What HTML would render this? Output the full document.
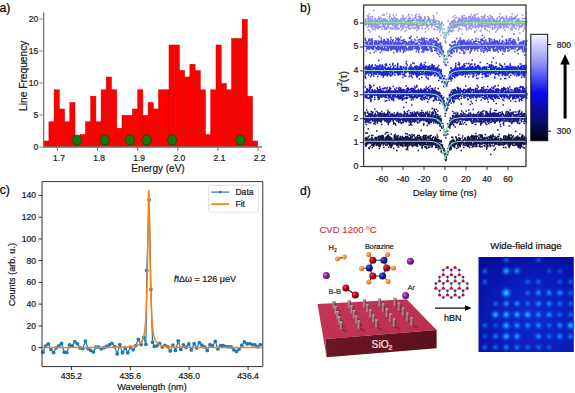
<!DOCTYPE html>
<html><head><meta charset="utf-8"><style>
html,body{margin:0;padding:0;background:#fff;width:575px;height:393px;overflow:hidden}
svg{display:block;font-family:"Liberation Sans", sans-serif}
text{stroke:currentColor;stroke-width:0.22px}
</style></head><body>
<svg width="575" height="393" viewBox="0 0 575 393">
<g fill="#ff0000" stroke="#c80000" stroke-width="0.5"><rect x="43.7" y="141" width="5.2" height="6"/><rect x="48.9" y="121.8" width="5.2" height="25.2"/><rect x="54.1" y="89.8" width="5.2" height="57.2"/><rect x="59.4" y="109" width="5.2" height="38"/><rect x="64.6" y="121.8" width="5.2" height="25.2"/><rect x="69.8" y="102.6" width="5.2" height="44.4"/><rect x="75" y="141" width="5.2" height="6"/><rect x="80.2" y="134.6" width="5.2" height="12.4"/><rect x="85.5" y="121.8" width="5.2" height="25.2"/><rect x="90.7" y="96.2" width="5.2" height="50.8"/><rect x="95.9" y="121.8" width="5.2" height="25.2"/><rect x="101.1" y="89.8" width="5.2" height="57.2"/><rect x="106.3" y="77" width="5.2" height="70"/><rect x="111.6" y="89.8" width="5.2" height="57.2"/><rect x="116.8" y="128.2" width="5.2" height="18.8"/><rect x="122" y="115.4" width="5.2" height="31.6"/><rect x="127.2" y="115.4" width="5.2" height="31.6"/><rect x="132.4" y="109" width="5.2" height="38"/><rect x="137.7" y="89.8" width="5.2" height="57.2"/><rect x="142.9" y="115.4" width="5.2" height="31.6"/><rect x="148.1" y="102.6" width="5.2" height="44.4"/><rect x="153.3" y="109" width="5.2" height="38"/><rect x="158.5" y="89.8" width="5.2" height="57.2"/><rect x="163.8" y="89.8" width="5.2" height="57.2"/><rect x="169" y="45" width="5.2" height="102"/><rect x="174.2" y="45" width="5.2" height="102"/><rect x="179.4" y="70.6" width="5.2" height="76.4"/><rect x="184.6" y="77" width="5.2" height="70"/><rect x="189.9" y="64.2" width="5.2" height="82.8"/><rect x="195.1" y="70.6" width="5.2" height="76.4"/><rect x="200.3" y="89.8" width="5.2" height="57.2"/><rect x="205.5" y="134.6" width="5.2" height="12.4"/><rect x="210.7" y="89.8" width="5.2" height="57.2"/><rect x="216" y="45" width="5.2" height="102"/><rect x="221.2" y="83.4" width="5.2" height="63.6"/><rect x="226.4" y="89.8" width="5.2" height="57.2"/><rect x="231.6" y="38.6" width="5.2" height="108.4"/><rect x="236.8" y="38.6" width="5.2" height="108.4"/><rect x="242.1" y="19.4" width="5.2" height="127.6"/><rect x="247.3" y="96.2" width="5.2" height="50.8"/><rect x="252.5" y="141" width="5.2" height="6"/></g>
<g fill="#0e7a0e" stroke="#064a06" stroke-width="0.8"><polygon points="71.8,139.9 74.3,135.2 79.3,135.2 81.8,139.9 79.3,144.6 74.3,144.6"/><polygon points="99.8,139.9 102.3,135.2 107.3,135.2 109.8,139.9 107.3,144.6 102.3,144.6"/><polygon points="124.8,139.9 127.3,135.2 132.3,135.2 134.8,139.9 132.3,144.6 127.3,144.6"/><polygon points="141.8,139.9 144.3,135.2 149.3,135.2 151.8,139.9 149.3,144.6 144.3,144.6"/><polygon points="167.2,139.9 169.7,135.2 174.7,135.2 177.2,139.9 174.7,144.6 169.7,144.6"/><polygon points="235.5,139.9 238,135.2 243,135.2 245.5,139.9 243,144.6 238,144.6"/></g>
<path d="M43.7 12.5V147H262" fill="none" stroke="#7a7a7a" stroke-width="1.3"/>
<text x="38.2" y="150" font-size="8.5" text-anchor="end" fill="#1a1a1a" style="color:#1a1a1a">0</text>
<text x="38.2" y="118" font-size="8.5" text-anchor="end" fill="#1a1a1a" style="color:#1a1a1a">5</text>
<text x="38.2" y="86" font-size="8.5" text-anchor="end" fill="#1a1a1a" style="color:#1a1a1a">10</text>
<text x="38.2" y="54" font-size="8.5" text-anchor="end" fill="#1a1a1a" style="color:#1a1a1a">15</text>
<text x="38.2" y="22" font-size="8.5" text-anchor="end" fill="#1a1a1a" style="color:#1a1a1a">20</text>
<text x="59" y="160.9" font-size="8.5" text-anchor="middle" fill="#1a1a1a" style="color:#1a1a1a">1.7</text>
<text x="99.1" y="160.9" font-size="8.5" text-anchor="middle" fill="#1a1a1a" style="color:#1a1a1a">1.8</text>
<text x="139.2" y="160.9" font-size="8.5" text-anchor="middle" fill="#1a1a1a" style="color:#1a1a1a">1.9</text>
<text x="179.4" y="160.9" font-size="8.5" text-anchor="middle" fill="#1a1a1a" style="color:#1a1a1a">2.0</text>
<text x="219.5" y="160.9" font-size="8.5" text-anchor="middle" fill="#1a1a1a" style="color:#1a1a1a">2.1</text>
<text x="259.6" y="160.9" font-size="8.5" text-anchor="middle" fill="#1a1a1a" style="color:#1a1a1a">2.2</text>
<path d="M39.3 147H43.7M39.3 115H43.7M39.3 83H43.7M39.3 51H43.7M39.3 19H43.7M57.4 147V151M97.5 147V151M137.6 147V151M177.8 147V151M217.9 147V151M258 147V151" stroke="#7a7a7a" stroke-width="1"/>
<text x="158" y="172.2" font-size="10" text-anchor="middle" fill="#1a1a1a" style="color:#1a1a1a">Energy (eV)</text>
<text transform="translate(26.5 75.8) rotate(-90)" font-size="10.2" text-anchor="middle" fill="#1a1a1a" style="color:#1a1a1a">Line Frequency</text>
<text x="-0.6" y="12.1" font-size="12.2" text-anchor="start" fill="#000" style="color:#000">a)</text>
<path transform="scale(0.5)" d="M729 277h3m-3 2h3m-3 0h3m-3 1h3m-3 0h3m-3 8h3m-2 -22h3m-3 11h3m-3 1h3m-3 5h3m-3 4h3m-3 2h3m-3 3h3m-2 -17h3m-3 3h3m-3 12h3m-3 2h3m-2 -15h3m-3 3h3m-3 1h3m-3 2h3m-3 0h3m-3 1h3m-3 1h3m-3 1h3m-3 1h3m-2 -21h3m-3 11h3m-3 4h3m-3 3h3m-3 1h3m-3 3h3m-2 -9h3m-3 2h3m-3 7h3m-2 -30h3m-3 16h3m-3 10h3m-3 1h3m-2 -5h3m-3 2h3m-3 0h3m-3 4h3m-3 0h3m-3 10h3m-2 -24h3m-3 6h3m-3 1h3m-3 18h3m-2 -19h3m-3 4h3m-3 0h3m-3 2h3m-2 -1h3m-3 2h3m-3 0h3m-3 1h3m-3 0h3m-3 7h3m-2 -15h3m-3 7h3m-3 0h3m-2 -6h3m-3 1h3m-3 0h3m-3 0h3m-3 0h3m-3 1h3m-3 0h3m-3 2h3m-3 3h3m-2 -15h3m-3 4h3m-3 0h3m-3 10h3m-3 5h3m-2 -13h3m-3 0h3m-3 3h3m-3 9h3m-3 6h3m-2 -24h3m-3 9h3m-3 1h3m-3 3h3m-3 0h3m-3 7h3m-2 -12h3m-3 0h3m-3 2h3m-3 1h3m-3 3h3m-3 1h3m-2 -3h3m-3 5h3m-3 0h3m-3 1h3m-3 2h3m-3 1h3m-2 -9h3m-3 0h3m-3 1h3m-3 5h3m-2 -12h3m-3 5h3m-3 1h3m-3 0h3m-3 3h3m-3 1h3m-3 0h3m-2 -12h3m-3 4h3m-3 2h3m-3 2h3m-3 3h3m-3 1h3m-2 -10h3m-3 1h3m-3 3h3m-3 2h3m-3 0h3m-3 1h3m-2 -8h3m-3 0h3m-3 4h3m-3 1h3m-3 1h3m-3 3h3m-3 1h3m-3 3h3m-3 2h3m-2 -29h3m-3 13h3m-3 7h3m-3 3h3m-3 2h3m-2 -9h3m-3 9h3m-3 3h3m-2 -8h3m-2 -9h3m-3 10h3m-3 0h3m-3 0h3m-3 2h3m-2 -10h3m-3 3h3m-3 2h3m-3 4h3m-3 2h3m-3 2h3m-3 4h3m-2 -15h3m-3 0h3m-3 0h3m-3 3h3m-3 2h3m-3 0h3m-3 2h3m-3 2h3m-3 3h3m-3 8h3m-2 -25h3m-3 5h3m-3 5h3m-3 0h3m-3 4h3m-3 7h3m-2 -20h3m-3 0h3m-3 5h3m-3 3h3m-3 2h3m-3 5h3m-3 3h3m-3 0h3m-2 -17h3m-3 11h3m-3 1h3m-3 0h3m-2 -10h3m-3 3h3m-3 1h3m-3 2h3m-3 3h3m-3 0h3m-3 0h3m-3 3h3m-2 -16h3m-3 9h3m-3 1h3m-3 2h3m-2 -13h3m-3 2h3m-3 8h3m-3 0h3m-3 1h3m-3 1h3m-3 2h3m-3 1h3m-2 -11h3m-3 2h3m-3 1h3m-3 0h3m-3 2h3m-3 1h3m-3 0h3m-3 4h3m-2 -13h3m-3 3h3m-3 2h3m-3 3h3m-3 2h3m-3 3h3m-3 0h3m-3 1h3m-3 2h3m-3 2h3m-2 -12h3m-3 10h3m-3 1h3m-3 6h3m-2 -15h3m-3 5h3m-2 -6h3m-3 1h3m-3 1h3m-3 0h3m-3 0h3m-3 1h3m-3 2h3m-3 2h3m-3 1h3m-2 -19h3m-3 7h3m-3 4h3m-3 1h3m-3 2h3m-2 -5h3m-3 8h3m-3 5h3m-2 -25h3m-3 17h3m-3 3h3m-3 0h3m-2 -12h3m-3 3h3m-3 4h3m-3 3h3m-3 3h3m-2 -8h3m-3 4h3m-3 2h3m-3 0h3m-3 0h3m-3 2h3m-3 3h3m-3 1h3m-2 -25h3m-3 7h3m-3 3h3m-3 1h3m-3 5h3m-3 0h3m-3 1h3m-3 0h3m-3 0h3m-3 3h3m-3 1h3m-3 1h3m-2 -17h3m-3 2h3m-3 6h3m-3 1h3m-3 0h3m-3 0h3m-3 3h3m-3 0h3m-3 0h3m-3 1h3m-3 2h3m-3 1h3m-2 -13h3m-3 4h3m-3 7h3m-3 4h3m-3 6h3m-2 -18h3m-3 3h3m-3 2h3m-3 7h3m-2 -15h3m-3 6h3m-3 1h3m-3 1h3m-3 4h3m-3 2h3m-3 4h3m-2 -15h3m-3 1h3m-3 1h3m-3 1h3m-3 3h3m-3 2h3m-3 1h3m-3 0h3m-3 0h3m-3 1h3m-2 -9h3m-3 2h3m-3 3h3m-3 5h3m-3 0h3m-3 1h3m-3 7h3m-2 -27h3m-3 10h3m-3 4h3m-3 2h3m-3 6h3m-3 0h3m-3 3h3m-3 1h3m-2 -18h3m-3 3h3m-3 9h3m-2 -8h3m-3 3h3m-3 6h3m-3 2h3m-2 -9h3m-3 0h3m-3 2h3m-3 1h3m-3 2h3m-2 -6h3m-3 2h3m-3 0h3m-3 3h3m-2 0h3m-3 2h3m-3 0h3m-3 9h3m-2 -26h3m-3 2h3m-3 0h3m-3 1h3m-3 1h3m-3 1h3m-3 0h3m-3 1h3m-3 2h3m-3 1h3m-3 0h3m-3 3h3m-2 -7h3m-3 6h3m-3 5h3m-3 1h3m-2 -19h3m-3 4h3m-3 3h3m-3 0h3m-3 2h3m-2 0h3m-3 1h3m-3 2h3m-2 -9h3m-3 4h3m-3 4h3m-3 2h3m-3 1h3m-3 2h3m-3 1h3m-3 2h3m-2 -9h3m-3 3h3m-3 1h3m-3 1h3m-3 1h3m-3 4h3m-3 2h3m-3 10h3m-2 -27h3m-3 1h3m-3 1h3m-3 6h3m-3 0h3m-3 5h3m-3 0h3m-3 2h3m-3 2h3m-2 -17h3m-3 15h3m-3 2h3m-3 0h3m-2 -20h3m-3 7h3m-3 3h3m-3 1h3m-3 1h3m-3 0h3m-3 2h3m-3 2h3m-3 7h3m-2 -17h3m-3 17h3m-2 -14h3m-3 2h3m-3 5h3m-3 1h3m-3 1h3m-2 -12h3m-3 3h3m-3 2h3m-3 3h3m-2 -12h3m-3 1h3m-3 4h3m-3 1h3m-3 2h3m-3 0h3m-3 4h3m-3 3h3m-3 2h3m-2 -14h3m-3 10h3m-3 2h3m-3 1h3m-3 1h3m-3 1h3m-2 -14h3m-3 9h3m-3 3h3m-3 1h3m-2 -14h3m-3 2h3m-3 0h3m-3 0h3m-3 1h3m-3 2h3m-3 6h3m-3 1h3m-2 -15h3m-3 2h3m-3 5h3m-3 3h3m-3 0h3m-3 0h3m-3 2h3m-3 6h3m-2 -10h3m-3 1h3m-3 5h3m-3 2h3m-3 0h3m-3 0h3m-3 4h3m-2 -15h3m-3 5h3m-3 0h3m-3 3h3m-2 -11h3m-3 2h3m-3 1h3m-3 3h3m-3 2h3m-3 2h3m-3 1h3m-2 -11h3m-3 3h3m-3 3h3m-3 1h3m-3 1h3m-3 2h3m-3 1h3m-3 0h3m-3 5h3m-2 -9h3m-3 1h3m-3 1h3m-3 0h3m-3 3h3m-3 4h3m-2 -15h3m-3 1h3m-3 0h3m-3 5h3m-3 2h3m-3 0h3m-3 1h3m-3 1h3m-3 3h3m-2 -22h3m-3 6h3m-3 4h3m-3 2h3m-3 4h3m-3 1h3m-3 3h3m-3 1h3m-3 2h3m-3 2h3m-2 -19h3m-3 1h3m-3 4h3m-3 3h3m-3 1h3m-3 0h3m-3 1h3m-3 1h3m-3 2h3m-3 3h3m-3 1h3m-3 9h3m-2 -25h3m-3 6h3m-3 1h3m-3 0h3m-3 2h3m-3 2h3m-3 6h3m-2 -23h3m-3 8h3m-3 1h3m-3 3h3m-3 2h3m-3 1h3m-3 3h3m-3 10h3m-2 -23h3m-3 1h3m-3 4h3m-3 1h3m-3 2h3m-3 3h3m-3 0h3m-3 3h3m-3 0h3m-3 2h3m-3 3h3m-3 2h3m-3 5h3m-2 -22h3m-3 1h3m-3 1h3m-3 1h3m-3 0h3m-3 6h3m-3 0h3m-3 1h3m-3 0h3m-3 2h3m-2 -13h3m-3 3h3m-3 1h3m-3 1h3m-3 0h3m-3 0h3m-3 1h3m-3 2h3m-3 0h3m-2 -14h3m-3 6h3m-3 2h3m-3 2h3m-3 0h3m-3 1h3m-3 4h3m-3 6h3m-2 -12h3m-3 1h3m-3 7h3m-3 3h3m-2 -11h3m-3 3h3m-3 1h3m-3 0h3m-3 1h3m-2 -13h3m-3 2h3m-3 2h3m-3 3h3m-3 1h3m-3 7h3m-3 0h3m-2 -6h3m-3 9h3m-2 -9h3m-3 1h3m-3 1h3m-3 1h3m-3 1h3m-3 1h3m-3 1h3m-3 0h3m-3 2h3m-3 2h3m-2 -21h3m-3 5h3m-3 4h3m-3 1h3m-3 5h3m-3 0h3m-3 2h3m-3 6h3m-2 -13h3m-3 3h3m-3 11h3m-2 -22h3m-3 7h3m-3 0h3m-3 1h3m-3 1h3m-3 4h3m-3 1h3m-3 5h3m-2 -9h3m-3 3h3m-3 3h3m-3 2h3m-2 -19h3m-3 2h3m-3 6h3m-3 5h3m-3 1h3m-3 2h3m-3 0h3m-2 -8h3m-3 3h3m-3 0h3m-3 1h3m-3 2h3m-3 7h3m-2 -16h3m-3 2h3m-3 0h3m-3 1h3m-3 7h3m-3 0h3m-3 5h3m-3 0h3m-2 -11h3m-3 5h3m-3 2h3m-3 3h3m-2 -11h3m-3 1h3m-3 3h3m-3 7h3m-2 -15h3m-3 4h3m-3 2h3m-3 5h3m-3 7h3m-2 -15h3m-3 1h3m-3 1h3m-3 0h3m-3 3h3m-3 5h3m-3 0h3m-3 2h3m-3 1h3m-2 -19h3m-3 8h3m-3 1h3m-3 12h3m-2 -17h3m-3 5h3m-3 5h3m-3 2h3m-3 14h3m-2 -25h3m-3 6h3m-3 0h3m-3 2h3m-3 2h3m-2 -15h3m-3 4h3m-2 2h3m-3 0h3m-3 6h3m-3 5h3m-3 1h3m-2 -16h3m-3 1h3m-3 5h3m-3 1h3m-3 1h3m-3 4h3m-3 5h3m-2 -6h3m-2 -7h3m-3 3h3m-3 1h3m-3 3h3m-3 0h3m-3 0h3m-3 1h3m-3 3h3m-2 -7h3m-3 1h3m-3 0h3m-3 2h3m-3 2h3m-3 0h3m-3 2h3m-3 1h3m-3 1h3m-3 5h3m-2 -21h3m-3 6h3m-3 9h3m-3 3h3m-3 4h3m-2 -17h3m-3 0h3m-3 1h3m-3 1h3m-3 3h3m-3 0h3m-3 3h3m-2 -12h3m-3 3h3m-3 3h3m-3 0h3m-3 0h3m-3 4h3m-3 1h3m-3 1h3m-3 1h3m-3 1h3m-2 -18h3m-3 2h3m-3 5h3m-3 3h3m-3 0h3m-3 1h3m-3 7h3m-3 1h3m-2 -12h3m-3 1h3m-3 1h3m-3 1h3m-3 1h3m-3 1h3m-3 0h3m-3 3h3m-2 -11h3m-3 3h3m-3 0h3m-3 2h3m-3 3h3m-3 11h3m-2 -23h3m-3 13h3m-3 2h3m-3 1h3m-3 2h3m-3 5h3m-2 -22h3m-3 1h3m-2 -2h3m-3 5h3m-3 3h3m-3 1h3m-3 4h3m-3 5h3m-3 0h3m-3 4h3m-3 3h3m-2 -14h3m-3 1h3m-3 14h3m-2 -14h3m-3 2h3m-3 3h3m-2 -14h3m-3 2h3m-3 6h3m-3 5h3m-3 0h3m-3 3h3m-2 -17h3m-3 7h3m-3 0h3m-3 3h3m-3 2h3m-3 10h3m-2 -19h3m-3 5h3m-3 0h3m-3 1h3m-3 1h3m-3 5h3m-3 0h3m-3 6h3m-2 -22h3m-3 9h3m-3 2h3m-3 7h3m-2 -18h3m-3 12h3m-3 3h3m-3 1h3m-3 2h3m-3 4h3m-2 -19h3m-3 2h3m-3 1h3m-3 5h3m-3 0h3m-3 1h3m-3 3h3m-2 -9h3m-3 1h3m-3 4h3m-3 1h3m-3 2h3m-3 1h3m-2 -16h3m-3 10h3m-3 1h3m-3 4h3m-3 1h3m-3 3h3m-2 -6h3m-3 1h3m-3 1h3m-3 2h3m-3 6h3m-2 -17h3m-3 1h3m-3 3h3m-3 3h3m-3 6h3m-3 0h3m-3 3h3m-2 -18h3m-3 6h3m-3 2h3m-3 2h3m-3 3h3m-2 -13h3m-3 6h3m-3 0h3m-3 3h3m-3 1h3m-3 1h3m-3 0h3m-3 0h3m-2 -12h3m-3 1h3m-3 7h3m-3 3h3m-3 4h3m-2 -9h3m-3 5h3m-2 -7h3m-3 1h3m-3 4h3m-3 0h3m-3 1h3m-3 1h3m-3 0h3m-3 1h3m-2 -9h3m-3 6h3m-3 2h3m-3 0h3m-3 5h3m-2 -16h3m-3 6h3m-3 0h3m-3 2h3m-3 1h3m-3 2h3m-3 0h3m-3 3h3m-3 3h3m-3 4h3m-2 -11h3m-3 1h3m-3 1h3m-3 7h3m-2 -16h3m-3 3h3m-3 1h3m-3 0h3m-3 5h3m-3 4h3m-3 5h3m-2 -25h3m-3 10h3m-3 2h3m-3 1h3m-3 11h3m-2 -20h3m-3 5h3m-3 2h3m-3 1h3m-3 2h3m-3 2h3m-2 -7h3m-3 5h3m-3 0h3m-3 2h3m-3 1h3m-3 2h3m-3 1h3m-3 9h3m-2 -17h3m-3 1h3m-3 5h3m-3 2h3m-3 0h3m-3 1h3m-3 2h3m-3 1h3m-2 -14h3m-3 8h3m-3 7h3m-3 1h3m-2 -14h3m-3 0h3m-3 1h3m-3 4h3m-3 4h3m-3 1h3m-3 1h3m-2 -1h3m-3 5h3m-2 -7h3m-3 0h3m-3 7h3m-2 -16h3m-3 3h3m-3 11h3m-3 2h3m-3 5h3m-3 2h3m-2 -15h3m-3 3h3m-2 -1h3m-3 2h3m-3 3h3m-3 2h3m-1 -2h3m-3 10h3m-2 -5h3m-2 -3h3m-3 9h3m-2 -5h3m-3 6h3m-3 3h3m-2 -4h3m-3 7h3m-3 1h3m-3 0h3m-3 3h3m-2 -8h3m-3 11h3m-2 -13h3m-3 6h3m-3 1h3m-3 4h3m0 -22h3m-3 6h3m-3 6h3m-2 -5h3m-1 -14h3m-3 1h3m-3 1h3m-3 1h3m-2 -6h3m-3 10h3m-3 3h3m-2 -16h3m-3 5h3m-3 2h3m-3 2h3m-3 1h3m-3 1h3m-2 -12h3m-3 1h3m-3 3h3m-3 1h3m-3 2h3m-3 2h3m-3 0h3m-3 2h3m-2 -5h3m-3 6h3m-3 3h3m-2 -24h3m-3 8h3m-3 1h3m-2 -2h3m-2 -6h3m-3 0h3m-3 6h3m-3 8h3m-3 2h3m-3 1h3m-2 -13h3m-3 4h3m-3 2h3m-3 6h3m-2 -7h3m-3 2h3m-3 5h3m-3 2h3m-2 -12h3m-3 3h3m-3 6h3m-3 3h3m-2 -10h3m-3 4h3m-3 1h3m-3 2h3m-3 1h3m-3 4h3m-2 -12h3m-3 6h3m-2 -15h3m-3 10h3m-3 0h3m-3 1h3m-3 1h3m-3 0h3m-3 3h3m-2 -14h3m-3 1h3m-3 8h3m-3 0h3m-3 3h3m-2 -9h3m-3 3h3m-3 16h3m-2 -17h3m-3 2h3m-3 2h3m-3 2h3m-2 -6h3m-3 3h3m-3 0h3m-3 1h3m-3 3h3m-3 2h3m-3 1h3m-3 2h3m-2 -12h3m-3 1h3m-3 0h3m-3 5h3m-3 1h3m-3 8h3m-2 -25h3m-3 6h3m-2 0h3m-3 2h3m-3 2h3m-3 5h3m-3 1h3m-3 0h3m-3 0h3m-3 4h3m-2 -13h3m-3 2h3m-3 0h3m-3 1h3m-3 2h3m-3 1h3m-3 2h3m-3 3h3m-3 4h3m-2 -14h3m-3 4h3m-3 1h3m-3 6h3m-3 1h3m-3 3h3m-2 -7h3m-2 -4h3m-3 1h3m-3 1h3m-3 4h3m-3 13h3m-2 -15h3m-2 -10h3m-3 5h3m-3 1h3m-3 3h3m-2 -13h3m-3 11h3m-3 1h3m-3 0h3m-2 -4h3m-3 1h3m-3 0h3m-3 1h3m-3 0h3m-3 3h3m-3 4h3m-3 1h3m-2 -9h3m-3 1h3m-3 2h3m-3 1h3m-3 2h3m-3 3h3m-3 0h3m-3 5h3m-1 -19h3m-3 2h3m-3 1h3m-3 0h3m-2 -2h3m-3 10h3m-3 4h3m-2 -10h3m-3 1h3m-3 2h3m-2 -4h3m-3 2h3m-3 3h3m-3 1h3m-3 1h3m-3 1h3m-2 -6h3m-3 1h3m-3 1h3m-3 2h3m-3 1h3m-3 3h3m-2 -15h3m-3 5h3m-3 1h3m-3 2h3m-3 1h3m-3 5h3m-3 2h3m-2 -16h3m-3 3h3m-3 4h3m-3 3h3m-3 4h3m-3 1h3m-3 3h3m-2 -20h3m-3 1h3m-3 2h3m-3 2h3m-3 2h3m-3 2h3m-3 3h3m-3 2h3m-3 3h3m-2 -12h3m-3 11h3m-3 0h3m-3 2h3m-3 2h3m-2 -18h3m-3 6h3m-3 3h3m-2 -6h3m-3 9h3m-3 0h3m-3 0h3m-3 1h3m-3 7h3m-2 -17h3m-3 3h3m-3 1h3m-3 4h3m-2 -12h3m-3 11h3m-3 5h3m-2 -14h3m-3 8h3m-3 3h3m-2 -16h3m-3 9h3m-3 1h3m-2 -8h3m-3 1h3m-3 4h3m-3 2h3m-3 8h3m-3 2h3m-3 0h3m-3 4h3m-2 -20h3m-3 3h3m-3 5h3m-3 1h3m-2 -11h3m-3 2h3m-3 6h3m-3 0h3m-3 7h3m-3 3h3m-3 3h3m-2 -12h3m-3 10h3m-2 -18h3m-3 3h3m-3 1h3m-3 2h3m-3 4h3m-3 2h3m-3 4h3m-2 -9h3m-3 1h3m-3 4h3m-3 1h3m-3 1h3m-2 -15h3m-3 4h3m-3 6h3m-3 7h3m-3 4h3m-2 -26h3m-3 15h3m-3 3h3m-3 1h3m-2 -12h3m-3 3h3m-3 2h3m-3 2h3m-3 4h3m-3 7h3m-2 -20h3m-3 6h3m-3 2h3m-3 4h3m-3 5h3m-3 1h3m-3 1h3m-3 2h3m-2 -11h3m-3 3h3m-3 2h3m-2 -14h3m-3 7h3m-3 1h3m-3 2h3m-3 1h3m-3 0h3m-3 3h3m-2 -2h3m-2 -9h3m-3 3h3m-3 4h3m-3 2h3m-3 2h3m-2 -17h3m-3 10h3m-3 0h3m-3 3h3m-3 1h3m-3 1h3m-3 2h3m-3 6h3m-2 -15h3m-3 2h3m-3 0h3m-3 1h3m-3 1h3m-3 2h3m-3 6h3m-3 1h3m-2 -21h3m-3 4h3m-3 0h3m-3 5h3m-3 3h3m-3 6h3m-2 -17h3m-3 3h3m-3 12h3m-3 8h3m-2 -13h3m-3 0h3m-2 -11h3m-3 0h3m-3 5h3m-3 0h3m-3 4h3m-3 4h3m-3 0h3m-3 4h3m-3 1h3m-3 0h3m-2 -17h3m-3 3h3m-3 5h3m-3 8h3m-3 1h3m-3 5h3m-2 -15h3m-3 4h3m-3 0h3m-3 2h3m-2 -7h3m-3 8h3m-3 0h3m-3 1h3m-2 -10h3m-3 6h3m-3 2h3m-2 -9h3m-3 0h3m-3 1h3m-3 3h3m-3 1h3m-3 5h3m-3 1h3m-3 5h3m-2 -14h3m-3 3h3m-3 1h3m-3 3h3m-3 2h3m-3 1h3m-3 5h3m-3 1h3m-2 -24h3m-3 14h3m-3 4h3m-2 -10h3m-3 5h3m-3 3h3m-2 -10h3m-3 2h3m-3 4h3m-3 5h3m-3 0h3m-3 0h3m-3 1h3m-3 2h3m-2 -8h3m-3 2h3m-3 2h3m-3 1h3m-3 4h3m-3 5h3m-3 3h3m-2 -22h3m-3 6h3m-3 0h3m-3 1h3m-3 0h3m-3 0h3m-3 0h3m-3 4h3m-3 1h3m-3 5h3m-2 -15h3m-3 2h3m-3 1h3m-3 5h3m-3 6h3m-3 1h3m-2 -19h3m-3 8h3m-3 1h3m-2 -2h3m-3 5h3m-2 -7h3m-3 1h3m-3 10h3m-2 -17h3m-3 2h3m-3 1h3m-3 8h3m-3 0h3m-3 0h3m-3 4h3m-2 -14h3m-3 6h3m-3 3h3m-3 3h3m-3 0h3m-3 4h3m-3 3h3m-2 -22h3m-3 3h3m-3 9h3m-3 1h3m-3 25h3m-2 -37h3m-3 1h3m-3 2h3m-3 3h3m-3 0h3m-3 1h3m-3 2h3m-3 0h3m-3 0h3m-3 3h3m-3 2h3m-3 0h3m-2 -12h3m-3 2h3m-3 0h3m-3 1h3m-3 3h3m-3 0h3m-3 2h3m-3 2h3m-2 -11h3m-3 0h3m-3 3h3m-3 1h3m-3 5h3m-3 1h3m-3 1h3m-3 3h3m-3 4h3m-2 -22h3m-3 5h3m-3 3h3m-3 1h3m-3 2h3m-3 0h3m-3 3h3m-3 1h3m-3 1h3m-3 0h3m-2 -13h3m-3 12h3m-3 0h3m-2 -2h3m-3 0h3m-3 2h3m-3 8h3m-2 -13h3m-3 8h3m-3 13h3m-2 -27h3m-3 4h3m-3 0h3m-3 3h3m-3 4h3m-3 1h3m-3 1h3m-3 3h3m-2 -10h3m-3 3h3m-3 0h3m-3 2h3m-3 4h3m-3 0h3m-3 9h3m-2 -21h3m-3 6h3m-3 1h3m-3 0h3m-3 3h3m-3 2h3m-2 -13h3m-3 0h3m-3 4h3m-3 2h3m-3 2h3m-3 0h3m-3 2h3m-2 -8h3m-3 2h3m-3 2h3m-3 3h3m-2 -5h3m-3 1h3m-3 1h3m-3 1h3m-3 6h3m-2 -15h3m-3 5h3m-3 4h3m-3 1h3m-3 0h3m-3 5h3m-2 -8h3m-3 0h3m-3 1h3m-3 1h3m-3 2h3m-3 1h3m-3 0h3m-3 0h3m-3 4h3m-2 -16h3m-3 4h3m-3 2h3m-3 2h3m-3 6h3m-3 0h3m-3 1h3m-3 2h3m-3 0h3m-2 -21h3m-3 13h3m-3 1h3m-3 1h3m-3 0h3m-3 1h3m-3 2h3m-2 -4h3m-3 2h3m-2 -4h3m-3 0h3m-3 1h3m-3 1h3m-3 2h3m-3 0h3m-3 1h3m-3 4h3m-2 -13h3m-3 2h3m-3 4h3m-3 0h3m-3 0h3m-3 1h3m-3 0h3m-3 1h3m-3 1h3m-3 0h3m-3 2h3m-3 0h3m-3 0h3m-2 0h3m-3 1h3m-2 -10h3m-3 1h3m-3 2h3m-3 1h3m-2 -2h3m-3 3h3m-2 4h3m-2 -9h3m-3 0h3m-3 8h3m-3 3h3m-2 -17h3m-3 2h3m-3 1h3m-3 2h3m-3 6h3m-3 11h3m-2 -23h3m-3 6h3m-3 1h3m-3 1h3m-3 2h3m-3 1h3m-3 1h3m-3 1h3m-3 4h3m-2 -12h3m-3 5h3m-3 5h3m-2 -10h3m-3 3h3m-3 3h3m-3 2h3m-3 1h3m-2 -14h3m-3 1h3m-3 3h3m-3 0h3m-3 1h3m-3 3h3m-3 2h3m-3 1h3m-3 0h3m-3 3h3m-3 2h3m-3 7h3m-2 -14h3m-3 3h3m-2 -7h3m-3 0h3m-3 1h3m-3 5h3m-3 3h3m-2 -12h3m-3 10h3m-2 -6h3m-3 1h3m-3 0h3m-3 2h3m-3 3h3m-3 4h3m-2 -16h3m-3 3h3m-3 7h3m-3 10h3m-2 -23h3m-3 0h3m-3 11h3m-3 1h3m-3 4h3m-3 0h3m-3 3h3m-3 4h3m-2 -21h3m-3 1h3m-3 6h3m-3 2h3m-3 0h3m-3 1h3m-3 8h3m-3 3h3m-3 3h3m-2 -24h3m-3 4h3m-3 1h3m-3 4h3m-3 2h3m-3 0h3m-3 4h3m-2 -7h3m-3 2h3m-3 4h3m-3 3h3m-3 3h3m-2 -12h3m-3 2h3m-3 5h3m-2 -16h3m-3 6h3m-3 3h3m-3 2h3m-3 2h3m-3 0h3m-3 1h3m-3 2h3m-2 -6h3m-3 4h3m-3 2h3m-3 2h3m-2 -15h3m-3 2h3m-3 1h3m-3 5h3m-3 0h3m-3 4h3m-3 3h3m-2 -12h3m-3 5h3m-3 0h3m-3 1h3m-3 3h3m-3 2h3m-3 3h3m-2 -18h3m-3 8h3m-3 2h3m-3 3h3m-2 -7h3m-3 2h3m-3 0h3m-3 1h3m-2 1h3m-3 4h3m-3 0h3m-3 5h3m-2 -13h3m-3 7h3m-3 1h3m-3 0h3m-2 -11h3m-3 3h3m-3 2h3m-3 1h3m-3 1h3m-3 0h3m-3 4h3m-3 0h3m-3 4h3m-2 -27h3m-3 12h3m-3 2h3m-3 4h3m-3 8h3m-2 -13h3m-3 3h3m-3 3h3m-3 1h3m-3 1h3m-3 0h3m-3 0h3m-3 2h3m-3 3h3m-3 0h3m-2 -15h3m-3 7h3m-3 1h3m-3 1h3m-2 -6h3m-3 3h3m-3 1h3m-3 2h3m-3 1h3m-3 1h3m-3 3h3m-3 3h3m-2 -19h3m-3 5h3m-3 1h3m-3 4h3m-3 3h3m-3 1h3m-3 1h3m-2 -12h3m-3 0h3m-3 2h3m-3 2h3m-3 0h3m-3 1h3m-3 6h3m-3 8h3m-2 -8h3m-3 0h3m-3 1h3m-3 3h3m-3 2h3m-2 -15h3m-3 1h3m-3 6h3m-3 1h3m-3 10h3m-2 -27h3m-3 7h3m-3 6h3m-3 2h3m-3 1h3m-3 1h3m-2 -6h3m-3 4h3m-3 2h3m-3 1h3m-3 2h3m-3 1h3m-3 1h3m-3 1h3m-3 2h3m-3 3h3m-2 -15h3m-3 0h3m-3 2h3m-3 1h3m-3 0h3m-3 0h3m-3 1h3m-3 3h3m-2 -12h3m-3 2h3m-3 0h3m-3 1h3m-3 0h3m-3 0h3m-3 3h3m-3 3h3m-3 2h3m-3 0h3m-3 1h3m-3 2h3m-2 -17h3m-3 8h3m-3 0h3m-3 1h3m-3 11h3m-2 -23h3m-3 3h3m-3 2h3m-3 1h3m-3 4h3m-3 0h3m-3 1h3m-3 1h3m-3 1h3m-3 3h3m-3 1h3m-2 -9h3m-3 4h3m-3 1h3m-3 3h3m-3 1h3m-2 -15h3m-3 13h3m-3 0h3m-3 0h3m-3 4h3m-3 6h3m-2 -19h3m-3 4h3m-3 0h3m-3 6h3m-3 3h3m-2 -12h3m-3 2h3m-3 0h3m-3 4h3m-3 0h3m-3 4h3m-3 9h3m-2 -22h3m-3 2h3m-3 4h3m-3 3h3m-2 -6h3m-3 2h3m-3 1h3m-3 2h3m-3 1h3m-3 4h3m-3 1h3m-2 -10h3m-3 0h3m-3 4h3m-3 0h3m-3 1h3m-3 3h3m-3 2h3m-2 -11h3m-3 4h3m-3 6h3m-3 0h3" stroke="#15154e" stroke-width="2.6" fill="none"/>
<polyline points="364.1,141.2 364.7,141.2 365.2,141.2 365.7,141.2 366.2,141.2 366.8,141.2 367.3,141.2 367.8,141.2 368.4,141.2 368.9,141.2 369.4,141.2 369.9,141.2 370.4,141.2 371,141.2 371.5,141.2 372,141.2 372.6,141.2 373.1,141.2 373.6,141.2 374.1,141.2 374.6,141.2 375.2,141.2 375.7,141.2 376.2,141.2 376.8,141.2 377.3,141.2 377.8,141.2 378.3,141.2 378.9,141.2 379.4,141.2 379.9,141.2 380.4,141.2 380.9,141.2 381.5,141.2 382,141.2 382.5,141.2 383.1,141.2 383.6,141.2 384.1,141.2 384.6,141.2 385.1,141.2 385.7,141.2 386.2,141.2 386.7,141.2 387.2,141.2 387.8,141.2 388.3,141.2 388.8,141.2 389.4,141.2 389.9,141.2 390.4,141.2 390.9,141.2 391.4,141.2 392,141.2 392.5,141.2 393,141.2 393.6,141.2 394.1,141.2 394.6,141.2 395.1,141.2 395.6,141.2 396.2,141.2 396.7,141.2 397.2,141.2 397.8,141.2 398.3,141.2 398.8,141.2 399.3,141.2 399.9,141.2 400.4,141.2 400.9,141.2 401.4,141.2 401.9,141.2 402.5,141.2 403,141.2 403.5,141.2 404.1,141.2 404.6,141.2 405.1,141.2 405.6,141.2 406.1,141.2 406.7,141.2 407.2,141.2 407.7,141.2 408.2,141.2 408.8,141.2 409.3,141.2 409.8,141.2 410.4,141.2 410.9,141.2 411.4,141.2 411.9,141.2 412.4,141.2 413,141.2 413.5,141.2 414,141.2 414.6,141.2 415.1,141.2 415.6,141.2 416.1,141.2 416.6,141.2 417.2,141.2 417.7,141.2 418.2,141.2 418.8,141.2 419.3,141.2 419.8,141.2 420.3,141.2 420.9,141.2 421.4,141.2 421.9,141.2 422.4,141.2 422.9,141.2 423.5,141.2 424,141.2 424.5,141.2 425.1,141.2 425.6,141.2 426.1,141.2 426.6,141.3 427.1,141.3 427.7,141.3 428.2,141.3 428.7,141.3 429.2,141.4 429.8,141.4 430.3,141.4 430.8,141.5 431.4,141.5 431.9,141.6 432.4,141.6 432.9,141.7 433.4,141.8 434,141.9 434.5,142 435,142.2 435.6,142.4 436.1,142.5 436.6,142.8 437.1,143 437.6,143.3 438.2,143.7 438.7,144.1 439.2,144.6 439.8,145.2 440.3,145.8 440.8,146.6 441.3,147.5 441.9,148.5 442.4,149.7 442.9,151.1 443.4,152.7 443.9,154.6 444.5,156.8 445,159.3 445.5,156.8 446.1,154.6 446.6,152.7 447.1,151.1 447.6,149.7 448.1,148.5 448.7,147.5 449.2,146.6 449.7,145.8 450.2,145.2 450.8,144.6 451.3,144.1 451.8,143.7 452.4,143.3 452.9,143 453.4,142.8 453.9,142.5 454.4,142.4 455,142.2 455.5,142 456,141.9 456.6,141.8 457.1,141.7 457.6,141.6 458.1,141.6 458.6,141.5 459.2,141.5 459.7,141.4 460.2,141.4 460.8,141.4 461.3,141.3 461.8,141.3 462.3,141.3 462.9,141.3 463.4,141.3 463.9,141.2 464.4,141.2 464.9,141.2 465.5,141.2 466,141.2 466.5,141.2 467.1,141.2 467.6,141.2 468.1,141.2 468.6,141.2 469.1,141.2 469.7,141.2 470.2,141.2 470.7,141.2 471.2,141.2 471.8,141.2 472.3,141.2 472.8,141.2 473.4,141.2 473.9,141.2 474.4,141.2 474.9,141.2 475.4,141.2 476,141.2 476.5,141.2 477,141.2 477.6,141.2 478.1,141.2 478.6,141.2 479.1,141.2 479.6,141.2 480.2,141.2 480.7,141.2 481.2,141.2 481.8,141.2 482.3,141.2 482.8,141.2 483.3,141.2 483.9,141.2 484.4,141.2 484.9,141.2 485.4,141.2 485.9,141.2 486.5,141.2 487,141.2 487.5,141.2 488.1,141.2 488.6,141.2 489.1,141.2 489.6,141.2 490.1,141.2 490.7,141.2 491.2,141.2 491.7,141.2 492.2,141.2 492.8,141.2 493.3,141.2 493.8,141.2 494.4,141.2 494.9,141.2 495.4,141.2 495.9,141.2 496.4,141.2 497,141.2 497.5,141.2 498,141.2 498.6,141.2 499.1,141.2 499.6,141.2 500.1,141.2 500.6,141.2 501.2,141.2 501.7,141.2 502.2,141.2 502.8,141.2 503.3,141.2 503.8,141.2 504.3,141.2 504.9,141.2 505.4,141.2 505.9,141.2 506.4,141.2 506.9,141.2 507.5,141.2 508,141.2 508.5,141.2 509.1,141.2 509.6,141.2 510.1,141.2 510.6,141.2 511.1,141.2 511.7,141.2 512.2,141.2 512.7,141.2 513.2,141.2 513.8,141.2 514.3,141.2 514.8,141.2 515.4,141.2 515.9,141.2 516.4,141.2 516.9,141.2 517.5,141.2 518,141.2 518.5,141.2 519,141.2 519.5,141.2 520.1,141.2 520.6,141.2 521.1,141.2 521.6,141.2 522.2,141.2 522.7,141.2 523.2,141.2 523.8,141.2 524.3,141.2 524.8,141.2 525.3,141.2 525.9,141.2" fill="none" stroke="#84e898" stroke-width="1.05"/>
<path transform="scale(0.5)" d="M728 225h3m-3 11h3m-3 3h3m-3 0h3m-2 -12h3m-3 2h3m-3 1h3m-3 6h3m-3 1h3m-3 1h3m-3 6h3m-3 1h3m-2 -20h3m-3 9h3m-3 3h3m-3 4h3m-3 3h3m-2 -11h3m-3 4h3m-3 0h3m-3 12h3m-2 -29h3m-3 14h3m-3 1h3m-3 2h3m-3 1h3m-3 4h3m-2 -10h3m-3 5h3m-3 2h3m-3 2h3m-3 3h3m-2 -20h3m-3 2h3m-3 11h3m-3 3h3m-3 0h3m-3 1h3m-3 0h3m-2 -10h3m-3 2h3m-3 5h3m-3 2h3m-2 -12h3m-3 2h3m-3 3h3m-3 2h3m-3 1h3m-3 0h3m-3 3h3m-3 4h3m-3 2h3m-2 -17h3m-3 3h3m-3 9h3m-2 -13h3m-3 2h3m-3 3h3m-3 8h3m-3 1h3m-3 0h3m-3 0h3m-2 -13h3m-3 2h3m-3 2h3m-3 7h3m-3 7h3m-2 -18h3m-3 4h3m-3 2h3m-3 2h3m-3 1h3m-3 0h3m-3 8h3m-2 -22h3m-3 8h3m-3 6h3m-3 2h3m-3 1h3m-2 -12h3m-3 6h3m-3 3h3m-2 -12h3m-3 2h3m-3 2h3m-3 3h3m-3 8h3m-2 -16h3m-3 3h3m-3 4h3m-3 5h3m-3 1h3m-3 5h3m-2 -11h3m-3 5h3m-3 1h3m-2 -6h3m-3 1h3m-3 1h3m-3 1h3m-3 7h3m-3 6h3m-3 0h3m-2 -12h3m-3 1h3m-3 1h3m-3 1h3m-3 2h3m-2 -22h3m-3 12h3m-3 5h3m-3 0h3m-3 1h3m-3 1h3m-3 4h3m-3 2h3m-3 1h3m-2 -17h3m-3 3h3m-3 1h3m-3 1h3m-3 1h3m-3 0h3m-3 6h3m-3 2h3m-3 3h3m-3 4h3m-2 -17h3m-3 2h3m-3 3h3m-3 1h3m-3 1h3m-3 1h3m-3 1h3m-2 -17h3m-3 14h3m-3 4h3m-2 -18h3m-3 12h3m-3 5h3m-2 -10h3m-3 1h3m-3 5h3m-3 2h3m-3 3h3m-3 3h3m-3 2h3m-2 -20h3m-3 11h3m-3 3h3m-3 0h3m-3 2h3m-2 -10h3m-3 6h3m-2 -10h3m-3 3h3m-3 4h3m-3 7h3m-2 -16h3m-3 1h3m-3 7h3m-3 1h3m-3 1h3m-3 5h3m-3 0h3m-2 -11h3m-3 0h3m-3 3h3m-3 4h3m-3 3h3m-2 -14h3m-3 3h3m-3 4h3m-3 7h3m-3 3h3m-2 -11h3m-3 4h3m-3 0h3m-3 0h3m-2 -6h3m-3 3h3m-3 4h3m-3 2h3m-3 1h3m-3 4h3m-2 -21h3m-3 5h3m-3 4h3m-3 3h3m-3 2h3m-3 1h3m-3 3h3m-3 8h3m-2 -22h3m-3 5h3m-3 1h3m-3 6h3m-2 -7h3m-3 3h3m-3 1h3m-3 3h3m-2 -10h3m-3 2h3m-3 3h3m-3 4h3m-2 -10h3m-3 7h3m-3 2h3m-3 1h3m-3 0h3m-2 -12h3m-3 6h3m-3 2h3m-3 4h3m-3 1h3m-2 -10h3m-3 1h3m-3 3h3m-3 0h3m-3 4h3m-3 1h3m-3 4h3m-2 -11h3m-3 2h3m-3 0h3m-3 2h3m-3 5h3m-3 2h3m-2 -13h3m-3 5h3m-3 0h3m-3 3h3m-2 -9h3m-3 2h3m-3 1h3m-3 0h3m-3 3h3m-3 0h3m-3 1h3m-3 1h3m-3 2h3m-3 1h3m-3 1h3m-3 0h3m-3 1h3m-2 -6h3m-3 2h3m-3 3h3m-3 0h3m-3 4h3m-2 -10h3m-3 4h3m-3 0h3m-3 1h3m-3 0h3m-3 3h3m-2 -21h3m-3 4h3m-3 0h3m-3 1h3m-3 1h3m-3 3h3m-3 3h3m-2 -1h3m-3 1h3m-3 4h3m-3 1h3m-3 8h3m-3 3h3m-2 -25h3m-3 5h3m-3 7h3m-3 0h3m-3 1h3m-3 2h3m-3 2h3m-3 1h3m-3 3h3m-2 -12h3m-3 2h3m-3 9h3m-2 -19h3m-3 2h3m-3 6h3m-3 1h3m-3 1h3m-3 0h3m-3 4h3m-2 -7h3m-3 3h3m-3 0h3m-3 3h3m-3 0h3m-3 3h3m-3 2h3m-2 -13h3m-3 3h3m-3 8h3m-3 0h3m-3 0h3m-2 -7h3m-3 3h3m-2 -9h3m-3 1h3m-3 1h3m-3 6h3m-3 2h3m-3 1h3m-2 -11h3m-3 5h3m-3 0h3m-3 6h3m-2 -10h3m-3 2h3m-3 4h3m-3 1h3m-3 0h3m-3 2h3m-3 2h3m-2 -7h3m-3 3h3m-3 0h3m-3 2h3m-3 3h3m-3 2h3m-2 -13h3m-3 3h3m-3 3h3m-3 9h3m-3 3h3m-2 -22h3m-3 4h3m-3 2h3m-3 1h3m-3 2h3m-3 1h3m-3 0h3m-2 -4h3m-3 1h3m-3 0h3m-3 0h3m-3 1h3m-3 1h3m-3 3h3m-3 0h3m-2 1h3m-3 0h3m-3 8h3m-2 -17h3m-3 3h3m-3 7h3m-3 0h3m-3 10h3m-2 -17h3m-3 1h3m-3 2h3m-3 2h3m-3 0h3m-2 -11h3m-3 10h3m-3 1h3m-3 0h3m-3 4h3m-2 -12h3m-3 0h3m-3 4h3m-3 3h3m-2 -12h3m-3 2h3m-3 7h3m-3 1h3m-2 -5h3m-3 2h3m-3 1h3m-3 1h3m-3 1h3m-3 2h3m-3 2h3m-3 1h3m-3 2h3m-2 -12h3m-3 1h3m-3 3h3m-3 4h3m-3 0h3m-3 3h3m-3 4h3m-2 -17h3m-3 6h3m-3 4h3m-2 -10h3m-3 9h3m-3 2h3m-3 1h3m-2 -12h3m-3 4h3m-3 2h3m-3 6h3m-3 0h3m-3 2h3m-3 1h3m-3 1h3m-2 -17h3m-3 0h3m-3 1h3m-3 6h3m-3 5h3m-2 -10h3m-3 0h3m-3 3h3m-3 3h3m-3 12h3m-2 -17h3m-3 5h3m-3 4h3m-3 6h3m-2 -10h3m-3 3h3m-3 0h3m-2 -8h3m-3 0h3m-3 1h3m-3 5h3m-3 1h3m-3 0h3m-3 1h3m-3 0h3m-3 3h3m-2 -7h3m-3 0h3m-3 3h3m-3 2h3m-3 4h3m-3 2h3m-2 -30h3m-3 16h3m-3 1h3m-3 1h3m-3 1h3m-3 1h3m-3 1h3m-3 5h3m-2 -18h3m-3 4h3m-3 1h3m-3 2h3m-3 3h3m-3 1h3m-3 1h3m-3 3h3m-3 1h3m-3 1h3m-3 1h3m-3 1h3m-2 -17h3m-3 10h3m-3 2h3m-2 -10h3m-3 1h3m-3 10h3m-3 2h3m-3 2h3m-2 -9h3m-3 0h3m-2 -5h3m-3 2h3m-3 3h3m-3 1h3m-3 0h3m-3 2h3m-3 1h3m-3 5h3m-3 0h3m-3 2h3m-3 0h3m-2 -11h3m-3 5h3m-3 1h3m-3 0h3m-3 2h3m-2 -18h3m-3 4h3m-3 5h3m-3 3h3m-3 0h3m-3 5h3m-2 -13h3m-3 3h3m-3 4h3m-3 0h3m-3 2h3m-3 0h3m-3 5h3m-2 -8h3m-3 1h3m-3 2h3m-3 0h3m-3 3h3m-3 0h3m-3 3h3m-2 -21h3m-3 11h3m-3 2h3m-3 0h3m-3 4h3m-3 2h3m-3 2h3m-2 -11h3m-3 2h3m-3 0h3m-3 2h3m-3 0h3m-3 5h3m-3 0h3m-3 5h3m-3 5h3m-2 -17h3m-3 0h3m-3 0h3m-3 0h3m-3 2h3m-3 4h3m-3 1h3m-2 -15h3m-3 5h3m-3 2h3m-3 0h3m-3 2h3m-3 0h3m-3 2h3m-3 3h3m-3 0h3m-3 2h3m-2 -9h3m-3 0h3m-3 1h3m-3 2h3m-3 2h3m-3 2h3m-3 0h3m-3 4h3m-3 3h3m-3 3h3m-2 -22h3m-3 1h3m-3 1h3m-3 1h3m-3 2h3m-3 2h3m-3 1h3m-3 3h3m-3 6h3m-2 -10h3m-3 2h3m-3 14h3m-2 -25h3m-3 15h3m-3 3h3m-2 -15h3m-3 3h3m-3 2h3m-3 3h3m-3 3h3m-2 -3h3m-3 3h3m-3 3h3m-3 1h3m-3 0h3m-2 -15h3m-3 1h3m-3 3h3m-3 2h3m-3 2h3m-3 1h3m-3 2h3m-2 -15h3m-3 4h3m-3 2h3m-3 3h3m-3 0h3m-3 0h3m-3 1h3m-3 0h3m-3 8h3m-2 -9h3m-3 1h3m-3 0h3m-3 1h3m-3 5h3m-3 4h3m-2 -18h3m-3 5h3m-3 3h3m-3 0h3m-3 0h3m-3 1h3m-3 4h3m-2 -11h3m-3 5h3m-3 0h3m-3 5h3m-3 4h3m-2 -12h3m-3 1h3m-3 2h3m-3 2h3m-2 -9h3m-3 0h3m-3 9h3m-3 0h3m-3 0h3m-3 1h3m-2 -12h3m-3 3h3m-3 7h3m-3 3h3m-3 3h3m-3 4h3m-2 -19h3m-3 13h3m-3 0h3m-3 8h3m-2 -18h3m-3 9h3m-3 1h3m-2 -7h3m-3 6h3m-3 0h3m-3 1h3m-2 2h3m-3 4h3m-2 -16h3m-3 4h3m-3 4h3m-3 0h3m-3 7h3m-2 -18h3m-3 2h3m-3 4h3m-3 0h3m-3 4h3m-3 0h3m-2 -5h3m-3 5h3m-3 2h3m-3 3h3m-2 -12h3m-3 5h3m-3 0h3m-3 3h3m-3 2h3m-3 3h3m-3 20h3m-2 -40h3m-3 4h3m-3 4h3m-3 5h3m-3 1h3m-3 0h3m-3 3h3m-3 3h3m-2 -10h3m-3 2h3m-3 0h3m-3 0h3m-3 4h3m-3 2h3m-2 -10h3m-3 0h3m-3 9h3m-3 0h3m-3 0h3m-2 -13h3m-3 7h3m-3 4h3m-3 0h3m-2 -9h3m-3 2h3m-3 1h3m-3 2h3m-3 2h3m-3 1h3m-3 2h3m-3 4h3m-3 6h3m-3 3h3m-2 -18h3m-3 0h3m-3 2h3m-3 4h3m-2 -9h3m-3 1h3m-3 2h3m-3 4h3m-3 0h3m-3 1h3m-3 0h3m-3 2h3m-2 -6h3m-3 3h3m-3 0h3m-3 2h3m-3 0h3m-3 2h3m-3 0h3m-2 -15h3m-3 2h3m-3 3h3m-3 8h3m-3 2h3m-3 1h3m-3 1h3m-2 -14h3m-3 10h3m-3 2h3m-2 -5h3m-3 0h3m-3 4h3m-3 3h3m-3 1h3m-3 0h3m-2 -19h3m-3 10h3m-3 2h3m-3 0h3m-3 1h3m-3 6h3m-3 8h3m-2 -23h3m-3 3h3m-3 2h3m-3 3h3m-3 6h3m-2 -15h3m-3 9h3m-3 3h3m-3 8h3m-2 -18h3m-3 5h3m-3 1h3m-3 1h3m-3 0h3m-3 3h3m-3 0h3m-3 2h3m-3 1h3m-3 2h3m-2 -16h3m-3 2h3m-3 2h3m-3 1h3m-3 15h3m-2 -24h3m-3 10h3m-3 2h3m-3 0h3m-3 0h3m-3 1h3m-3 3h3m-3 0h3m-3 1h3m-3 1h3m-3 3h3m-2 -14h3m-3 0h3m-3 4h3m-3 8h3m-2 -4h3m-3 5h3m-2 -15h3m-3 3h3m-3 1h3m-3 7h3m-3 3h3m-3 1h3m-3 1h3m-2 -19h3m-3 2h3m-3 4h3m-3 0h3m-3 4h3m-3 0h3m-3 3h3m-2 -22h3m-3 14h3m-3 5h3m-3 0h3m-3 1h3m-3 3h3m-3 0h3m-3 2h3m-2 -18h3m-3 3h3m-3 1h3m-3 4h3m-3 7h3m-3 3h3m-2 -14h3m-3 4h3m-3 2h3m-3 2h3m-3 1h3m-3 3h3m-2 -15h3m-3 13h3m-3 3h3m-3 5h3m-2 -28h3m-3 3h3m-3 13h3m-3 1h3m-3 4h3m-3 4h3m-2 -12h3m-3 6h3m-3 1h3m-3 1h3m-3 3h3m-2 -19h3m-3 12h3m-3 2h3m-3 0h3m-3 1h3m-3 1h3m-3 1h3m-3 3h3m-2 -18h3m-3 3h3m-3 3h3m-3 1h3m-3 1h3m-3 2h3m-3 4h3m-3 3h3m-3 0h3m-3 3h3m-2 -26h3m-3 16h3m-3 5h3m-2 -6h3m-3 0h3m-3 4h3m-3 5h3m-2 -14h3m-3 7h3m-3 2h3m-3 5h3m-3 1h3m-3 3h3m-2 -25h3m-3 7h3m-3 1h3m-3 4h3m-3 3h3m-3 1h3m-3 5h3m-2 -10h3m-3 0h3m-2 14h3m-3 0h3m-2 -13h3m-3 2h3m-3 2h3m-3 1h3m-3 0h3m-3 1h3m-3 5h3m-3 2h3m-2 -11h3m-3 1h3m-3 0h3m-3 2h3m-3 4h3m-3 0h3m-3 4h3m-3 1h3m-3 4h3m-2 -20h3m-3 6h3m-3 4h3m-3 4h3m-3 3h3m-3 12h3m-2 -24h3m-3 3h3m-3 4h3m-3 1h3m-3 1h3m-3 2h3m-2 -9h3m-3 2h3m-3 6h3m-3 6h3m-2 3h3m-1 -9h3m-3 10h3m-2 -5h3m-3 1h3m-3 2h3m-2 4h3m-3 11h3m-2 -6h3m-1 5h3m-3 2h3m-2 -7h3m-3 1h3m-3 11h3m-2 -6h3m-1 -8h3m-2 -14h3m-3 14h3m-3 6h3m-2 -14h3m-3 0h3m-1 -4h3m-2 -9h3m-3 7h3m-3 1h3m-3 0h3m-3 0h3m-3 4h3m-3 3h3m-2 -20h3m-3 6h3m-3 0h3m-3 1h3m-3 2h3m-3 0h3m-3 1h3m-3 2h3m-3 3h3m-2 -9h3m-3 0h3m-3 1h3m-3 4h3m-2 -8h3m-3 8h3m-3 0h3m-3 2h3m-2 -11h3m-3 2h3m-3 5h3m-2 -8h3m-3 2h3m-3 4h3m-3 0h3m-3 1h3m-3 0h3m-3 2h3m-3 1h3m-2 -24h3m-3 8h3m-3 1h3m-3 1h3m-3 1h3m-3 0h3m-3 6h3m-3 2h3m-3 2h3m-3 4h3m-2 -16h3m-2 -5h3m-3 10h3m-3 1h3m-3 2h3m-3 1h3m-3 1h3m-3 8h3m-3 1h3m-2 -19h3m-3 1h3m-3 5h3m-3 7h3m-2 -7h3m-3 0h3m-3 0h3m-3 1h3m-3 0h3m-3 1h3m-3 1h3m-3 2h3m-3 0h3m-2 -17h3m-3 9h3m-3 19h3m-2 -24h3m-3 3h3m-3 4h3m-3 1h3m-3 4h3m-3 3h3m-2 -13h3m-3 1h3m-3 2h3m-3 4h3m-3 1h3m-3 5h3m-2 -14h3m-3 3h3m-3 0h3m-3 4h3m-2 -13h3m-3 3h3m-3 3h3m-3 5h3m-3 1h3m-3 3h3m-3 6h3m-2 -19h3m-3 1h3m-3 3h3m-3 3h3m-3 1h3m-3 0h3m-3 0h3m-3 1h3m-3 8h3m-2 -11h3m-3 1h3m-3 6h3m-3 0h3m-2 -9h3m-3 0h3m-3 1h3m-3 3h3m-3 1h3m-3 1h3m-3 5h3m-3 0h3m-2 -11h3m-3 3h3m-3 4h3m-2 -7h3m-3 5h3m-3 1h3m-3 2h3m-3 9h3m-3 1h3m-2 -16h3m-3 5h3m-3 1h3m-3 5h3m-3 1h3m-2 -17h3m-3 4h3m-3 2h3m-2 -7h3m-3 8h3m-3 0h3m-3 1h3m-3 3h3m-3 0h3m-3 9h3m-2 -26h3m-3 8h3m-3 3h3m-3 3h3m-3 0h3m-3 1h3m-3 3h3m-2 -9h3m-3 4h3m-3 3h3m-3 6h3m-2 -14h3m-3 1h3m-3 5h3m-3 4h3m-2 -15h3m-3 9h3m-3 1h3m-3 3h3m-3 1h3m-3 1h3m-3 0h3m-3 8h3m-2 -21h3m-3 3h3m-3 5h3m-1 -3h3m-3 1h3m-3 3h3m-3 3h3m-3 6h3m-2 -17h3m-3 6h3m-3 0h3m-3 1h3m-3 5h3m-2 -8h3m-3 4h3m-3 1h3m-3 4h3m-3 0h3m-2 -19h3m-3 13h3m-3 3h3m-3 11h3m-2 -19h3m-3 3h3m-3 1h3m-3 1h3m-3 1h3m-3 1h3m-3 4h3m-2 -11h3m-3 1h3m-3 1h3m-3 3h3m-3 2h3m-3 1h3m-3 3h3m-2 -8h3m-3 1h3m-3 1h3m-2 -5h3m-3 1h3m-3 0h3m-3 0h3m-3 1h3m-3 7h3m-3 1h3m-2 -20h3m-3 7h3m-3 0h3m-3 3h3m-3 5h3m-3 2h3m-3 1h3m-2 -7h3m-3 3h3m-3 3h3m-2 -5h3m-3 1h3m-3 1h3m-3 0h3m-3 1h3m-3 0h3m-3 2h3m-3 3h3m-2 -14h3m-3 5h3m-3 2h3m-3 0h3m-3 3h3m-3 2h3m-2 -11h3m-3 2h3m-3 7h3m-3 3h3m-3 1h3m-3 1h3m-3 0h3m-2 -7h3m-3 1h3m-3 0h3m-3 3h3m-3 2h3m-3 2h3m-3 2h3m-2 -14h3m-3 0h3m-3 6h3m-3 6h3m-2 0h3m-3 5h3m-2 -16h3m-3 1h3m-3 2h3m-3 0h3m-3 0h3m-3 8h3m-3 4h3m-2 -27h3m-3 10h3m-3 5h3m-3 3h3m-3 1h3m-3 4h3m-3 3h3m-2 -17h3m-3 0h3m-3 4h3m-3 0h3m-3 3h3m-3 5h3m-3 0h3m-3 1h3m-3 2h3m-2 -7h3m-2 -6h3m-3 0h3m-3 1h3m-3 4h3m-3 3h3m-3 1h3m-3 1h3m-2 -10h3m-3 3h3m-3 1h3m-3 1h3m-3 2h3m-3 2h3m-3 5h3m-3 5h3m-2 -15h3m-3 4h3m-3 2h3m-3 1h3m-3 0h3m-3 3h3m-3 5h3m-2 -20h3m-3 2h3m-3 3h3m-3 2h3m-2 -6h3m-3 6h3m-3 1h3m-3 0h3m-3 0h3m-3 2h3m-3 0h3m-3 3h3m-3 0h3m-2 -8h3m-3 3h3m-3 5h3m-3 1h3m-2 -17h3m-3 7h3m-3 9h3m-2 -13h3m-3 8h3m-3 6h3m-2 -19h3m-3 5h3m-3 2h3m-3 3h3m-3 4h3m-3 4h3m-2 -9h3m-3 1h3m-3 3h3m-3 0h3m-3 1h3m-3 0h3m-3 6h3m-2 -16h3m-3 6h3m-3 3h3m-3 1h3m-3 1h3m-3 0h3m-3 2h3m-3 2h3m-2 -12h3m-3 1h3m-3 1h3m-3 1h3m-3 0h3m-3 3h3m-2 -12h3m-3 3h3m-3 3h3m-3 2h3m-3 0h3m-3 2h3m-3 2h3m-3 2h3m-3 4h3m-3 4h3m-3 3h3m-2 -25h3m-3 4h3m-3 5h3m-3 1h3m-3 0h3m-3 5h3m-3 0h3m-3 0h3m-3 0h3m-3 3h3m-3 3h3m-2 -20h3m-3 1h3m-3 1h3m-3 1h3m-3 3h3m-3 2h3m-3 0h3m-3 5h3m-3 0h3m-3 5h3m-3 3h3m-2 -24h3m-3 6h3m-3 1h3m-3 5h3m-3 1h3m-3 8h3m-2 -11h3m-3 2h3m-2 -13h3m-3 6h3m-3 6h3m-3 1h3m-3 4h3m-3 2h3m-3 2h3m-3 0h3m-3 1h3m-2 -22h3m-3 14h3m-3 0h3m-3 2h3m-3 0h3m-3 2h3m-3 1h3m-2 -9h3m-3 2h3m-3 2h3m-3 0h3m-3 2h3m-3 2h3m-3 4h3m-2 -10h3m-3 0h3m-3 2h3m-3 2h3m-3 0h3m-3 3h3m-3 2h3m-2 -12h3m-3 2h3m-3 2h3m-2 -11h3m-3 5h3m-3 6h3m-3 1h3m-3 2h3m-3 8h3m-3 1h3m-2 -24h3m-3 1h3m-3 3h3m-3 2h3m-3 5h3m-3 7h3m-3 0h3m-2 -18h3m-3 4h3m-3 1h3m-3 4h3m-3 1h3m-3 3h3m-3 1h3m-3 3h3m-3 9h3m-2 -23h3m-3 2h3m-3 2h3m-3 10h3m-3 2h3m-2 -12h3m-3 0h3m-3 3h3m-3 1h3m-3 5h3m-3 1h3m-3 4h3m-2 -17h3m-3 1h3m-3 2h3m-3 2h3m-3 4h3m-3 5h3m-2 -6h3m-3 3h3m-3 2h3m-3 7h3m-2 -19h3m-3 3h3m-3 0h3m-3 1h3m-3 1h3m-3 10h3m-2 -10h3m-3 1h3m-3 1h3m-3 2h3m-3 3h3m-3 0h3m-2 -18h3m-3 3h3m-3 4h3m-3 1h3m-3 1h3m-3 6h3m-3 3h3m-3 5h3m-2 -27h3m-3 9h3m-3 2h3m-3 1h3m-3 1h3m-3 2h3m-3 0h3m-3 2h3m-3 1h3m-3 4h3m-3 1h3m-3 0h3m-2 -14h3m-3 3h3m-3 1h3m-3 1h3m-3 2h3m-3 1h3m-3 1h3m-3 1h3m-3 2h3m-2 -3h3m-3 1h3m-3 2h3m-3 4h3m-3 1h3m-2 -14h3m-3 4h3m-3 1h3m-3 3h3m-3 1h3m-2 -12h3m-3 3h3m-3 2h3m-3 2h3m-3 4h3m-3 4h3m-2 -16h3m-3 0h3m-3 7h3m-3 0h3m-3 4h3m-3 0h3m-3 0h3m-3 0h3m-2 -11h3m-3 6h3m-3 1h3m-3 3h3m-3 2h3m-3 0h3m-3 2h3m-3 2h3m-2 -13h3m-3 6h3m-3 3h3m-3 1h3m-3 5h3m-2 -23h3m-3 5h3m-3 0h3m-3 4h3m-3 2h3m-3 0h3m-3 0h3m-3 4h3m-3 0h3m-3 10h3m-2 -25h3m-3 6h3m-3 1h3m-3 0h3m-3 1h3m-3 0h3m-3 7h3m-3 1h3m-3 4h3m-3 1h3m-3 0h3m-3 3h3m-2 -11h3m-3 3h3m-3 5h3m-2 -21h3m-3 10h3m-3 0h3m-3 0h3m-3 7h3m-3 1h3m-3 0h3m-2 -12h3m-3 2h3m-3 7h3m-2 -6h3m-3 3h3m-3 0h3m-3 0h3m-3 5h3m-3 1h3m-3 2h3m-3 1h3m-2 -7h3m-3 0h3m-3 6h3m-3 19h3m-2 -33h3m-3 2h3m-3 2h3m-3 1h3m-3 6h3m-3 0h3m-3 0h3m-2 -12h3m-3 6h3m-3 5h3m-3 0h3m-3 4h3m-2 -10h3m-3 8h3m-3 0h3m-3 1h3m-2 -10h3m-3 1h3m-3 1h3m-3 0h3m-3 2h3m-3 2h3m-3 8h3m-3 0h3m-2 -19h3m-3 5h3m-3 2h3m-3 3h3m-3 0h3m-3 2h3m-3 3h3m-3 1h3m-3 8h3m-2 -20h3m-3 1h3m-3 2h3m-3 3h3m-3 6h3m-3 1h3m-3 11h3m-2 -24h3m-3 0h3m-3 5h3m-3 7h3m-2 -13h3m-3 2h3m-3 0h3m-3 5h3m-3 0h3m-3 3h3m-2 -14h3m-3 2h3m-3 3h3m-3 5h3m-3 0h3m-3 2h3m-3 2h3m-2 -3h3m-3 1h3m-3 2h3m-3 1h3m-3 1h3m-3 1h3m-2 -13h3m-3 8h3m-3 1h3m-3 10h3m-2 -16h3m-3 7h3m-3 7h3m-3 5h3m-2 -16h3m-3 8h3m-2 -11h3m-3 2h3m-3 4h3m-2 -6h3m-3 1h3m-3 2h3m-3 0h3m-3 3h3m-3 4h3m-3 1h3m-2 -14h3m-3 11h3m-3 3h3m-2 -18h3m-3 1h3m-3 8h3m-3 2h3m-3 1h3m-3 0h3m-3 1h3m-3 2h3m-3 1h3m-3 1h3m-2 -9h3m-3 2h3m-3 6h3m-3 2h3m-2 -19h3m-3 6h3m-3 1h3m-3 3h3m-3 1h3m-3 4h3m-2 -11h3m-3 4h3m-3 1h3m-3 1h3m-3 4h3m-3 1h3m-2 -13h3m-3 3h3m-3 1h3m-3 1h3m-3 1h3m-3 1h3m-3 2h3m-3 2h3m-3 1h3m-3 5h3m-2 -18h3m-3 5h3m-3 0h3m-3 1h3m-3 1h3m-3 5h3m-3 0h3m-3 3h3m-3 1h3m-3 0h3m-2 -13h3m-3 1h3m-3 2h3m-3 4h3m-3 2h3m-3 2h3m-3 1h3m-3 0h3m-3 0h3m-3 13h3m-2 -23h3m-3 4h3m-3 2h3m-3 1h3m-3 4h3m-3 3h3m-2 -23h3m-3 8h3m-3 2h3m-3 2h3m-3 4h3m-3 3h3m-3 5h3m-2 -18h3m-3 7h3m-3 2h3m-3 2h3m-3 1h3m-3 1h3m-3 1h3m-2 -11h3m-3 2h3m-3 4h3m-3 3h3m-3 2h3m-3 4h3m-2 -19h3m-3 2h3m-3 0h3m-3 4h3m-3 6h3m-3 2h3m-3 6h3m-3 2h3m-2 -5h3m-2 -17h3m-3 10h3m-3 3h3m-3 0h3m-3 0h3m-3 6h3m-3 0h3m-2 -16h3m-3 1h3m-3 7h3m-2 -12h3m-3 7h3m-3 0h3m-3 4h3m-3 2h3m-3 4h3m-3 1h3m-3 0h3m-3 1h3m-2 -13h3m-3 4h3m-3 2h3m-3 4h3m-3 0h3m-3 2h3m-2 -12h3m-3 2h3m-3 1h3m-3 0h3m-3 0h3m-3 1h3m-3 4h3m-2 -7h3m-3 4h3m-3 1h3m-3 3h3m-2 -15h3m-3 18h3m-2 -13h3m-3 0h3m-3 7h3m-3 1h3m-3 2h3m-3 1h3m-2 -10h3m-3 3h3m-3 1h3m-3 1h3m-3 0h3m-3 1h3m-3 7h3m-2 -8h3m-3 2h3m-3 7h3m-2 -15h3m-3 5h3m-3 2h3m-3 4h3m-3 1h3m-3 5h3m-2 -23h3m-3 5h3m-3 1h3m-3 1h3m-3 7h3m-3 3h3m-3 1h3m-2 -16h3m-3 12h3m-3 0h3m-3 1h3m-3 2h3m-3 2h3m-2 -19h3m-3 7h3m-3 0h3m-3 4h3m-3 2h3m-3 0h3m-3 1h3m-3 10h3m-3 0h3m-2 -26h3m-3 13h3m-3 3h3m-3 0h3m-3 9h3m-2 -19h3m-3 6h3m-3 2h3m-2 -7h3m-3 0h3m-2 3h3m-3 0h3m-3 1h3m-3 8h3m-3 2h3m-2 -18h3m-3 3h3m-3 7h3m-3 1h3m-3 3h3m-3 1h3m-3 4h3m-2 -15h3m-3 2h3m-3 2h3m-3 0h3m-3 1h3m-3 2h3m-3 2h3m-3 0h3m-2 -9h3m-2 2h3m-3 2h3m-3 1h3m-3 1h3m-3 4h3m-2 -7h3m-3 1h3m-3 0h3m-3 2h3m-3 9h3m-2 -16h3m-3 0h3m-3 1h3m-3 2h3m-3 0h3m-3 7h3m-3 1h3m-3 9h3m-2 -15h3m-3 2h3m-3 7h3m-3 0h3m-3 1h3m-2 -14h3m-3 0h3m-3 7h3m-3 1h3m-3 3h3m-2 -9h3m-3 6h3m-3 5h3m-3 3h3m-2 -10h3m-3 0h3m-3 1h3m-3 0h3m-3 1h3m-3 1h3m-3 2h3m-3 5h3" stroke="#1c1c86" stroke-width="2.6" fill="none"/>
<polyline points="364.1,117.5 364.7,117.5 365.2,117.5 365.7,117.5 366.2,117.5 366.8,117.5 367.3,117.5 367.8,117.5 368.4,117.5 368.9,117.5 369.4,117.5 369.9,117.5 370.4,117.5 371,117.5 371.5,117.5 372,117.5 372.6,117.5 373.1,117.5 373.6,117.5 374.1,117.5 374.6,117.5 375.2,117.5 375.7,117.5 376.2,117.5 376.8,117.5 377.3,117.5 377.8,117.5 378.3,117.5 378.9,117.5 379.4,117.5 379.9,117.5 380.4,117.5 380.9,117.5 381.5,117.5 382,117.5 382.5,117.5 383.1,117.5 383.6,117.5 384.1,117.5 384.6,117.5 385.1,117.5 385.7,117.5 386.2,117.5 386.7,117.5 387.2,117.5 387.8,117.5 388.3,117.5 388.8,117.5 389.4,117.5 389.9,117.5 390.4,117.5 390.9,117.5 391.4,117.5 392,117.5 392.5,117.5 393,117.5 393.6,117.5 394.1,117.5 394.6,117.5 395.1,117.5 395.6,117.5 396.2,117.5 396.7,117.5 397.2,117.5 397.8,117.5 398.3,117.5 398.8,117.5 399.3,117.5 399.9,117.5 400.4,117.5 400.9,117.5 401.4,117.5 401.9,117.5 402.5,117.5 403,117.5 403.5,117.5 404.1,117.5 404.6,117.5 405.1,117.5 405.6,117.5 406.1,117.5 406.7,117.5 407.2,117.5 407.7,117.5 408.2,117.5 408.8,117.5 409.3,117.5 409.8,117.5 410.4,117.5 410.9,117.5 411.4,117.5 411.9,117.5 412.4,117.5 413,117.5 413.5,117.5 414,117.5 414.6,117.5 415.1,117.5 415.6,117.5 416.1,117.5 416.6,117.5 417.2,117.5 417.7,117.5 418.2,117.5 418.8,117.5 419.3,117.5 419.8,117.5 420.3,117.5 420.9,117.5 421.4,117.5 421.9,117.5 422.4,117.5 422.9,117.5 423.5,117.5 424,117.5 424.5,117.6 425.1,117.6 425.6,117.6 426.1,117.6 426.6,117.6 427.1,117.6 427.7,117.6 428.2,117.6 428.7,117.7 429.2,117.7 429.8,117.7 430.3,117.8 430.8,117.8 431.4,117.9 431.9,117.9 432.4,118 432.9,118.1 433.4,118.2 434,118.3 434.5,118.4 435,118.5 435.6,118.7 436.1,118.9 436.6,119.1 437.1,119.4 437.6,119.7 438.2,120 438.7,120.5 439.2,120.9 439.8,121.5 440.3,122.2 440.8,122.9 441.3,123.8 441.9,124.8 442.4,126 442.9,127.4 443.4,129 443.9,130.9 444.5,133.1 445,135.7 445.5,133.1 446.1,130.9 446.6,129 447.1,127.4 447.6,126 448.1,124.8 448.7,123.8 449.2,122.9 449.7,122.2 450.2,121.5 450.8,120.9 451.3,120.5 451.8,120 452.4,119.7 452.9,119.4 453.4,119.1 453.9,118.9 454.4,118.7 455,118.5 455.5,118.4 456,118.3 456.6,118.2 457.1,118.1 457.6,118 458.1,117.9 458.6,117.9 459.2,117.8 459.7,117.8 460.2,117.7 460.8,117.7 461.3,117.7 461.8,117.6 462.3,117.6 462.9,117.6 463.4,117.6 463.9,117.6 464.4,117.6 464.9,117.6 465.5,117.6 466,117.5 466.5,117.5 467.1,117.5 467.6,117.5 468.1,117.5 468.6,117.5 469.1,117.5 469.7,117.5 470.2,117.5 470.7,117.5 471.2,117.5 471.8,117.5 472.3,117.5 472.8,117.5 473.4,117.5 473.9,117.5 474.4,117.5 474.9,117.5 475.4,117.5 476,117.5 476.5,117.5 477,117.5 477.6,117.5 478.1,117.5 478.6,117.5 479.1,117.5 479.6,117.5 480.2,117.5 480.7,117.5 481.2,117.5 481.8,117.5 482.3,117.5 482.8,117.5 483.3,117.5 483.9,117.5 484.4,117.5 484.9,117.5 485.4,117.5 485.9,117.5 486.5,117.5 487,117.5 487.5,117.5 488.1,117.5 488.6,117.5 489.1,117.5 489.6,117.5 490.1,117.5 490.7,117.5 491.2,117.5 491.7,117.5 492.2,117.5 492.8,117.5 493.3,117.5 493.8,117.5 494.4,117.5 494.9,117.5 495.4,117.5 495.9,117.5 496.4,117.5 497,117.5 497.5,117.5 498,117.5 498.6,117.5 499.1,117.5 499.6,117.5 500.1,117.5 500.6,117.5 501.2,117.5 501.7,117.5 502.2,117.5 502.8,117.5 503.3,117.5 503.8,117.5 504.3,117.5 504.9,117.5 505.4,117.5 505.9,117.5 506.4,117.5 506.9,117.5 507.5,117.5 508,117.5 508.5,117.5 509.1,117.5 509.6,117.5 510.1,117.5 510.6,117.5 511.1,117.5 511.7,117.5 512.2,117.5 512.7,117.5 513.2,117.5 513.8,117.5 514.3,117.5 514.8,117.5 515.4,117.5 515.9,117.5 516.4,117.5 516.9,117.5 517.5,117.5 518,117.5 518.5,117.5 519,117.5 519.5,117.5 520.1,117.5 520.6,117.5 521.1,117.5 521.6,117.5 522.2,117.5 522.7,117.5 523.2,117.5 523.8,117.5 524.3,117.5 524.8,117.5 525.3,117.5 525.9,117.5" fill="none" stroke="#84e898" stroke-width="1.05"/>
<path transform="scale(0.5)" d="M729 174h3m-3 10h3m-3 2h3m-3 3h3m-3 3h3m-3 0h3m-3 3h3m-2 -11h3m-3 1h3m-2 0h3m-3 2h3m-3 4h3m-3 3h3m-2 -16h3m-3 0h3m-3 1h3m-3 4h3m-3 2h3m-3 1h3m-3 0h3m-3 1h3m-3 4h3m-3 1h3m-2 -12h3m-3 9h3m-3 6h3m-3 1h3m-2 -18h3m-3 1h3m-3 4h3m-3 1h3m-3 5h3m-2 -8h3m-3 7h3m-3 1h3m-3 8h3m-2 -15h3m-3 14h3m-2 -14h3m-3 6h3m-3 1h3m-3 1h3m-3 0h3m-2 -20h3m-3 5h3m-3 4h3m-3 2h3m-3 3h3m-3 3h3m-3 0h3m-3 0h3m-3 3h3m-3 4h3m-2 -22h3m-3 5h3m-3 9h3m-3 2h3m-3 0h3m-3 1h3m-3 3h3m-3 4h3m-3 1h3m-2 -24h3m-3 12h3m-3 2h3m-3 3h3m-3 9h3m-3 4h3m-2 -29h3m-3 11h3m-3 0h3m-3 5h3m-3 1h3m-3 1h3m-3 8h3m-2 -18h3m-3 2h3m-3 5h3m-3 1h3m-3 1h3m-3 2h3m-3 2h3m-2 -16h3m-3 3h3m-3 5h3m-3 1h3m-3 2h3m-3 4h3m-2 -10h3m-3 6h3m-3 1h3m-3 0h3m-2 -3h3m-3 2h3m-3 0h3m-3 0h3m-2 -19h3m-3 11h3m-3 2h3m-3 5h3m-3 0h3m-2 -7h3m-3 1h3m-3 2h3m-3 1h3m-2 -6h3m-3 9h3m-3 0h3m-3 2h3m-3 0h3m-3 4h3m-3 4h3m-2 -14h3m-3 0h3m-3 3h3m-3 2h3m-2 -7h3m-3 4h3m-3 1h3m-3 2h3m-2 -8h3m-3 1h3m-3 4h3m-3 2h3m-2 -6h3m-3 5h3m-2 -12h3m-3 9h3m-3 1h3m-3 0h3m-3 1h3m-3 0h3m-3 2h3m-3 2h3m-2 -13h3m-3 4h3m-3 5h3m-3 8h3m-2 -16h3m-3 2h3m-3 2h3m-3 5h3m-3 1h3m-3 3h3m-3 0h3m-3 7h3m-2 -18h3m-3 4h3m-3 1h3m-3 0h3m-3 3h3m-3 1h3m-3 3h3m-2 -14h3m-3 7h3m-3 2h3m-3 1h3m-3 7h3m-3 2h3m-2 -24h3m-3 9h3m-3 1h3m-3 10h3m-2 -13h3m-3 0h3m-3 2h3m-3 2h3m-3 5h3m-3 4h3m-2 -16h3m-3 1h3m-3 8h3m-3 5h3m-2 -9h3m-3 2h3m-3 5h3m-3 1h3m-2 -9h3m-3 5h3m-3 2h3m-3 0h3m-3 1h3m-3 4h3m-2 -11h3m-3 3h3m-3 0h3m-3 0h3m-3 8h3m-2 -17h3m-3 8h3m-3 4h3m-3 0h3m-2 -7h3m-3 1h3m-3 2h3m-3 3h3m-3 3h3m-2 -13h3m-3 5h3m-3 10h3m-2 -8h3m-3 6h3m-3 2h3m-2 -17h3m-3 8h3m-3 5h3m-2 -13h3m-3 10h3m-3 8h3m-3 8h3m-2 -20h3m-3 3h3m-3 2h3m-3 0h3m-3 2h3m-3 1h3m-3 3h3m-3 2h3m-2 -9h3m-3 5h3m-3 4h3m-2 -17h3m-3 6h3m-3 0h3m-3 4h3m-3 13h3m-2 -26h3m-3 7h3m-3 1h3m-3 3h3m-3 1h3m-2 0h3m-3 1h3m-3 0h3m-3 2h3m-3 1h3m-3 0h3m-2 -9h3m-3 5h3m-3 9h3m-2 -16h3m-3 5h3m-3 2h3m-3 4h3m-3 0h3m-3 2h3m-2 -10h3m-3 2h3m-3 1h3m-3 2h3m-3 1h3m-3 5h3m-3 6h3m-2 -25h3m-3 1h3m-3 3h3m-3 3h3m-3 1h3m-3 3h3m-3 2h3m-2 -6h3m-3 2h3m-3 1h3m-3 2h3m-3 4h3m-3 5h3m-2 -19h3m-3 5h3m-3 1h3m-3 0h3m-3 8h3m-3 2h3m-2 -6h3m-3 1h3m-2 -4h3m-3 2h3m-3 2h3m-3 8h3m-3 3h3m-2 -16h3m-3 3h3m-3 0h3m-3 0h3m-3 1h3m-3 1h3m-2 -4h3m-3 2h3m-3 2h3m-3 2h3m-3 3h3m-3 3h3m-2 -23h3m-3 9h3m-3 2h3m-3 2h3m-3 2h3m-3 12h3m-2 -15h3m-3 1h3m-3 2h3m-3 1h3m-3 0h3m-3 8h3m-3 4h3m-2 -18h3m-3 4h3m-3 3h3m-3 3h3m-2 -15h3m-3 7h3m-3 3h3m-3 0h3m-3 1h3m-3 2h3m-3 1h3m-3 1h3m-2 -13h3m-3 1h3m-3 6h3m-3 0h3m-3 1h3m-3 2h3m-3 1h3m-3 1h3m-3 2h3m-2 -10h3m-3 0h3m-3 2h3m-3 2h3m-3 0h3m-2 5h3m-3 1h3m-2 -18h3m-3 5h3m-3 1h3m-3 2h3m-3 1h3m-3 0h3m-3 0h3m-3 1h3m-2 -4h3m-3 3h3m-3 0h3m-3 1h3m-3 3h3m-3 4h3m-3 2h3m-2 -7h3m-3 2h3m-3 2h3m-2 -10h3m-3 1h3m-3 1h3m-3 3h3m-3 2h3m-3 3h3m-3 0h3m-2 -14h3m-3 9h3m-3 1h3m-3 6h3m-3 0h3m-3 3h3m-2 -22h3m-3 4h3m-3 1h3m-3 2h3m-3 2h3m-3 4h3m-3 4h3m-3 0h3m-2 0h3m-3 6h3m-2 -16h3m-3 0h3m-3 2h3m-3 0h3m-3 6h3m-3 2h3m-3 1h3m-3 2h3m-3 2h3m-2 -21h3m-3 0h3m-3 3h3m-3 2h3m-3 1h3m-3 0h3m-3 1h3m-3 2h3m-3 0h3m-3 5h3m-3 4h3m-3 3h3m-2 -13h3m-3 1h3m-3 1h3m-3 1h3m-3 1h3m-3 1h3m-3 2h3m-3 5h3m-3 1h3m-2 -16h3m-3 4h3m-3 4h3m-3 1h3m-3 1h3m-3 1h3m-3 0h3m-3 0h3m-3 1h3m-3 1h3m-2 -14h3m-3 7h3m-3 5h3m-3 0h3m-3 2h3m-3 3h3m-3 3h3m-2 -18h3m-3 3h3m-3 0h3m-3 1h3m-3 1h3m-3 1h3m-3 3h3m-3 3h3m-2 -15h3m-3 7h3m-3 2h3m-3 1h3m-3 4h3m-3 1h3m-3 4h3m-2 -15h3m-3 3h3m-3 1h3m-3 2h3m-3 2h3m-3 1h3m-3 1h3m-3 1h3m-3 4h3m-2 -15h3m-3 2h3m-3 0h3m-3 2h3m-3 3h3m-2 -10h3m-3 3h3m-3 4h3m-3 1h3m-3 9h3m-2 -14h3m-3 0h3m-3 2h3m-3 4h3m-2 -6h3m-3 2h3m-3 3h3m-3 2h3m-3 6h3m-2 -24h3m-3 33h3m-2 -27h3m-3 4h3m-3 5h3m-3 1h3m-3 1h3m-3 0h3m-3 1h3m-3 1h3m-3 4h3m-3 2h3m-2 -19h3m-3 1h3m-3 5h3m-3 5h3m-3 2h3m-3 4h3m-3 1h3m-2 -20h3m-3 3h3m-3 2h3m-3 2h3m-3 5h3m-3 1h3m-3 6h3m-2 -18h3m-3 2h3m-3 6h3m-3 4h3m-3 1h3m-3 1h3m-3 0h3m-2 -6h3m-2 -5h3m-3 9h3m-2 -5h3m-3 0h3m-3 6h3m-3 2h3m-3 1h3m-2 -15h3m-3 6h3m-3 2h3m-3 3h3m-3 6h3m-2 -16h3m-3 9h3m-3 0h3m-2 -8h3m-3 2h3m-3 6h3m-3 1h3m-3 2h3m-3 1h3m-3 1h3m-3 2h3m-3 5h3m-2 -23h3m-3 4h3m-3 3h3m-3 6h3m-3 5h3m-3 0h3m-3 15h3m-2 -21h3m-3 5h3m-3 1h3m-3 2h3m-2 -15h3m-3 2h3m-3 1h3m-3 1h3m-3 0h3m-3 8h3m-3 1h3m-2 -18h3m-3 2h3m-3 1h3m-3 1h3m-3 2h3m-3 2h3m-3 0h3m-3 1h3m-3 2h3m-3 0h3m-3 0h3m-3 5h3m-3 6h3m-2 -19h3m-3 1h3m-3 1h3m-3 3h3m-3 1h3m-3 0h3m-3 3h3m-3 0h3m-2 -10h3m-3 5h3m-3 1h3m-3 0h3m-3 3h3m-3 1h3m-3 0h3m-3 6h3m-2 -22h3m-3 8h3m-3 1h3m-3 0h3m-3 2h3m-3 5h3m-3 0h3m-3 1h3m-3 2h3m-3 0h3m-3 1h3m-2 -17h3m-3 6h3m-3 4h3m-3 0h3m-3 5h3m-2 -10h3m-3 8h3m-3 3h3m-3 0h3m-2 -8h3m-3 0h3m-3 1h3m-3 5h3m-3 4h3m-3 2h3m-2 -25h3m-3 3h3m-3 8h3m-3 0h3m-3 3h3m-3 1h3m-3 4h3m-3 4h3m-2 -12h3m-3 2h3m-3 0h3m-3 0h3m-3 4h3m-3 7h3m-2 -11h3m-3 2h3m-3 6h3m-2 -13h3m-3 3h3m-3 2h3m-3 0h3m-3 0h3m-3 1h3m-3 2h3m-2 -5h3m-3 3h3m-3 4h3m-3 4h3m-2 -12h3m-3 3h3m-3 8h3m-2 -4h3m-3 4h3m-3 0h3m-2 -11h3m-3 0h3m-3 5h3m-3 1h3m-3 1h3m-3 0h3m-3 2h3m-3 1h3m-3 1h3m-2 -14h3m-3 4h3m-3 1h3m-3 4h3m-3 1h3m-3 3h3m-3 0h3m-3 1h3m-3 1h3m-3 4h3m-3 1h3m-2 -15h3m-3 0h3m-3 0h3m-3 1h3m-3 1h3m-3 4h3m-3 1h3m-3 8h3m-2 -18h3m-3 4h3m-3 2h3m-3 1h3m-3 4h3m-3 3h3m-3 3h3m-2 -7h3m-3 1h3m-3 9h3m-2 -17h3m-3 3h3m-3 0h3m-3 6h3m-3 0h3m-3 2h3m-2 -13h3m-3 2h3m-3 1h3m-3 1h3m-3 1h3m-3 1h3m-3 1h3m-3 1h3m-2 -8h3m-3 3h3m-3 2h3m-3 9h3m-3 2h3m-2 -19h3m-3 1h3m-3 3h3m-3 4h3m-3 2h3m-3 1h3m-3 1h3m-3 5h3m-3 4h3m-2 -15h3m-3 5h3m-2 -7h3m-3 5h3m-3 7h3m-2 -15h3m-3 3h3m-3 3h3m-3 12h3m-2 -23h3m-3 4h3m-3 4h3m-3 2h3m-3 0h3m-3 1h3m-3 0h3m-3 3h3m-3 4h3m-2 -9h3m-3 3h3m-3 1h3m-3 2h3m-3 2h3m-2 -14h3m-3 1h3m-3 11h3m-3 3h3m-3 4h3m-3 1h3m-2 -12h3m-3 1h3m-3 6h3m-3 12h3m-2 -20h3m-2 -9h3m-3 4h3m-3 1h3m-3 3h3m-3 1h3m-3 3h3m-3 2h3m-3 10h3m-2 -20h3m-3 0h3m-3 4h3m-3 1h3m-3 1h3m-3 0h3m-3 1h3m-3 1h3m-3 2h3m-3 0h3m-3 1h3m-3 1h3m-2 -5h3m-3 4h3m-3 0h3m-3 2h3m-3 4h3m-2 -24h3m-3 10h3m-3 0h3m-3 10h3m-3 1h3m-3 1h3m-2 -6h3m-3 0h3m-3 2h3m-3 5h3m-2 -18h3m-3 4h3m-3 3h3m-3 1h3m-3 0h3m-3 1h3m-3 4h3m-3 4h3m-3 0h3m-2 -3h3m-2 -14h3m-3 0h3m-3 8h3m-3 1h3m-3 1h3m-3 1h3m-3 1h3m-3 2h3m-3 1h3m-3 1h3m-2 -14h3m-3 2h3m-3 2h3m-3 0h3m-3 0h3m-3 3h3m-3 1h3m-3 3h3m-2 -9h3m-3 11h3m-3 9h3m-2 -22h3m-3 5h3m-3 1h3m-3 6h3m-3 11h3m-3 0h3m-2 -21h3m-3 4h3m-3 2h3m-3 0h3m-3 2h3m-3 0h3m-3 2h3m-3 2h3m-3 7h3m-2 -18h3m-3 2h3m-3 1h3m-3 6h3m-3 3h3m-3 2h3m-2 -20h3m-3 5h3m-3 1h3m-3 3h3m-3 2h3m-3 3h3m-3 1h3m-3 1h3m-3 4h3m-2 -10h3m-3 7h3m-3 5h3m-2 -15h3m-3 8h3m-3 1h3m-3 2h3m-3 4h3m-3 2h3m-2 -10h3m-3 1h3m-3 1h3m-2 -6h3m-3 4h3m-2 -6h3m-3 3h3m-3 3h3m-2 -13h3m-3 13h3m-3 2h3m-3 1h3m-3 1h3m-3 6h3m-2 -39h3m-3 28h3m-3 3h3m-3 2h3m-3 2h3m-2 -11h3m-3 1h3m-3 5h3m-3 1h3m-3 3h3m-2 -3h3m-3 0h3m-3 1h3m-3 0h3m-3 7h3m-3 7h3m-2 -20h3m-3 4h3m-3 3h3m-3 2h3m-3 4h3m-2 -9h3m-3 4h3m-3 1h3m-3 6h3m-2 -11h3m-3 3h3m-3 5h3m-3 3h3m-2 -10h3m-3 4h3m-3 2h3m-3 4h3m-2 2h3m-2 -8h3m-2 3h3m-3 4h3m-3 2h3m-3 4h3m-2 -14h3m-3 8h3m-3 2h3m-3 1h3m-3 0h3m-3 3h3m-3 1h3m-2 -8h3m-3 7h3m-3 7h3m-2 -8h3m-3 3h3m-2 2h3m-3 14h3m-3 5h3m-2 -11h3m-3 6h3m-1 -21h3m-3 2h3m-3 10h3m-3 2h3m-3 0h3m-3 1h3m-2 -24h3m-3 12h3m-2 -10h3m-3 12h3m-3 5h3m-2 -15h3m-3 5h3m-2 -7h3m-3 6h3m-3 5h3m-2 -20h3m-3 5h3m-3 6h3m-3 2h3m-2 -12h3m-3 5h3m-3 3h3m-3 0h3m-2 -11h3m-3 1h3m-3 2h3m-3 1h3m-3 1h3m-3 2h3m-3 3h3m-3 1h3m-3 0h3m-3 1h3m-3 1h3m-3 0h3m-3 1h3m-2 -13h3m-3 1h3m-3 2h3m-3 3h3m-3 1h3m-3 2h3m-2 -15h3m-3 2h3m-3 6h3m-3 3h3m-3 0h3m-3 1h3m-3 11h3m-2 -21h3m-3 5h3m-3 2h3m-3 0h3m-3 1h3m-3 1h3m-3 0h3m-3 1h3m-2 -15h3m-3 5h3m-3 5h3m-3 0h3m-3 2h3m-2 -6h3m-3 2h3m-3 5h3m-3 1h3m-3 3h3m-3 1h3m-3 1h3m-3 3h3m-2 -18h3m-3 1h3m-3 10h3m-3 8h3m-2 -23h3m-3 3h3m-3 2h3m-3 3h3m-3 7h3m-3 2h3m-3 8h3m-2 -24h3m-3 3h3m-3 5h3m-3 0h3m-3 3h3m-3 0h3m-3 0h3m-3 10h3m-2 -23h3m-3 3h3m-3 2h3m-3 0h3m-3 2h3m-3 3h3m-3 3h3m-3 4h3m-2 -17h3m-3 6h3m-3 0h3m-3 5h3m-3 2h3m-3 0h3m-3 2h3m-3 4h3m-2 -16h3m-3 1h3m-3 2h3m-2 1h3m-3 2h3m-3 0h3m-3 2h3m-3 3h3m-2 -1h3m-3 1h3m-3 4h3m-2 -22h3m-3 7h3m-3 1h3m-3 4h3m-3 1h3m-2 -10h3m-3 1h3m-3 2h3m-3 4h3m-3 2h3m-3 2h3m-3 0h3m-3 4h3m-2 -17h3m-3 6h3m-3 4h3m-3 3h3m-3 2h3m-3 3h3m-3 2h3m-2 -17h3m-3 2h3m-3 4h3m-3 1h3m-3 6h3m-3 1h3m-3 0h3m-2 -10h3m-3 4h3m-3 1h3m-3 0h3m-3 0h3m-3 0h3m-3 2h3m-3 1h3m-3 2h3m-3 6h3m-2 -17h3m-3 0h3m-3 1h3m-3 3h3m-3 4h3m-3 2h3m-3 0h3m-2 -15h3m-3 5h3m-3 0h3m-3 2h3m-3 0h3m-3 1h3m-3 1h3m-3 0h3m-3 1h3m-3 4h3m-2 -12h3m-3 4h3m-3 4h3m-3 4h3m-2 -9h3m-3 1h3m-3 6h3m-3 8h3m-3 11h3m-2 -25h3m-3 10h3m-2 -10h3m-3 5h3m-2 -6h3m-3 2h3m-3 1h3m-3 0h3m-3 4h3m-2 -7h3m-3 4h3m-3 1h3m-2 -8h3m-3 9h3m-3 2h3m-3 4h3m-2 -9h3m-3 4h3m-3 2h3m-3 5h3m-2 -17h3m-3 0h3m-3 10h3m-3 0h3m-3 1h3m-2 -9h3m-3 1h3m-3 0h3m-3 3h3m-3 1h3m-3 9h3m-2 -23h3m-3 9h3m-3 6h3m-3 0h3m-3 2h3m-2 -7h3m-3 6h3m-3 1h3m-3 3h3m-2 -9h3m-3 0h3m-3 1h3m-3 4h3m-3 3h3m-3 0h3m-2 -11h3m-3 2h3m-3 0h3m-3 2h3m-3 9h3m-2 -14h3m-3 3h3m-3 5h3m-3 1h3m-3 2h3m-3 1h3m-3 7h3m-3 1h3m-2 -21h3m-3 5h3m-3 2h3m-3 1h3m-3 0h3m-3 3h3m-3 2h3m-3 1h3m-3 7h3m-2 -21h3m-2 3h3m-3 1h3m-3 2h3m-3 6h3m-3 1h3m-3 1h3m-2 -13h3m-3 6h3m-3 6h3m-3 2h3m-3 0h3m-3 1h3m-3 1h3m-2 -19h3m-3 8h3m-3 2h3m-3 4h3m-3 1h3m-3 0h3m-3 2h3m-3 16h3m-2 -24h3m-3 1h3m-3 0h3m-3 6h3m-3 0h3m-3 5h3m-2 -18h3m-3 3h3m-3 6h3m-3 15h3m-2 -16h3m-3 2h3m-3 1h3m-3 4h3m-3 0h3m-2 -7h3m-3 20h3m-2 -27h3m-3 7h3m-3 1h3m-3 2h3m-3 2h3m-2 -13h3m-3 4h3m-3 2h3m-3 1h3m-3 1h3m-3 1h3m-3 2h3m-3 5h3m-2 -14h3m-3 6h3m-3 0h3m-3 0h3m-3 2h3m-3 1h3m-3 0h3m-2 -4h3m-3 5h3m-2 -6h3m-3 3h3m-3 2h3m-3 0h3m-2 -11h3m-3 4h3m-3 0h3m-3 9h3m-3 1h3m-3 0h3m-3 1h3m-2 -17h3m-3 4h3m-3 2h3m-3 2h3m-3 0h3m-3 0h3m-3 2h3m-3 6h3m-3 1h3m-2 -12h3m-3 3h3m-3 3h3m-3 13h3m-2 -24h3m-3 5h3m-3 1h3m-3 0h3m-3 1h3m-3 0h3m-3 3h3m-3 2h3m-3 0h3m-3 1h3m-3 1h3m-3 2h3m-3 1h3m-3 2h3m-2 -25h3m-3 7h3m-3 0h3m-3 7h3m-3 1h3m-3 7h3m-2 -5h3m-3 1h3m-2 -15h3m-3 7h3m-3 0h3m-3 1h3m-3 3h3m-3 2h3m-3 4h3m-2 -7h3m-3 1h3m-3 7h3m-3 1h3m-3 0h3m-2 -9h3m-3 0h3m-3 2h3m-3 3h3m-3 2h3m-3 1h3m-2 -10h3m-3 1h3m-3 2h3m-3 9h3m-2 -14h3m-3 2h3m-3 3h3m-3 3h3m-2 -3h3m-3 5h3m-3 2h3m-2 -9h3m-3 0h3m-3 0h3m-3 4h3m-3 4h3m-3 9h3m-2 -25h3m-3 4h3m-3 1h3m-3 2h3m-3 8h3m-2 -35h3m-3 21h3m-3 7h3m-3 5h3m-3 0h3m-3 7h3m-2 -12h3m-3 2h3m-3 0h3m-3 2h3m-3 3h3m-3 1h3m-3 4h3m-2 -14h3m-3 2h3m-3 1h3m-3 5h3m-3 7h3m-2 -22h3m-3 4h3m-3 11h3m-3 0h3m-2 -9h3m-3 1h3m-3 4h3m-3 1h3m-3 0h3m-3 3h3m-3 1h3m-2 -3h3m-3 1h3m-3 0h3m-3 5h3m-3 2h3m-3 3h3m-2 -18h3m-3 0h3m-3 1h3m-3 3h3m-3 0h3m-3 1h3m-3 2h3m-3 0h3m-3 3h3m-3 2h3m-3 6h3m-2 -18h3m-3 3h3m-3 1h3m-3 0h3m-3 6h3m-2 -11h3m-3 5h3m-3 2h3m-3 1h3m-3 1h3m-3 0h3m-3 4h3m-3 0h3m-3 1h3m-2 -10h3m-3 1h3m-3 1h3m-3 5h3m-3 4h3m-3 2h3m-2 -17h3m-3 7h3m-3 3h3m-2 -16h3m-3 11h3m-3 1h3m-3 2h3m-3 1h3m-3 7h3m-3 4h3m-2 -14h3m-3 1h3m-3 1h3m-3 0h3m-3 17h3m-2 -24h3m-3 1h3m-3 0h3m-3 10h3m-3 1h3m-2 -10h3m-3 0h3m-3 1h3m-3 0h3m-3 3h3m-3 2h3m-3 1h3m-3 2h3m-3 3h3m-2 -7h3m-3 2h3m-2 -11h3m-3 1h3m-3 6h3m-3 6h3m-3 0h3m-3 1h3m-3 5h3m-2 -18h3m-3 4h3m-3 2h3m-3 3h3m-3 1h3m-3 0h3m-3 2h3m-3 3h3m-2 -14h3m-3 6h3m-2 -11h3m-3 12h3m-3 3h3m-3 3h3m-3 5h3m-2 -17h3m-3 2h3m-3 1h3m-3 9h3m-3 2h3m-2 -14h3m-3 4h3m-3 7h3m-2 -15h3m-3 4h3m-3 3h3m-3 0h3m-3 0h3m-3 1h3m-3 0h3m-3 2h3m-3 0h3m-3 3h3m-3 0h3m-3 1h3m-3 8h3m-2 -23h3m-3 9h3m-3 1h3m-3 0h3m-3 1h3m-3 0h3m-3 2h3m-3 1h3m-3 2h3m-3 0h3m-3 1h3m-3 9h3m-2 -29h3m-3 14h3m-3 5h3m-2 -8h3m-3 1h3m-3 0h3m-3 2h3m-3 0h3m-3 3h3m-3 1h3m-3 5h3m-2 -24h3m-3 7h3m-3 3h3m-3 1h3m-3 1h3m-3 4h3m-3 1h3m-3 1h3m-3 0h3m-3 2h3m-3 2h3m-3 1h3m-2 -15h3m-3 1h3m-3 2h3m-3 6h3m-3 8h3m-2 -16h3m-3 0h3m-3 5h3m-3 0h3m-3 1h3m-3 3h3m-3 0h3m-3 1h3m-3 0h3m-3 3h3m-3 0h3m-3 13h3m-2 -29h3m-3 1h3m-3 6h3m-3 3h3m-2 -8h3m-3 4h3m-3 0h3m-3 3h3m-3 1h3m-3 4h3m-3 1h3m-3 1h3m-3 0h3m-2 -13h3m-3 5h3m-3 1h3m-3 1h3m-3 4h3m-3 3h3m-3 1h3m-2 -25h3m-3 7h3m-3 4h3m-3 3h3m-2 0h3m-3 0h3m-3 2h3m-3 1h3m-3 5h3m-2 -13h3m-3 17h3m-2 -12h3m-3 1h3m-3 0h3m-3 1h3m-3 3h3m-2 -9h3m-3 4h3m-3 3h3m-2 -7h3m-3 5h3m-3 2h3m-3 5h3m-3 0h3m-2 -11h3m-3 1h3m-3 2h3m-3 6h3m-3 1h3m-3 1h3m-2 -15h3m-3 5h3m-3 0h3m-3 1h3m-3 3h3m-3 0h3m-3 0h3m-3 1h3m-3 0h3m-3 2h3m-3 0h3m-3 5h3m-2 -18h3m-3 3h3m-3 3h3m-3 0h3m-3 2h3m-3 4h3m-3 0h3m-2 -11h3m-3 3h3m-3 6h3m-3 2h3m-3 2h3m-3 1h3m-3 7h3m-2 -21h3m-3 4h3m-3 9h3m-3 19h3m-2 -35h3m-3 11h3m-3 3h3m-3 0h3m-3 4h3m-3 8h3m-2 -25h3m-3 3h3m-3 6h3m-3 4h3m-3 0h3m-3 0h3m-3 7h3m-2 -18h3m-3 7h3m-3 2h3m-3 3h3m-3 3h3m-3 2h3m-2 -17h3m-3 3h3m-3 1h3m-3 4h3m-3 2h3m-3 0h3m-3 4h3m-2 -14h3m-3 7h3m-3 0h3m-3 2h3m-3 0h3m-3 0h3m-3 1h3m-3 1h3m-3 1h3m-2 -12h3m-3 5h3m-3 9h3m-2 -7h3m-3 3h3m-3 2h3m-3 2h3m-3 1h3m-2 -9h3m-3 1h3m-3 0h3m-3 2h3m-3 1h3m-3 8h3m-2 -20h3m-3 6h3m-3 1h3m-3 1h3m-3 1h3m-3 3h3m-3 4h3m-3 0h3m-2 -12h3m-3 7h3m-3 7h3m-3 1h3m-2 -17h3m-3 1h3m-3 3h3m-3 2h3m-3 2h3m-3 9h3m-2 -9h3m-3 1h3m-3 8h3m-3 3h3m-2 -24h3m-3 10h3m-3 5h3m-3 2h3m-3 4h3m-2 -11h3m-3 2h3m-3 0h3m-3 0h3m-3 1h3m-3 1h3m-3 1h3m-3 3h3m-3 2h3m-3 0h3m-2 -15h3m-3 6h3m-3 4h3m-3 13h3m-2 -22h3m-3 4h3m-3 1h3m-3 3h3m-3 2h3m-3 0h3m-2 -10h3m-3 6h3m-3 2h3m-3 2h3m-3 0h3m-3 2h3m-2 -12h3m-3 4h3m-3 6h3m-2 -6h3m-3 3h3m-3 1h3m-3 1h3m-3 2h3m-3 4h3m-3 3h3m-2 -13h3m-3 3h3m-3 1h3m-3 1h3m-3 2h3m-2 -4h3m-3 2h3m-3 3h3m-3 0h3m-3 3h3m-3 1h3m-3 0h3m-2 -17h3m-3 1h3m-3 3h3m-3 8h3m-3 4h3m-2 -19h3m-3 6h3m-3 3h3m-3 2h3m-3 1h3m-2 -11h3m-3 5h3m-3 1h3m-3 2h3m-3 0h3m-3 2h3m-3 1h3m-3 2h3m-3 2h3m-3 10h3m-2 -24h3m-3 0h3m-3 2h3m-3 2h3m-3 0h3m-3 4h3m-3 3h3m-3 7h3m-3 6h3m-2 -27h3m-3 8h3m-3 1h3m-2 -5h3m-3 5h3m-3 0h3m-3 2h3m-3 3h3m-3 0h3m-3 2h3m-3 3h3m-2 -14h3m-3 3h3m-3 5h3m-3 0h3m-3 0h3m-3 1h3m-3 1h3m-2 -15h3m-3 2h3m-3 2h3m-3 0h3m-3 5h3m-3 5h3m-3 1h3m-3 4h3m-2 -12h3m-3 4h3m-3 4h3m-3 1h3m-3 2h3m-2 -15h3m-3 4h3m-3 1h3m-3 12h3m-2 -15h3m-3 1h3m-3 3h3m-3 2h3m-3 1h3m-3 1h3m-3 3h3m-3 10h3m-2 -27h3m-3 4h3m-3 8h3m-3 1h3m-3 2h3m-3 9h3m-2 -13h3m-2 -13h3m-3 2h3m-3 6h3m-3 1h3m-3 6h3m-3 5h3m-2 -9h3m-3 1h3m-3 4h3m-3 2h3m-3 3h3m-3 5h3m-2 -15h3m-3 0h3m-3 0h3m-3 2h3m-3 2h3m-3 0h3m-3 5h3m-3 3h3m-3 5h3m-2 -27h3m-3 9h3m-3 7h3m-2 -13h3m-3 3h3m-3 6h3m-3 2h3m-3 5h3m-3 4h3m-2 -23h3m-3 10h3m-3 1h3m-3 1h3m-3 2h3m-3 1h3m-3 4h3m-2 -12h3m-3 2h3m-3 1h3m-3 4h3m-3 6h3m-2 -17h3m-3 4h3m-3 4h3m-3 2h3m-3 0h3m-3 2h3m-3 1h3m-2 -11h3m-3 1h3m-3 3h3m-3 0h3m-3 3h3m-3 6h3m-2 -8h3m-3 11h3m-2 -14h3m-3 3h3m-3 2h3m-3 3h3m-2 -13h3m-3 9h3m-3 1h3m-3 2h3m-3 4h3m-3 4h3m-2 -9h3m-3 2h3m-3 1h3m-3 6h3" stroke="#1c1cb4" stroke-width="2.6" fill="none"/>
<polyline points="364.1,93.6 364.7,93.6 365.2,93.6 365.7,93.6 366.2,93.6 366.8,93.6 367.3,93.6 367.8,93.6 368.4,93.6 368.9,93.6 369.4,93.6 369.9,93.6 370.4,93.6 371,93.6 371.5,93.6 372,93.6 372.6,93.6 373.1,93.6 373.6,93.6 374.1,93.6 374.6,93.6 375.2,93.6 375.7,93.6 376.2,93.6 376.8,93.6 377.3,93.6 377.8,93.6 378.3,93.6 378.9,93.6 379.4,93.6 379.9,93.6 380.4,93.6 380.9,93.6 381.5,93.6 382,93.6 382.5,93.6 383.1,93.6 383.6,93.6 384.1,93.6 384.6,93.6 385.1,93.6 385.7,93.6 386.2,93.6 386.7,93.6 387.2,93.6 387.8,93.6 388.3,93.6 388.8,93.6 389.4,93.6 389.9,93.6 390.4,93.6 390.9,93.6 391.4,93.6 392,93.6 392.5,93.6 393,93.6 393.6,93.6 394.1,93.6 394.6,93.6 395.1,93.6 395.6,93.6 396.2,93.6 396.7,93.6 397.2,93.6 397.8,93.6 398.3,93.6 398.8,93.6 399.3,93.6 399.9,93.6 400.4,93.6 400.9,93.6 401.4,93.6 401.9,93.6 402.5,93.6 403,93.6 403.5,93.6 404.1,93.6 404.6,93.6 405.1,93.6 405.6,93.6 406.1,93.6 406.7,93.6 407.2,93.6 407.7,93.6 408.2,93.6 408.8,93.6 409.3,93.6 409.8,93.6 410.4,93.6 410.9,93.6 411.4,93.6 411.9,93.6 412.4,93.6 413,93.6 413.5,93.6 414,93.6 414.6,93.6 415.1,93.6 415.6,93.6 416.1,93.6 416.6,93.6 417.2,93.6 417.7,93.6 418.2,93.6 418.8,93.6 419.3,93.6 419.8,93.6 420.3,93.6 420.9,93.6 421.4,93.6 421.9,93.6 422.4,93.6 422.9,93.6 423.5,93.6 424,93.6 424.5,93.7 425.1,93.7 425.6,93.7 426.1,93.7 426.6,93.7 427.1,93.7 427.7,93.7 428.2,93.7 428.7,93.8 429.2,93.8 429.8,93.8 430.3,93.9 430.8,93.9 431.4,93.9 431.9,94 432.4,94.1 432.9,94.1 433.4,94.2 434,94.3 434.5,94.5 435,94.6 435.6,94.8 436.1,95 436.6,95.2 437.1,95.4 437.6,95.7 438.2,96.1 438.7,96.5 439.2,96.9 439.8,97.5 440.3,98.1 440.8,98.9 441.3,99.7 441.9,100.7 442.4,101.9 442.9,103.3 443.4,104.8 443.9,106.7 444.5,108.8 445,111.3 445.5,108.8 446.1,106.7 446.6,104.8 447.1,103.3 447.6,101.9 448.1,100.7 448.7,99.7 449.2,98.9 449.7,98.1 450.2,97.5 450.8,96.9 451.3,96.5 451.8,96.1 452.4,95.7 452.9,95.4 453.4,95.2 453.9,95 454.4,94.8 455,94.6 455.5,94.5 456,94.3 456.6,94.2 457.1,94.1 457.6,94.1 458.1,94 458.6,93.9 459.2,93.9 459.7,93.9 460.2,93.8 460.8,93.8 461.3,93.8 461.8,93.7 462.3,93.7 462.9,93.7 463.4,93.7 463.9,93.7 464.4,93.7 464.9,93.7 465.5,93.7 466,93.6 466.5,93.6 467.1,93.6 467.6,93.6 468.1,93.6 468.6,93.6 469.1,93.6 469.7,93.6 470.2,93.6 470.7,93.6 471.2,93.6 471.8,93.6 472.3,93.6 472.8,93.6 473.4,93.6 473.9,93.6 474.4,93.6 474.9,93.6 475.4,93.6 476,93.6 476.5,93.6 477,93.6 477.6,93.6 478.1,93.6 478.6,93.6 479.1,93.6 479.6,93.6 480.2,93.6 480.7,93.6 481.2,93.6 481.8,93.6 482.3,93.6 482.8,93.6 483.3,93.6 483.9,93.6 484.4,93.6 484.9,93.6 485.4,93.6 485.9,93.6 486.5,93.6 487,93.6 487.5,93.6 488.1,93.6 488.6,93.6 489.1,93.6 489.6,93.6 490.1,93.6 490.7,93.6 491.2,93.6 491.7,93.6 492.2,93.6 492.8,93.6 493.3,93.6 493.8,93.6 494.4,93.6 494.9,93.6 495.4,93.6 495.9,93.6 496.4,93.6 497,93.6 497.5,93.6 498,93.6 498.6,93.6 499.1,93.6 499.6,93.6 500.1,93.6 500.6,93.6 501.2,93.6 501.7,93.6 502.2,93.6 502.8,93.6 503.3,93.6 503.8,93.6 504.3,93.6 504.9,93.6 505.4,93.6 505.9,93.6 506.4,93.6 506.9,93.6 507.5,93.6 508,93.6 508.5,93.6 509.1,93.6 509.6,93.6 510.1,93.6 510.6,93.6 511.1,93.6 511.7,93.6 512.2,93.6 512.7,93.6 513.2,93.6 513.8,93.6 514.3,93.6 514.8,93.6 515.4,93.6 515.9,93.6 516.4,93.6 516.9,93.6 517.5,93.6 518,93.6 518.5,93.6 519,93.6 519.5,93.6 520.1,93.6 520.6,93.6 521.1,93.6 521.6,93.6 522.2,93.6 522.7,93.6 523.2,93.6 523.8,93.6 524.3,93.6 524.8,93.6 525.3,93.6 525.9,93.6" fill="none" stroke="#84e898" stroke-width="1.05"/>
<path transform="scale(0.5)" d="M728 135h3m-2 0h3m-3 2h3m-3 5h3m-3 5h3m-3 1h3m-3 4h3m-3 3h3m-2 -20h3m-3 0h3m-3 2h3m-3 0h3m-3 4h3m-3 0h3m-3 1h3m-3 0h3m-3 2h3m-3 12h3m-2 -24h3m-3 6h3m-3 1h3m-3 2h3m-3 6h3m-3 1h3m-2 -4h3m-2 -9h3m-3 1h3m-3 2h3m-3 2h3m-3 1h3m-3 2h3m-2 -5h3m-3 3h3m-3 1h3m-3 4h3m-3 0h3m-2 -13h3m-3 1h3m-3 4h3m-3 0h3m-3 1h3m-3 7h3m-2 -9h3m-3 2h3m-3 1h3m-3 0h3m-3 2h3m-3 0h3m-3 1h3m-3 2h3m-3 5h3m-2 -20h3m-3 4h3m-3 4h3m-3 1h3m-3 0h3m-3 1h3m-3 0h3m-3 3h3m-3 0h3m-3 3h3m-2 -15h3m-3 1h3m-3 5h3m-3 4h3m-3 3h3m-3 0h3m-2 -9h3m-3 2h3m-3 5h3m-2 -3h3m-3 3h3m-3 2h3m-3 1h3m-3 1h3m-3 7h3m-2 -13h3m-3 4h3m-3 1h3m-3 2h3m-2 -16h3m-3 3h3m-3 0h3m-3 1h3m-3 5h3m-3 1h3m-3 3h3m-3 6h3m-2 -20h3m-3 2h3m-3 7h3m-3 1h3m-2 0h3m-3 0h3m-3 3h3m-3 0h3m-2 -7h3m-3 3h3m-3 1h3m-3 2h3m-3 3h3m-3 1h3m-3 2h3m-2 -12h3m-3 6h3m-3 0h3m-3 2h3m-3 0h3m-3 1h3m-3 1h3m-3 6h3m-2 -17h3m-3 6h3m-3 0h3m-3 2h3m-3 2h3m-3 3h3m-2 -13h3m-3 2h3m-3 0h3m-3 6h3m-3 4h3m-2 -17h3m-3 6h3m-3 6h3m-3 1h3m-2 -4h3m-3 0h3m-3 0h3m-3 3h3m-3 4h3m-3 2h3m-2 -16h3m-3 5h3m-3 1h3m-3 1h3m-3 5h3m-2 -8h3m-3 2h3m-3 1h3m-3 4h3m-3 1h3m-3 0h3m-3 1h3m-3 1h3m-3 2h3m-2 -16h3m-3 3h3m-3 1h3m-3 1h3m-3 0h3m-3 0h3m-3 3h3m-3 2h3m-3 3h3m-2 -6h3m-3 3h3m-3 11h3m-2 -19h3m-3 5h3m-2 -18h3m-3 15h3m-3 3h3m-3 1h3m-3 4h3m-3 0h3m-3 2h3m-3 0h3m-3 2h3m-2 -16h3m-3 8h3m-3 1h3m-3 2h3m-3 1h3m-3 0h3m-2 -10h3m-3 4h3m-3 2h3m-3 8h3m-3 0h3m-2 -18h3m-3 3h3m-3 5h3m-3 5h3m-3 0h3m-3 2h3m-3 3h3m-2 -11h3m-3 5h3m-3 2h3m-2 -11h3m-3 4h3m-3 1h3m-3 7h3m-3 5h3m-2 -10h3m-3 0h3m-3 7h3m-3 3h3m-2 -20h3m-3 5h3m-3 3h3m-3 9h3m-3 0h3m-3 1h3m-2 -15h3m-3 6h3m-3 1h3m-3 0h3m-3 0h3m-3 0h3m-3 1h3m-3 4h3m-2 -12h3m-3 5h3m-3 6h3m-3 1h3m-3 0h3m-3 5h3m-3 1h3m-3 3h3m-2 -17h3m-3 1h3m-3 5h3m-3 0h3m-3 1h3m-3 2h3m-3 1h3m-2 -12h3m-3 1h3m-3 8h3m-3 2h3m-3 0h3m-3 3h3m-2 -13h3m-3 8h3m-3 3h3m-3 3h3m-2 -20h3m-3 4h3m-3 2h3m-3 6h3m-3 2h3m-3 6h3m-2 -22h3m-3 9h3m-3 3h3m-3 1h3m-3 0h3m-3 3h3m-3 3h3m-2 -18h3m-3 9h3m-3 2h3m-3 3h3m-3 4h3m-3 2h3m-2 -18h3m-3 11h3m-3 0h3m-3 2h3m-3 3h3m-2 -10h3m-3 6h3m-3 2h3m-3 4h3m-3 0h3m-3 3h3m-2 -13h3m-3 5h3m-3 2h3m-2 -11h3m-3 2h3m-3 2h3m-3 1h3m-3 0h3m-3 5h3m-2 -7h3m-3 1h3m-3 4h3m-3 5h3m-2 -9h3m-3 3h3m-3 8h3m-2 -21h3m-3 7h3m-3 7h3m-3 5h3m-2 -12h3m-3 2h3m-3 0h3m-3 1h3m-3 2h3m-3 4h3m-3 5h3m-2 -17h3m-3 19h3m-2 -14h3m-3 0h3m-3 1h3m-3 2h3m-3 0h3m-3 3h3m-3 0h3m-3 1h3m-2 5h3m-2 -12h3m-3 1h3m-3 4h3m-3 3h3m-2 -19h3m-3 1h3m-3 2h3m-3 7h3m-3 3h3m-3 7h3m-3 0h3m-3 1h3m-3 1h3m-2 -13h3m-3 1h3m-2 -4h3m-3 3h3m-3 10h3m-2 -9h3m-3 3h3m-3 2h3m-2 -3h3m-3 2h3m-3 4h3m-3 5h3m-2 -19h3m-3 11h3m-3 1h3m-3 0h3m-3 0h3m-3 1h3m-2 -7h3m-3 1h3m-3 4h3m-3 2h3m-3 1h3m-1 -6h3m-2 -5h3m-3 4h3m-3 1h3m-3 2h3m-3 1h3m-3 4h3m-3 1h3m-2 -20h3m-3 3h3m-3 3h3m-3 0h3m-3 4h3m-3 4h3m-3 2h3m-3 0h3m-2 -5h3m-3 5h3m-3 3h3m-3 4h3m-2 -13h3m-3 2h3m-3 2h3m-3 3h3m-3 3h3m-3 1h3m-2 -9h3m-3 2h3m-3 0h3m-3 3h3m-2 -7h3m-3 5h3m-3 3h3m-3 1h3m-3 3h3m-2 -16h3m-3 5h3m-3 1h3m-3 3h3m-3 6h3m-2 -14h3m-3 3h3m-3 1h3m-3 5h3m-2 -10h3m-3 2h3m-3 9h3m-2 -10h3m-3 1h3m-3 5h3m-3 1h3m-3 3h3m-2 -6h3m-3 3h3m-3 1h3m-3 0h3m-3 3h3m-3 4h3m-2 -11h3m-3 1h3m-3 0h3m-3 1h3m-3 5h3m-3 10h3m-1 -21h3m-3 1h3m-3 6h3m-3 8h3m-2 0h3m-3 0h3m-3 3h3m-2 -15h3m-3 5h3m-3 0h3m-3 3h3m-3 2h3m-2 -4h3m-3 2h3m-2 -10h3m-3 1h3m-3 0h3m-3 2h3m-3 3h3m-3 1h3m-3 0h3m-3 1h3m-3 1h3m-3 8h3m-2 -29h3m-3 4h3m-3 7h3m-3 1h3m-3 4h3m-3 6h3m-1 -15h3m-3 0h3m-3 11h3m-2 1h3m-3 1h3m-2 -7h3m-3 5h3m-2 0h3m-2 -2h3m-3 0h3m-3 1h3m-3 2h3m-3 2h3m-3 1h3m-3 8h3m-2 -20h3m-3 4h3m-3 4h3m-3 1h3m-3 2h3m-3 1h3m-3 0h3m-3 2h3m-3 1h3m-2 -13h3m-3 1h3m-3 3h3m-3 2h3m-3 1h3m-3 1h3m-3 0h3m-3 2h3m-3 1h3m-3 6h3m-2 -22h3m-3 10h3m-3 3h3m-3 2h3m-3 0h3m-3 7h3m-2 -22h3m-3 6h3m-3 4h3m-3 12h3m-2 -18h3m-3 3h3m-3 4h3m-3 2h3m-3 2h3m-3 3h3m-2 -10h3m-3 5h3m-3 1h3m-3 11h3m-2 -29h3m-3 10h3m-3 0h3m-3 1h3m-3 3h3m-3 2h3m-3 0h3m-3 3h3m-3 1h3m-2 -10h3m-3 3h3m-3 1h3m-3 5h3m-3 4h3m-2 -8h3m-3 2h3m-3 2h3m-3 2h3m-2 -20h3m-3 13h3m-3 3h3m-3 0h3m-2 -10h3m-3 2h3m-3 1h3m-3 5h3m-3 1h3m-3 2h3m-3 1h3m-2 -9h3m-3 6h3m-3 2h3m-3 2h3m-3 0h3m-3 2h3m-2 -9h3m-3 2h3m-3 1h3m-3 3h3m-3 0h3m-3 3h3m-3 0h3m-2 -16h3m-3 2h3m-3 8h3m-3 0h3m-3 1h3m-3 2h3m-3 6h3m-2 -15h3m-3 3h3m-3 1h3m-3 6h3m-3 3h3m-3 0h3m-3 5h3m-2 -21h3m-3 8h3m-3 2h3m-3 11h3m-2 -15h3m-3 2h3m-3 1h3m-3 3h3m-3 4h3m-3 3h3m-2 -15h3m-3 2h3m-3 8h3m-2 -13h3m-3 4h3m-3 3h3m-3 1h3m-3 1h3m-3 4h3m-2 -10h3m-3 0h3m-3 2h3m-3 6h3m-3 1h3m-3 4h3m-3 8h3m-2 -23h3m-3 5h3m-3 0h3m-3 1h3m-3 6h3m-3 1h3m-2 -17h3m-3 3h3m-3 5h3m-3 0h3m-3 1h3m-3 8h3m-2 -19h3m-3 3h3m-3 5h3m-3 2h3m-3 0h3m-3 4h3m-3 6h3m-2 -22h3m-3 12h3m-3 9h3m-2 -18h3m-3 5h3m-3 0h3m-3 3h3m-3 0h3m-3 0h3m-3 5h3m-3 2h3m-3 1h3m-3 9h3m-2 -20h3m-3 1h3m-3 1h3m-3 1h3m-3 7h3m-2 -13h3m-3 6h3m-3 0h3m-3 11h3m-2 -13h3m-3 7h3m-2 -10h3m-3 1h3m-3 2h3m-3 2h3m-3 2h3m-3 7h3m-2 -18h3m-3 5h3m-3 3h3m-3 9h3m-3 1h3m-2 -11h3m-3 0h3m-3 1h3m-2 -12h3m-3 7h3m-3 5h3m-3 1h3m-3 5h3m-3 1h3m-3 0h3m-3 1h3m-3 0h3m-3 2h3m-3 0h3m-3 3h3m-3 0h3m-2 -16h3m-3 3h3m-3 2h3m-3 4h3m-3 0h3m-3 1h3m-3 1h3m-3 3h3m-2 -15h3m-3 8h3m-3 1h3m-3 3h3m-3 1h3m-3 1h3m-3 1h3m-3 2h3m-3 4h3m-2 -21h3m-3 6h3m-3 4h3m-3 4h3m-2 -8h3m-3 3h3m-3 2h3m-3 0h3m-3 1h3m-3 1h3m-3 1h3m-3 9h3m-2 -20h3m-3 5h3m-3 5h3m-3 1h3m-3 1h3m-2 -14h3m-3 8h3m-3 3h3m-3 1h3m-3 5h3m-3 6h3m-3 1h3m-2 -25h3m-3 6h3m-3 0h3m-3 0h3m-3 4h3m-3 3h3m-3 0h3m-3 2h3m-2 -15h3m-3 2h3m-3 1h3m-3 2h3m-3 2h3m-2 -8h3m-3 6h3m-3 2h3m-3 8h3m-3 1h3m-2 -12h3m-3 7h3m-3 1h3m-3 0h3m-3 0h3m-3 2h3m-3 4h3m-2 -15h3m-3 1h3m-3 2h3m-3 2h3m-3 0h3m-2 -6h3m-3 6h3m-3 0h3m-3 1h3m-3 1h3m-3 3h3m-3 0h3m-3 2h3m-2 -17h3m-3 2h3m-3 5h3m-3 1h3m-3 0h3m-3 2h3m-3 4h3m-3 5h3m-2 -21h3m-3 9h3m-3 0h3m-3 0h3m-3 2h3m-3 1h3m-2 -10h3m-3 2h3m-3 3h3m-3 2h3m-3 2h3m-3 1h3m-3 1h3m-3 1h3m-3 1h3m-3 0h3m-3 3h3m-2 -12h3m-3 1h3m-3 0h3m-3 0h3m-3 4h3m-3 5h3m-2 -10h3m-3 2h3m-3 6h3m-3 1h3m-3 1h3m-3 1h3m-3 2h3m-2 -16h3m-3 4h3m-3 1h3m-3 2h3m-3 2h3m-3 4h3m-2 -7h3m-3 1h3m-3 13h3m-2 -16h3m-3 0h3m-3 3h3m-3 11h3m-2 -14h3m-3 2h3m-3 4h3m-3 0h3m-3 2h3m-3 1h3m-3 0h3m-3 1h3m-2 -8h3m-3 2h3m-3 4h3m-2 -5h3m-3 5h3m-3 3h3m-3 1h3m-2 -12h3m-3 2h3m-3 0h3m-3 1h3m-3 1h3m-3 2h3m-3 0h3m-3 8h3m-2 -16h3m-3 8h3m-3 3h3m-3 2h3m-3 0h3m-3 1h3m-3 4h3m-2 -12h3m-3 1h3m-3 8h3m-2 -18h3m-3 7h3m-3 3h3m-3 1h3m-3 2h3m-3 2h3m-3 2h3m-3 1h3m-3 2h3m-3 0h3m-2 -12h3m-2 15h3m-3 2h3m-2 -15h3m-3 6h3m-3 2h3m-3 8h3m-2 -17h3m-3 4h3m-3 0h3m-3 3h3m-3 1h3m-3 1h3m-3 7h3m-2 -16h3m-3 3h3m-3 5h3m-3 0h3m-3 3h3m-3 0h3m-3 2h3m-3 3h3m-3 1h3m-3 0h3m-2 -8h3m-3 4h3m-3 11h3m-2 -12h3m-3 1h3m-2 -1h3m-3 11h3m-2 -7h3m-3 2h3m-2 15h3m-2 -16h3m-3 9h3m-2 -14h3m-3 12h3m-3 1h3m-1 4h3m-3 3h3m-2 -13h3m-3 7h3m-3 1h3m-3 3h3m-3 1h3m-2 -6h3m-3 1h3m-3 2h3m-3 4h3m-2 -5h3m-3 0h3m-1 -9h3m-3 5h3m-1 -13h3m-3 4h3m-2 -10h3m-3 4h3m-3 1h3m-3 0h3m-3 3h3m-3 5h3m-3 0h3m-3 1h3m-2 -14h3m-3 1h3m-3 3h3m-3 4h3m-3 3h3m-2 -19h3m-3 11h3m-3 4h3m-3 0h3m-3 3h3m-3 4h3m-3 0h3m-2 -22h3m-3 5h3m-3 3h3m-3 0h3m-3 0h3m-3 13h3m-3 5h3m-2 -19h3m-3 0h3m-3 3h3m-3 1h3m-3 0h3m-3 9h3m-3 2h3m-2 -19h3m-3 1h3m-3 5h3m-3 3h3m-3 9h3m-2 -13h3m-3 1h3m-3 3h3m-3 2h3m-3 2h3m-2 -13h3m-3 4h3m-3 2h3m-3 2h3m-2 -6h3m-3 1h3m-2 -1h3m-3 11h3m-2 -15h3m-3 1h3m-3 5h3m-3 1h3m-3 2h3m-3 2h3m-3 2h3m-3 3h3m-3 2h3m-2 -19h3m-3 1h3m-3 7h3m-3 1h3m-3 2h3m-2 -20h3m-3 4h3m-3 3h3m-3 1h3m-3 7h3m-3 4h3m-3 1h3m-3 4h3m-3 0h3m-2 -14h3m-3 3h3m-3 1h3m-3 5h3m-3 0h3m-3 2h3m-2 -11h3m-3 4h3m-3 0h3m-2 -2h3m-3 4h3m-3 2h3m-3 3h3m-3 2h3m-3 2h3m-2 -16h3m-3 2h3m-3 1h3m-3 1h3m-3 3h3m-3 3h3m-3 0h3m-2 -17h3m-3 15h3m-3 5h3m-3 1h3m-3 0h3m-2 -25h3m-3 13h3m-3 2h3m-3 1h3m-3 1h3m-3 2h3m-2 -14h3m-3 7h3m-3 2h3m-3 1h3m-3 4h3m-3 0h3m-3 5h3m-2 -21h3m-3 6h3m-3 1h3m-3 0h3m-3 3h3m-3 0h3m-3 2h3m-3 0h3m-3 3h3m-3 2h3m-3 3h3m-2 -10h3m-3 0h3m-3 2h3m-3 5h3m-2 -10h3m-3 1h3m-3 2h3m-3 1h3m-3 4h3m-3 0h3m-3 1h3m-3 1h3m-3 1h3m-2 -4h3m-3 2h3m-3 6h3m-2 -9h3m-3 1h3m-2 -9h3m-3 2h3m-3 1h3m-3 1h3m-3 1h3m-3 3h3m-3 0h3m-3 2h3m-3 1h3m-3 2h3m-3 1h3m-3 2h3m-3 1h3m-2 -14h3m-3 0h3m-3 3h3m-2 -5h3m-3 3h3m-3 4h3m-3 2h3m-3 4h3m-3 2h3m-2 -19h3m-3 5h3m-3 1h3m-3 2h3m-3 0h3m-3 4h3m-3 2h3m-3 1h3m-3 1h3m-2 -18h3m-3 4h3m-3 6h3m-3 0h3m-3 0h3m-3 3h3m-3 1h3m-3 1h3m-3 2h3m-3 1h3m-2 -8h3m-3 1h3m-3 6h3m-2 -13h3m-3 5h3m-3 1h3m-3 1h3m-3 3h3m-3 1h3m-3 4h3m-3 2h3m-3 4h3m-2 -16h3m-3 3h3m-2 -13h3m-3 9h3m-3 0h3m-3 1h3m-3 2h3m-3 2h3m-3 3h3m-2 -17h3m-3 9h3m-3 1h3m-3 1h3m-3 2h3m-3 1h3m-3 2h3m-3 0h3m-3 4h3m-2 -11h3m-3 3h3m-3 5h3m-3 1h3m-3 0h3m-3 4h3m-2 -14h3m-3 2h3m-3 0h3m-3 1h3m-3 0h3m-3 1h3m-3 8h3m-2 -8h3m-3 7h3m-2 -19h3m-3 9h3m-3 1h3m-3 5h3m-3 1h3m-3 3h3m-3 8h3m-2 -19h3m-3 1h3m-3 0h3m-3 2h3m-3 4h3m-3 2h3m-2 -11h3m-3 1h3m-3 0h3m-3 1h3m-3 1h3m-3 2h3m-3 0h3m-3 3h3m-3 3h3m-3 0h3m-3 4h3m-2 -19h3m-3 1h3m-3 5h3m-3 1h3m-3 5h3m-3 3h3m-3 0h3m-3 4h3m-2 -19h3m-3 5h3m-3 1h3m-3 1h3m-3 3h3m-3 1h3m-3 0h3m-3 2h3m-2 1h3m-3 2h3m-2 -17h3m-3 7h3m-3 0h3m-3 5h3m-3 1h3m-3 0h3m-3 2h3m-2 -23h3m-3 14h3m-3 4h3m-3 2h3m-3 2h3m-3 0h3m-3 2h3m-3 4h3m-2 -15h3m-3 4h3m-3 0h3m-3 4h3m-3 1h3m-3 0h3m-3 3h3m-3 2h3m-3 7h3m-2 -18h3m-3 1h3m-3 2h3m-3 0h3m-3 9h3m-3 4h3m-2 -12h3m-3 4h3m-3 4h3m-3 3h3m-3 1h3m-2 -12h3m-3 1h3m-3 3h3m-2 -16h3m-3 2h3m-3 5h3m-3 1h3m-3 1h3m-3 2h3m-3 2h3m-3 1h3m-3 1h3m-3 0h3m-2 -5h3m-3 1h3m-3 3h3m-3 2h3m-3 2h3m-2 -12h3m-3 1h3m-3 0h3m-3 1h3m-3 1h3m-3 7h3m-3 1h3m-2 -11h3m-3 0h3m-3 5h3m-3 12h3m-2 -14h3m-3 5h3m-3 15h3m-2 -25h3m-3 4h3m-3 5h3m-3 2h3m-3 2h3m-3 1h3m-3 2h3m-3 0h3m-2 -15h3m-3 3h3m-3 1h3m-3 11h3m-3 9h3m-2 -26h3m-3 1h3m-3 11h3m-3 1h3m-2 -10h3m-3 3h3m-3 5h3m-3 0h3m-3 1h3m-3 2h3m-3 0h3m-3 4h3m-2 -11h3m-3 1h3m-3 0h3m-3 1h3m-3 7h3m-2 -14h3m-3 3h3m-3 1h3m-3 3h3m-3 3h3m-2 -18h3m-3 12h3m-3 8h3m-2 -9h3m-3 4h3m-3 1h3m-2 -2h3m-3 0h3m-2 -1h3m-3 2h3m-3 3h3m-3 1h3m-3 0h3m-2 -5h3m-3 1h3m-3 2h3m-3 1h3m-3 2h3m-3 4h3m-2 -14h3m-3 2h3m-3 0h3m-3 4h3m-3 1h3m-3 1h3m-3 1h3m-3 4h3m-2 -14h3m-3 7h3m-3 0h3m-3 1h3m-3 5h3m-2 -12h3m-3 7h3m-3 1h3m-2 -9h3m-3 0h3m-3 2h3m-3 2h3m-3 1h3m-3 9h3m-2 -14h3m-3 3h3m-3 5h3m-3 4h3m-2 -4h3m-3 8h3m-3 1h3m-3 2h3m-2 -19h3m-3 4h3m-3 1h3m-3 1h3m-3 0h3m-3 1h3m-3 0h3m-3 0h3m-3 6h3m-2 -12h3m-3 1h3m-3 8h3m-3 6h3m-3 3h3m-2 -19h3m-3 5h3m-3 3h3m-3 3h3m-3 1h3m-2 -19h3m-3 14h3m-3 3h3m-3 2h3m-3 6h3m-2 -10h3m-3 1h3m-3 3h3m-3 7h3m-2 -18h3m-3 5h3m-3 1h3m-3 1h3m-3 1h3m-3 2h3m-3 3h3m-3 4h3m-2 -12h3m-3 2h3m-3 0h3m-2 -12h3m-3 4h3m-3 1h3m-3 10h3m-2 -14h3m-3 10h3m-2 -8h3m-3 2h3m-3 6h3m-3 1h3m-3 1h3m-3 2h3m-3 4h3m-2 -11h3m-3 0h3m-3 4h3m-3 4h3m-3 0h3m-2 -17h3m-3 1h3m-3 3h3m-3 4h3m-3 0h3m-3 1h3m-3 3h3m-3 1h3m-3 0h3m-3 1h3m-3 1h3m-2 -20h3m-3 12h3m-3 6h3m-3 1h3m-3 1h3m-3 2h3m-2 -15h3m-3 5h3m-3 3h3m-3 0h3m-3 0h3m-3 4h3m-3 1h3m-3 1h3m-2 -9h3m-3 3h3m-3 1h3m-3 1h3m-3 2h3m-3 1h3m-3 1h3m-3 1h3m-2 -30h3m-3 16h3m-3 3h3m-3 6h3m-3 1h3m-3 0h3m-3 1h3m-3 1h3m-2 -7h3m-3 1h3m-3 4h3m-2 -8h3m-3 3h3m-3 2h3m-3 1h3m-3 4h3m-3 0h3m-3 1h3m-2 -9h3m-3 1h3m-3 4h3m-3 2h3m-3 4h3m-3 7h3m-3 2h3m-2 -20h3m-3 5h3m-3 1h3m-3 7h3m-2 -16h3m-3 4h3m-3 4h3m-3 1h3m-3 0h3m-3 1h3m-3 4h3m-2 -21h3m-3 7h3m-3 9h3m-3 2h3m-3 2h3m-3 0h3m-2 -8h3m-3 1h3m-3 2h3m-2 -5h3m-3 2h3m-3 2h3m-3 1h3m-3 2h3m-3 5h3m-2 -7h3m-3 1h3m-2 -6h3m-3 3h3m-3 2h3m-3 0h3m-3 1h3m-3 5h3m-3 2h3m-2 -11h3m-3 1h3m-3 3h3m-3 1h3m-3 3h3m-3 5h3m-2 -15h3m-3 1h3m-3 2h3m-3 0h3m-3 3h3m-3 1h3m-3 4h3m-2 -19h3m-3 16h3m-2 -13h3m-3 8h3m-3 1h3m-3 4h3m-3 3h3m-2 -10h3m-3 2h3m-3 1h3m-3 4h3m-3 14h3m-2 -27h3m-3 0h3m-3 6h3m-3 0h3m-3 1h3m-3 1h3m-3 0h3m-3 1h3m-2 -7h3m-3 4h3m-3 2h3m-3 1h3m-3 1h3m-3 2h3m-3 0h3m-3 1h3m-3 2h3m-2 -12h3m-3 3h3m-3 7h3m-3 2h3m-3 4h3m-3 0h3m-3 1h3m-2 -18h3m-3 6h3m-3 2h3m-3 6h3m-3 1h3m-2 -10h3m-3 3h3m-3 1h3m-3 3h3m-2 -8h3m-3 1h3m-3 0h3m-3 2h3m-3 4h3m-3 1h3m-2 -5h3m-3 2h3m-3 5h3m-3 2h3m-3 0h3m-2 -21h3m-3 17h3m-3 1h3m-3 11h3m-2 -24h3m-3 4h3m-3 9h3m-3 5h3m-2 -13h3m-3 1h3m-3 2h3m-3 8h3m-3 8h3m-2 -21h3m-3 1h3m-3 3h3m-3 2h3m-3 1h3m-3 0h3m-2 -10h3m-3 4h3m-3 1h3m-3 1h3m-3 0h3m-3 1h3m-3 2h3m-3 2h3m-3 4h3m-3 2h3m-2 -17h3m-3 6h3m-3 3h3m-3 0h3m-3 1h3m-2 -9h3m-3 3h3m-3 3h3m-3 1h3m-3 1h3m-3 4h3m-3 2h3m-3 2h3m-2 -17h3m-3 5h3m-2 -3h3m-3 1h3m-3 0h3m-3 3h3m-3 6h3m-2 -10h3m-3 0h3m-3 4h3m-3 2h3m-3 2h3m-3 0h3m-3 3h3m-3 8h3m-3 0h3m-2 -23h3m-3 4h3m-3 4h3m-3 0h3m-3 4h3m-3 0h3m-3 2h3m-3 0h3m-2 -17h3m-3 8h3m-3 1h3m-3 1h3m-3 2h3m-2 -7h3m-3 1h3m-3 5h3m-3 1h3m-3 1h3m-3 1h3m-3 3h3m-3 6h3m-2 -17h3m-3 2h3m-3 2h3m-3 4h3m-3 0h3m-3 1h3m-2 -8h3m-3 2h3m-3 4h3m-3 2h3m-3 2h3m-2 -11h3m-3 5h3m-3 6h3m-3 2h3m-2 -11h3m-3 0h3m-3 3h3m-3 3h3m-3 2h3m-3 1h3m-2 -7h3m-3 2h3m-3 2h3m-3 0h3m-3 0h3m-3 0h3m-3 2h3m-3 4h3m-3 0h3m-2 -14h3m-3 4h3m-3 1h3m-3 5h3m-3 0h3m-2 -7h3m-3 2h3m-3 1h3m-3 2h3m-3 4h3m-2 -11h3m-3 5h3m-3 2h3m-3 1h3m-3 7h3m-2 -16h3m-3 6h3m-3 0h3m-3 1h3m-3 0h3m-3 1h3m-3 0h3m-3 3h3m-2 -10h3m-3 1h3m-3 1h3m-3 3h3m-2 -3h3m-3 4h3m-3 3h3m-3 0h3m-3 4h3m-2 -13h3m-3 2h3m-3 3h3m-3 3h3m-3 9h3m-2 -15h3m-3 1h3m-3 5h3m-3 3h3m-2 -11h3m-3 2h3m-3 4h3m-3 2h3m-3 2h3m-3 1h3m-3 3h3m-2 -17h3m-3 10h3m-3 2h3m-3 1h3m-3 2h3m-3 0h3m-2 -3h3m-3 3h3m-3 4h3m-2 -16h3m-3 0h3m-3 4h3m-3 1h3m-3 2h3m-3 2h3m-3 6h3m-2 -13h3m-3 2h3m-3 1h3m-3 0h3m-3 0h3m-3 1h3m-3 0h3m-3 5h3m-2 -18h3m-3 7h3m-3 0h3m-3 5h3m-3 0h3m-3 2h3m-3 4h3m-2 -18h3m-3 5h3m-3 3h3m-3 3h3m-3 2h3m-3 1h3m-3 0h3m-3 4h3m-2 -11h3m-3 1h3m-3 3h3m-3 8h3m-3 2h3m-2 -17h3m-3 5h3m-3 1h3m-3 1h3m-3 1h3m-3 2h3m-3 0h3m-3 3h3m-3 10h3m-2 -18h3m-3 4h3m-3 1h3m-3 4h3m-2 -15h3m-3 12h3m-3 2h3m-3 0h3m-3 1h3m-3 5h3m-2 -17h3m-3 3h3m-3 1h3m-3 1h3m-3 4h3m-3 0h3m-3 2h3m-3 2h3m-3 0h3m-3 2h3m-2 -17h3m-3 2h3m-3 3h3m-3 4h3m-3 0h3m-3 4h3m-3 2h3m-3 3h3m-2 -17h3m-3 6h3m-3 0h3m-3 2h3m-3 1h3m-3 0h3m-3 1h3m-3 0h3m-3 1h3m-3 3h3m-3 1h3m-3 0h3m-3 3h3m-3 3h3m-2 -44h3m-3 21h3m-3 5h3m-3 0h3m-3 2h3m-3 2h3m-3 4h3m-3 1h3m-3 0h3m-3 0h3m-3 5h3m-2 -14h3m-3 2h3m-3 5h3m-3 7h3m-2 -19h3m-3 5h3m-3 5h3m-3 1h3m-3 2h3m-3 0h3m-3 1h3m-2 -12h3m-3 4h3m-3 6h3m-3 1h3m-3 2h3m-3 0h3" stroke="#2424dc" stroke-width="2.6" fill="none"/>
<polyline points="364.1,70.4 364.7,70.4 365.2,70.4 365.7,70.4 366.2,70.4 366.8,70.4 367.3,70.4 367.8,70.4 368.4,70.4 368.9,70.4 369.4,70.4 369.9,70.4 370.4,70.4 371,70.4 371.5,70.4 372,70.4 372.6,70.4 373.1,70.4 373.6,70.4 374.1,70.4 374.6,70.4 375.2,70.4 375.7,70.4 376.2,70.4 376.8,70.4 377.3,70.4 377.8,70.4 378.3,70.4 378.9,70.4 379.4,70.4 379.9,70.4 380.4,70.4 380.9,70.4 381.5,70.4 382,70.4 382.5,70.4 383.1,70.4 383.6,70.4 384.1,70.4 384.6,70.4 385.1,70.4 385.7,70.4 386.2,70.4 386.7,70.4 387.2,70.4 387.8,70.4 388.3,70.4 388.8,70.4 389.4,70.4 389.9,70.4 390.4,70.4 390.9,70.4 391.4,70.4 392,70.4 392.5,70.4 393,70.4 393.6,70.4 394.1,70.4 394.6,70.4 395.1,70.4 395.6,70.4 396.2,70.4 396.7,70.4 397.2,70.4 397.8,70.4 398.3,70.4 398.8,70.4 399.3,70.4 399.9,70.4 400.4,70.4 400.9,70.4 401.4,70.4 401.9,70.4 402.5,70.4 403,70.4 403.5,70.4 404.1,70.4 404.6,70.4 405.1,70.4 405.6,70.4 406.1,70.4 406.7,70.4 407.2,70.4 407.7,70.4 408.2,70.4 408.8,70.4 409.3,70.4 409.8,70.4 410.4,70.4 410.9,70.4 411.4,70.4 411.9,70.4 412.4,70.4 413,70.4 413.5,70.4 414,70.4 414.6,70.4 415.1,70.4 415.6,70.4 416.1,70.4 416.6,70.4 417.2,70.4 417.7,70.4 418.2,70.4 418.8,70.4 419.3,70.4 419.8,70.4 420.3,70.4 420.9,70.4 421.4,70.4 421.9,70.4 422.4,70.4 422.9,70.5 423.5,70.5 424,70.5 424.5,70.5 425.1,70.5 425.6,70.5 426.1,70.5 426.6,70.5 427.1,70.5 427.7,70.5 428.2,70.6 428.7,70.6 429.2,70.6 429.8,70.6 430.3,70.7 430.8,70.7 431.4,70.8 431.9,70.8 432.4,70.9 432.9,71 433.4,71.1 434,71.2 434.5,71.3 435,71.4 435.6,71.6 436.1,71.8 436.6,72 437.1,72.2 437.6,72.5 438.2,72.9 438.7,73.3 439.2,73.8 439.8,74.3 440.3,74.9 440.8,75.7 441.3,76.5 441.9,77.5 442.4,78.7 442.9,80.1 443.4,81.6 443.9,83.5 444.5,85.6 445,88.1 445.5,85.6 446.1,83.5 446.6,81.6 447.1,80.1 447.6,78.7 448.1,77.5 448.7,76.5 449.2,75.7 449.7,74.9 450.2,74.3 450.8,73.8 451.3,73.3 451.8,72.9 452.4,72.5 452.9,72.2 453.4,72 453.9,71.8 454.4,71.6 455,71.4 455.5,71.3 456,71.2 456.6,71.1 457.1,71 457.6,70.9 458.1,70.8 458.6,70.8 459.2,70.7 459.7,70.7 460.2,70.6 460.8,70.6 461.3,70.6 461.8,70.6 462.3,70.5 462.9,70.5 463.4,70.5 463.9,70.5 464.4,70.5 464.9,70.5 465.5,70.5 466,70.5 466.5,70.5 467.1,70.5 467.6,70.4 468.1,70.4 468.6,70.4 469.1,70.4 469.7,70.4 470.2,70.4 470.7,70.4 471.2,70.4 471.8,70.4 472.3,70.4 472.8,70.4 473.4,70.4 473.9,70.4 474.4,70.4 474.9,70.4 475.4,70.4 476,70.4 476.5,70.4 477,70.4 477.6,70.4 478.1,70.4 478.6,70.4 479.1,70.4 479.6,70.4 480.2,70.4 480.7,70.4 481.2,70.4 481.8,70.4 482.3,70.4 482.8,70.4 483.3,70.4 483.9,70.4 484.4,70.4 484.9,70.4 485.4,70.4 485.9,70.4 486.5,70.4 487,70.4 487.5,70.4 488.1,70.4 488.6,70.4 489.1,70.4 489.6,70.4 490.1,70.4 490.7,70.4 491.2,70.4 491.7,70.4 492.2,70.4 492.8,70.4 493.3,70.4 493.8,70.4 494.4,70.4 494.9,70.4 495.4,70.4 495.9,70.4 496.4,70.4 497,70.4 497.5,70.4 498,70.4 498.6,70.4 499.1,70.4 499.6,70.4 500.1,70.4 500.6,70.4 501.2,70.4 501.7,70.4 502.2,70.4 502.8,70.4 503.3,70.4 503.8,70.4 504.3,70.4 504.9,70.4 505.4,70.4 505.9,70.4 506.4,70.4 506.9,70.4 507.5,70.4 508,70.4 508.5,70.4 509.1,70.4 509.6,70.4 510.1,70.4 510.6,70.4 511.1,70.4 511.7,70.4 512.2,70.4 512.7,70.4 513.2,70.4 513.8,70.4 514.3,70.4 514.8,70.4 515.4,70.4 515.9,70.4 516.4,70.4 516.9,70.4 517.5,70.4 518,70.4 518.5,70.4 519,70.4 519.5,70.4 520.1,70.4 520.6,70.4 521.1,70.4 521.6,70.4 522.2,70.4 522.7,70.4 523.2,70.4 523.8,70.4 524.3,70.4 524.8,70.4 525.3,70.4 525.9,70.4" fill="none" stroke="#84e898" stroke-width="1.05"/>
<path transform="scale(0.5)" d="M728 92h3m-2 -15h3m-3 2h3m-3 6h3m-3 1h3m-3 6h3m-2 -11h3m-3 5h3m-2 -1h3m-3 1h3m-3 5h3m-3 0h3m-3 2h3m-3 9h3m-2 -16h3m-3 1h3m-3 1h3m-3 1h3m-3 1h3m-3 1h3m-3 0h3m-3 6h3m-2 -13h3m-3 3h3m-3 9h3m-3 2h3m-3 0h3m-2 -8h3m-3 2h3m-3 3h3m-3 2h3m-1 -17h3m-3 3h3m-3 0h3m-3 7h3m-3 1h3m-3 3h3m-3 2h3m-3 0h3m-3 2h3m-3 0h3m-2 -20h3m-3 9h3m-3 0h3m-3 1h3m-3 4h3m-3 5h3m-3 1h3m-2 -17h3m-3 5h3m-3 6h3m-3 2h3m-3 2h3m-2 -8h3m-3 2h3m-3 2h3m-3 3h3m-3 11h3m-2 -21h3m-3 5h3m-3 1h3m-3 3h3m-2 -16h3m-3 3h3m-3 8h3m-3 3h3m-3 1h3m-3 1h3m-3 3h3m-2 -19h3m-3 6h3m-3 1h3m-3 3h3m-3 0h3m-2 -10h3m-3 4h3m-3 1h3m-3 2h3m-3 3h3m-3 3h3m-3 1h3m-2 -10h3m-3 9h3m-3 4h3m-3 3h3m-3 1h3m-2 -6h3m-3 1h3m-3 3h3m-2 -3h3m-3 3h3m-3 1h3m-2 -12h3m-3 4h3m-3 0h3m-3 1h3m-3 2h3m-3 12h3m-2 -23h3m-3 7h3m-3 0h3m-3 1h3m-3 3h3m-2 -10h3m-3 2h3m-3 2h3m-3 4h3m-3 0h3m-2 -5h3m-3 3h3m-3 6h3m-3 7h3m-2 -20h3m-3 15h3m-2 -12h3m-3 1h3m-3 4h3m-3 5h3m-3 0h3m-3 1h3m-3 1h3m-3 1h3m-2 -10h3m-3 8h3m-3 3h3m-3 0h3m-2 -13h3m-3 1h3m-3 2h3m-3 3h3m-3 1h3m-3 0h3m-3 1h3m-3 0h3m-2 -12h3m-3 8h3m-3 1h3m-3 1h3m-3 4h3m-3 0h3m-2 -12h3m-3 3h3m-3 7h3m-3 5h3m-2 -26h3m-3 19h3m-3 1h3m-3 1h3m-3 2h3m-2 -13h3m-3 0h3m-3 2h3m-3 4h3m-3 1h3m-3 0h3m-3 1h3m-3 3h3m-2 -11h3m-3 12h3m-3 1h3m-3 2h3m-3 0h3m-3 7h3m-2 -20h3m-3 5h3m-3 7h3m-3 1h3m-2 -22h3m-3 4h3m-3 1h3m-3 3h3m-3 0h3m-3 2h3m-3 9h3m-3 2h3m-2 -6h3m-3 10h3m-3 1h3m-2 -19h3m-3 1h3m-3 1h3m-3 7h3m-3 3h3m-3 0h3m-3 1h3m-3 3h3m-2 -14h3m-3 1h3m-3 5h3m-3 1h3m-3 5h3m-2 -9h3m-3 1h3m-3 1h3m-3 1h3m-3 6h3m-3 2h3m-3 0h3m-2 -19h3m-3 3h3m-3 3h3m-3 0h3m-3 1h3m-3 10h3m-3 3h3m-2 -21h3m-3 18h3m-3 3h3m-2 -18h3m-3 3h3m-3 1h3m-3 3h3m-3 4h3m-3 3h3m-3 2h3m-3 0h3m-2 -7h3m-3 7h3m-3 2h3m-2 -17h3m-3 2h3m-2 1h3m-3 3h3m-3 1h3m-3 1h3m-3 1h3m-2 -9h3m-3 2h3m-3 13h3m-3 0h3m-3 3h3m-2 -23h3m-3 10h3m-3 2h3m-3 2h3m-3 1h3m-3 3h3m-3 0h3m-3 1h3m-2 -13h3m-3 0h3m-3 3h3m-3 6h3m-3 5h3m-3 1h3m-2 -20h3m-3 2h3m-3 7h3m-3 3h3m-3 6h3m-3 4h3m-2 -17h3m-3 0h3m-3 3h3m-3 4h3m-3 4h3m-2 -8h3m-2 0h3m-3 4h3m-3 2h3m-3 2h3m-2 -13h3m-3 6h3m-3 0h3m-3 0h3m-3 2h3m-3 7h3m-3 2h3m-2 -24h3m-3 8h3m-3 1h3m-2 -5h3m-3 6h3m-3 3h3m-3 3h3m-3 3h3m-3 3h3m-3 3h3m-2 -15h3m-3 10h3m-2 -10h3m-3 7h3m-3 1h3m-3 0h3m-3 5h3m-2 -17h3m-3 2h3m-3 8h3m-3 2h3m-2 -13h3m-3 7h3m-3 3h3m-3 1h3m-3 1h3m-3 0h3m-3 2h3m-3 1h3m-3 1h3m-3 0h3m-2 -10h3m-3 4h3m-3 3h3m-3 0h3m-3 4h3m-3 1h3m-3 0h3m-3 7h3m-2 -19h3m-3 1h3m-3 2h3m-3 0h3m-3 1h3m-3 3h3m-3 0h3m-3 1h3m-2 -1h3m-2 -10h3m-3 4h3m-3 3h3m-3 1h3m-3 4h3m-3 3h3m-2 -22h3m-3 10h3m-3 1h3m-3 1h3m-3 10h3m-2 -18h3m-3 13h3m-3 2h3m-3 0h3m-3 4h3m-3 1h3m-2 -20h3m-3 6h3m-3 1h3m-3 6h3m-3 3h3m-3 0h3m-3 5h3m-3 3h3m-2 -26h3m-3 7h3m-3 2h3m-3 2h3m-3 1h3m-3 2h3m-2 -6h3m-3 1h3m-3 1h3m-3 9h3m-3 2h3m-3 3h3m-2 -26h3m-3 3h3m-3 4h3m-3 5h3m-3 0h3m-3 3h3m-3 2h3m-3 5h3m-2 -21h3m-3 4h3m-3 2h3m-3 2h3m-3 0h3m-3 2h3m-3 3h3m-3 5h3m-3 3h3m-2 -13h3m-3 6h3m-3 4h3m-3 2h3m-2 -18h3m-3 6h3m-3 3h3m-3 1h3m-2 -2h3m-3 1h3m-3 4h3m-3 0h3m-3 3h3m-3 3h3m-3 3h3m-3 2h3m-2 -29h3m-3 12h3m-3 0h3m-3 4h3m-3 2h3m-2 -11h3m-3 9h3m-3 1h3m-3 0h3m-3 2h3m-3 3h3m-3 0h3m-3 0h3m-2 -8h3m-2 0h3m-3 3h3m-3 0h3m-3 1h3m-3 5h3m-3 1h3m-3 1h3m-2 -18h3m-3 4h3m-3 10h3m-2 -13h3m-3 4h3m-3 1h3m-3 9h3m-3 9h3m-2 -22h3m-3 2h3m-3 6h3m-3 2h3m-3 4h3m-3 1h3m-3 4h3m-2 -23h3m-3 5h3m-3 1h3m-3 14h3m-2 -8h3m-3 2h3m-3 3h3m-3 0h3m-2 -13h3m-3 5h3m-3 2h3m-3 0h3m-3 3h3m-3 4h3m-3 0h3m-3 5h3m-3 0h3m-2 -11h3m-3 2h3m-3 0h3m-3 2h3m-3 1h3m-2 -12h3m-3 1h3m-3 2h3m-3 1h3m-3 1h3m-3 1h3m-3 0h3m-3 6h3m-3 2h3m-2 -11h3m-3 1h3m-3 1h3m-3 1h3m-3 9h3m-3 1h3m-2 -14h3m-3 0h3m-3 0h3m-3 1h3m-3 1h3m-3 11h3m-2 -13h3m-3 0h3m-3 1h3m-3 3h3m-3 8h3m-2 -12h3m-3 1h3m-3 0h3m-3 2h3m-3 8h3m-3 2h3m-2 -14h3m-3 2h3m-3 7h3m-3 3h3m-3 1h3m-3 2h3m-2 -24h3m-3 7h3m-3 0h3m-3 11h3m-2 -10h3m-3 6h3m-3 2h3m-3 3h3m-3 4h3m-2 -24h3m-3 2h3m-3 11h3m-3 1h3m-3 4h3m-3 3h3m-3 2h3m-3 0h3m-2 -14h3m-3 7h3m-3 9h3m-2 -27h3m-3 9h3m-3 2h3m-3 1h3m-3 3h3m-3 7h3m-3 1h3m-3 3h3m-2 -19h3m-3 5h3m-3 0h3m-3 4h3m-3 6h3m-3 2h3m-3 2h3m-2 -15h3m-3 8h3m-3 4h3m-3 2h3m-2 -11h3m-3 1h3m-3 2h3m-3 5h3m-2 -6h3m-2 -6h3m-3 1h3m-3 8h3m-3 1h3m-2 -8h3m-3 6h3m-3 2h3m-3 5h3m-2 -19h3m-3 11h3m-2 -3h3m-3 1h3m-3 5h3m-3 2h3m-3 1h3m-2 -15h3m-3 6h3m-3 1h3m-3 1h3m-3 2h3m-3 0h3m-3 0h3m-3 2h3m-3 0h3m-3 3h3m-2 -10h3m-3 3h3m-3 1h3m-3 1h3m-3 6h3m-3 6h3m-2 -8h3m-3 2h3m-3 1h3m-2 -24h3m-3 13h3m-3 1h3m-3 0h3m-3 4h3m-3 2h3m-3 2h3m-3 3h3m-2 -8h3m-3 1h3m-3 1h3m-3 3h3m-2 -16h3m-3 4h3m-3 5h3m-3 3h3m-3 0h3m-3 8h3m-3 2h3m-2 -22h3m-3 4h3m-3 11h3m-3 10h3m-2 -21h3m-3 7h3m-3 5h3m-3 3h3m-3 0h3m-2 -20h3m-3 6h3m-3 6h3m-1 -11h3m-3 5h3m-3 3h3m-3 4h3m-2 -6h3m-3 4h3m-3 0h3m-3 1h3m-3 0h3m-3 5h3m-2 -20h3m-3 4h3m-3 8h3m-3 0h3m-3 0h3m-3 4h3m-3 5h3m-2 -19h3m-3 5h3m-3 2h3m-3 1h3m-3 6h3m-3 4h3m-3 8h3m-2 -20h3m-3 2h3m-3 4h3m-3 0h3m-3 0h3m-3 2h3m-3 1h3m-3 0h3m-3 1h3m-3 0h3m-3 6h3m-2 -10h3m-3 1h3m-3 1h3m-3 4h3m-3 0h3m-3 7h3m-2 -25h3m-3 3h3m-3 7h3m-3 1h3m-3 2h3m-3 0h3m-3 8h3m-3 5h3m-2 -28h3m-3 4h3m-3 6h3m-3 0h3m-3 3h3m-3 4h3m-3 2h3m-2 -12h3m-3 5h3m-3 6h3m-3 4h3m-3 2h3m-2 -17h3m-3 7h3m-3 0h3m-3 3h3m-2 -11h3m-3 3h3m-3 1h3m-3 1h3m-3 4h3m-3 1h3m-3 5h3m-3 3h3m-2 -13h3m-3 0h3m-3 4h3m-3 1h3m-3 3h3m-3 0h3m-3 2h3m-3 2h3m-2 -22h3m-3 5h3m-3 9h3m-3 2h3m-3 1h3m-3 6h3m-3 1h3m-2 -4h3m-2 -11h3m-3 1h3m-3 13h3m-2 -16h3m-3 4h3m-3 2h3m-3 1h3m-3 8h3m-2 -14h3m-3 1h3m-3 2h3m-3 1h3m-3 2h3m-3 9h3m-2 -18h3m-3 11h3m-2 -14h3m-3 10h3m-3 0h3m-3 1h3m-3 1h3m-3 1h3m-3 4h3m-2 -7h3m-2 -11h3m-3 3h3m-3 5h3m-3 4h3m-3 0h3m-3 1h3m-3 1h3m-3 1h3m-3 3h3m-3 2h3m-2 -20h3m-3 4h3m-3 1h3m-3 3h3m-3 3h3m-3 3h3m-3 5h3m-3 4h3m-3 1h3m-2 -17h3m-3 4h3m-3 7h3m-3 4h3m-3 3h3m-2 -1h3m-2 -22h3m-3 1h3m-3 8h3m-2 -4h3m-3 9h3m-2 -17h3m-3 5h3m-3 2h3m-3 8h3m-3 1h3m-1 0h3m-3 1h3m-3 2h3m-3 0h3m-3 5h3m-2 -19h3m-3 1h3m-3 2h3m-3 2h3m-3 3h3m-3 2h3m-3 0h3m-3 1h3m-3 1h3m-3 3h3m-2 -11h3m-3 3h3m-3 0h3m-3 0h3m-3 1h3m-3 1h3m-3 0h3m-3 0h3m-3 0h3m-3 4h3m-3 3h3m-3 2h3m-2 -14h3m-3 6h3m-3 2h3m-3 0h3m-3 2h3m-3 4h3m-2 -24h3m-3 7h3m-3 4h3m-3 4h3m-3 1h3m-3 0h3m-3 4h3m-3 7h3m-2 -14h3m-3 1h3m-3 3h3m-3 3h3m-3 1h3m-3 10h3m-2 -27h3m-3 7h3m-3 2h3m-3 3h3m-3 1h3m-3 4h3m-2 -18h3m-3 11h3m-3 0h3m-3 2h3m-3 1h3m-3 2h3m-3 1h3m-3 0h3m-3 4h3m-2 -11h3m-3 6h3m-3 1h3m-3 3h3m-3 10h3m-2 -13h3m-3 1h3m-3 3h3m-3 4h3m-3 0h3m-2 -16h3m-3 8h3m-3 3h3m-3 5h3m-3 9h3m-2 -27h3m-3 3h3m-3 3h3m-3 1h3m-3 3h3m-3 0h3m-3 5h3m-3 5h3m-2 -19h3m-3 4h3m-3 4h3m-3 3h3m-3 4h3m-3 3h3m-2 -5h3m-3 1h3m-3 0h3m-3 1h3m-3 0h3m-3 0h3m-3 1h3m-3 1h3m-3 0h3m-2 -11h3m-3 2h3m-3 1h3m-3 2h3m-3 2h3m-3 7h3m-3 2h3m-2 -7h3m-3 4h3m-3 1h3m-2 2h3m-3 1h3m-2 -8h3m-3 3h3m-2 19h3m-2 -11h3m-3 5h3m-2 -7h3m-3 12h3m-3 5h3m-2 -10h3m-3 6h3m-2 5h3m-3 1h3m-3 1h3m-2 0h3m-2 -14h3m-3 2h3m-1 -13h3m-3 19h3m-3 0h3m-2 -24h3m-3 2h3m-3 9h3m-2 -1h3m-2 -10h3m-3 3h3m-3 0h3m-3 6h3m-2 -20h3m-3 10h3m-3 10h3m-2 -13h3m-3 0h3m-3 2h3m-3 1h3m-3 0h3m-3 1h3m-3 1h3m-3 0h3m-3 1h3m-2 -13h3m-3 1h3m-3 15h3m-2 -13h3m-3 6h3m-3 3h3m-3 3h3m-3 8h3m-2 -16h3m-3 2h3m-3 2h3m-3 6h3m-2 -22h3m-3 7h3m-3 2h3m-3 0h3m-3 4h3m-3 0h3m-3 0h3m-3 8h3m-2 -22h3m-3 13h3m-2 -6h3m-3 10h3m-3 1h3m-2 -9h3m-3 1h3m-3 7h3m-3 0h3m-2 -17h3m-3 6h3m-3 2h3m-3 5h3m-3 7h3m-2 -22h3m-3 7h3m-3 2h3m-3 3h3m-2 -10h3m-3 1h3m-3 6h3m-3 3h3m-3 1h3m-3 2h3m-2 -8h3m-3 4h3m-3 1h3m-2 -4h3m-3 0h3m-3 4h3m-3 3h3m-2 -20h3m-3 15h3m-3 9h3m-3 3h3m-2 -13h3m-3 0h3m-3 3h3m-3 4h3m-2 -13h3m-3 1h3m-3 3h3m-3 0h3m-3 5h3m-2 -3h3m-3 2h3m-3 2h3m-2 -13h3m-2 3h3m-3 5h3m-3 7h3m-2 -17h3m-3 15h3m-3 11h3m-2 -30h3m-3 11h3m-3 4h3m-3 0h3m-3 1h3m-3 1h3m-3 3h3m-3 1h3m-2 -17h3m-3 3h3m-3 2h3m-3 4h3m-3 9h3m-2 -16h3m-3 2h3m-3 7h3m-3 1h3m-3 4h3m-3 3h3m-2 -15h3m-3 2h3m-3 1h3m-3 2h3m-3 2h3m-3 1h3m-3 0h3m-3 2h3m-3 1h3m-3 4h3m-3 1h3m-2 -18h3m-3 3h3m-3 0h3m-3 2h3m-3 2h3m-3 1h3m-3 0h3m-3 4h3m-3 7h3m-2 -15h3m-3 4h3m-3 1h3m-3 0h3m-3 0h3m-3 5h3m-3 4h3m-2 -17h3m-3 9h3m-2 -12h3m-3 1h3m-3 5h3m-3 5h3m-3 12h3m-3 4h3m-2 -23h3m-3 0h3m-3 3h3m-3 8h3m-3 2h3m-3 0h3m-2 -15h3m-3 2h3m-3 3h3m-3 5h3m-3 1h3m-3 1h3m-3 11h3m-3 1h3m-2 -17h3m-3 3h3m-3 2h3m-3 1h3m-3 1h3m-2 -6h3m-3 10h3m-2 -14h3m-3 1h3m-3 5h3m-3 3h3m-2 -10h3m-3 1h3m-3 1h3m-3 1h3m-3 0h3m-3 3h3m-3 4h3m-3 2h3m-2 -15h3m-3 1h3m-3 7h3m-3 3h3m-2 -8h3m-3 3h3m-3 0h3m-3 7h3m-3 4h3m-2 -12h3m-3 0h3m-3 2h3m-3 3h3m-3 1h3m-3 1h3m-3 5h3m-2 -19h3m-3 8h3m-3 2h3m-3 1h3m-3 5h3m-2 -12h3m-3 2h3m-3 2h3m-3 1h3m-3 0h3m-3 2h3m-3 3h3m-2 -10h3m-3 4h3m-3 3h3m-3 3h3m-3 1h3m-2 -7h3m-3 2h3m-3 1h3m-3 12h3m-3 3h3m-2 -24h3m-3 3h3m-3 2h3m-3 3h3m-3 4h3m-3 1h3m-3 3h3m-2 1h3m-3 1h3m-3 2h3m-2 -17h3m-3 4h3m-3 1h3m-3 7h3m-2 -18h3m-3 13h3m-3 3h3m-3 3h3m-2 -10h3m-3 2h3m-3 2h3m-3 0h3m-3 3h3m-2 -3h3m-3 3h3m-3 2h3m-2 -14h3m-3 1h3m-3 2h3m-3 8h3m-2 -4h3m-3 1h3m-3 4h3m-2 -31h3m-3 25h3m-3 0h3m-3 0h3m-3 1h3m-3 0h3m-3 7h3m-3 4h3m-3 0h3m-2 -18h3m-3 4h3m-3 0h3m-3 2h3m-3 4h3m-3 3h3m-3 1h3m-3 1h3m-2 -21h3m-3 4h3m-3 1h3m-3 6h3m-3 3h3m-3 4h3m-2 -12h3m-3 9h3m-3 2h3m-3 0h3m-2 -6h3m-3 10h3m-2 -10h3m-3 1h3m-3 2h3m-3 1h3m-3 0h3m-3 1h3m-3 2h3m-2 -7h3m-3 3h3m-3 1h3m-3 2h3m-3 3h3m-3 5h3m-2 -24h3m-3 5h3m-3 1h3m-3 13h3m-2 -6h3m-3 1h3m-3 1h3m-2 -9h3m-3 8h3m-3 3h3m-2 -11h3m-3 1h3m-3 4h3m-3 0h3m-3 2h3m-3 0h3m-3 3h3m-3 2h3m-2 -11h3m-3 0h3m-3 0h3m-3 4h3m-2 -10h3m-3 4h3m-3 1h3m-3 6h3m-3 2h3m-3 7h3m-2 -19h3m-3 7h3m-3 5h3m-3 1h3m-3 9h3m-2 -15h3m-3 3h3m-3 0h3m-3 4h3m-3 1h3m-2 -24h3m-3 7h3m-3 0h3m-3 3h3m-3 11h3m-3 1h3m-3 4h3m-2 -9h3m-3 7h3m-3 6h3m-2 -19h3m-3 8h3m-3 7h3m-2 -16h3m-3 5h3m-3 2h3m-3 4h3m-3 11h3m-3 2h3m-2 -30h3m-3 14h3m-3 1h3m-3 2h3m-3 5h3m-2 -14h3m-3 3h3m-3 8h3m-3 1h3m-3 4h3m-2 -14h3m-3 7h3m-3 2h3m-3 1h3m-3 6h3m-2 -21h3m-3 6h3m-3 4h3m-3 1h3m-3 3h3m-3 1h3m-3 1h3m-2 -11h3m-3 12h3m-3 0h3m-2 -13h3m-3 4h3m-3 11h3m-2 -8h3m-3 0h3m-3 8h3m-3 4h3m-2 -16h3m-3 0h3m-3 3h3m-3 3h3m-3 1h3m-3 6h3m-2 -11h3m-3 4h3m-3 2h3m-2 -7h3m-3 4h3m-3 1h3m-3 4h3m-2 -20h3m-3 3h3m-3 1h3m-3 4h3m-3 1h3m-3 3h3m-3 1h3m-3 2h3m-3 2h3m-3 1h3m-3 0h3m-3 6h3m-2 -19h3m-3 3h3m-3 1h3m-3 9h3m-3 3h3m-2 -15h3m-3 7h3m-3 2h3m-3 1h3m-3 1h3m-3 3h3m-3 4h3m-2 -23h3m-3 15h3m-2 -7h3m-3 1h3m-3 2h3m-3 6h3m-2 -15h3m-3 11h3m-2 -7h3m-3 3h3m-3 2h3m-3 5h3m-3 0h3m-3 0h3m-3 1h3m-2 1h3m-3 0h3m-2 -13h3m-3 5h3m-3 5h3m-3 2h3m-3 1h3m-3 3h3m-2 -13h3m-3 3h3m-3 3h3m-3 3h3m-3 7h3m-2 -23h3m-3 8h3m-3 8h3m-3 4h3m-2 -17h3m-3 3h3m-3 3h3m-3 2h3m-3 2h3m-3 10h3m-2 -18h3m-3 3h3m-3 2h3m-3 2h3m-3 1h3m-3 9h3m-2 -19h3m-3 8h3m-3 2h3m-3 7h3m-3 1h3m-2 -15h3m-3 9h3m-3 0h3m-3 4h3m-2 -12h3m-3 4h3m-3 3h3m-3 0h3m-3 6h3m-2 -17h3m-3 2h3m-3 3h3m-3 4h3m-3 2h3m-3 2h3m-3 3h3m-3 3h3m-2 -17h3m-3 1h3m-3 2h3m-3 8h3m-3 1h3m-3 0h3m-2 -10h3m-3 2h3m-3 3h3m-3 6h3m-3 7h3m-2 -19h3m-3 3h3m-3 5h3m-3 0h3m-3 1h3m-2 -11h3m-3 4h3m-3 5h3m-3 3h3m-3 3h3m-3 1h3m-2 -19h3m-3 7h3m-3 3h3m-3 1h3m-3 1h3m-3 3h3m-3 0h3m-3 2h3m-2 -6h3m-3 0h3m-3 1h3m-2 -3h3m-3 9h3m-3 0h3m-3 3h3m-2 -15h3m-3 3h3m-3 0h3m-3 3h3m-3 0h3m-3 3h3m-3 1h3m-2 -11h3m-3 5h3m-3 1h3m-3 3h3m-3 1h3m-3 1h3m-3 0h3m-3 1h3m-2 -24h3m-3 9h3m-3 9h3m-3 4h3m-3 1h3m-3 1h3m-2 -13h3m-3 0h3m-3 4h3m-3 4h3m-3 6h3m-3 10h3m-2 -25h3m-3 5h3m-3 3h3m-3 3h3m-3 1h3m-3 2h3m-3 5h3m-2 -19h3m-3 7h3m-3 1h3m-3 1h3m-3 2h3m-3 5h3m-2 -11h3m-3 4h3m-2 5h3m-3 1h3m-3 0h3m-3 5h3m-2 -17h3m-3 11h3m-3 4h3m-2 -15h3m-3 3h3m-3 3h3m-3 0h3m-3 1h3m-3 2h3m-3 1h3m-2 -17h3m-3 2h3m-3 5h3m-2 -2h3m-3 6h3m-3 0h3m-3 2h3m-3 2h3m-2 -5h3m-3 6h3m-2 -9h3m-3 2h3m-3 1h3m-3 1h3m-3 2h3m-3 1h3m-3 2h3m-3 2h3m-3 5h3m-2 -21h3m-3 4h3m-3 4h3m-3 3h3m-3 4h3m-2 -3h3m-3 1h3m-3 8h3m-2 -24h3m-3 9h3m-3 5h3m-3 0h3m-3 7h3m-2 -20h3m-3 3h3m-3 4h3m-3 7h3m-3 0h3m-3 1h3m-2 -7h3m-3 3h3m-3 2h3m-3 2h3m-3 1h3m-2 -18h3m-3 5h3m-3 4h3m-2 0h3m-3 7h3m-3 0h3m-3 5h3m-2 -13h3m-3 0h3m-3 11h3m-2 -13h3m-3 0h3m-3 3h3m-3 1h3m-3 1h3m-2 -6h3m-3 0h3m-3 2h3m-3 5h3m-3 4h3m-3 2h3m-3 2h3m-2 -18h3m-3 10h3m-3 6h3m-3 1h3m-3 0h3m-2 -28h3m-3 15h3m-3 3h3m-3 0h3m-3 3h3m-3 1h3m-3 1h3m-2 -5h3m-3 5h3m-3 7h3m-2 -18h3m-3 1h3m-3 3h3m-3 5h3m-3 3h3m-3 2h3m-3 4h3m-3 5h3m-2 -18h3m-3 1h3m-3 0h3m-3 2h3m-3 2h3m-2 -5h3m-3 1h3m-3 6h3m-3 1h3m-3 2h3m-2 -4h3m-3 1h3m-3 2h3m-2 -4h3m-3 0h3m-3 3h3m-3 0h3m-2 -4h3m-3 1h3m-3 3h3m-3 7h3m-3 1h3m-2 -10h3m-3 0h3m-3 1h3m-3 1h3m-2 -17h3m-3 4h3m-3 12h3m-3 2h3m-3 13h3m-2 -27h3m-3 18h3m-3 1h3m-2 -13h3m-3 2h3m-3 3h3m-3 1h3m-3 3h3m-3 3h3m-3 0h3m-2 -5h3m-3 3h3m-3 0h3m-3 2h3m-2 -13h3m-3 7h3m-3 1h3m-3 1h3m-2 -6h3m-3 0h3m-3 8h3m-3 0h3m-2 -10h3m-3 5h3m-2 -7h3m-3 3h3m-3 3h3m-3 4h3m-2 -9h3m-3 1h3m-3 1h3m-3 0h3m-3 5h3m-3 2h3m-3 3h3m-3 2h3m-2 -13h3m-3 0h3m-3 15h3m-2 -19h3m-3 3h3m-3 4h3m-3 0h3m-3 15h3m-2 -22h3m-3 3h3m-3 1h3m-3 1h3m-3 4h3m-2 -8h3m-3 7h3m-3 0h3m-3 0h3m-3 2h3m-3 2h3m-3 3h3m-3 1h3m-3 1h3m-2 -8h3m-3 1h3m-3 0h3m-3 0h3m-3 9h3m-3 2h3m-2 -19h3m-3 5h3m-3 2h3m-3 10h3m-2 -11h3m-3 1h3m-3 7h3m-2 -17h3m-3 6h3m-3 3h3m-3 8h3m-2 -16h3" stroke="#4c4ce2" stroke-width="2.6" fill="none"/>
<polyline points="364.1,45.3 364.7,45.3 365.2,45.3 365.7,45.3 366.2,45.3 366.8,45.3 367.3,45.3 367.8,45.3 368.4,45.3 368.9,45.3 369.4,45.3 369.9,45.3 370.4,45.3 371,45.3 371.5,45.3 372,45.3 372.6,45.3 373.1,45.3 373.6,45.3 374.1,45.3 374.6,45.3 375.2,45.3 375.7,45.3 376.2,45.3 376.8,45.3 377.3,45.3 377.8,45.3 378.3,45.3 378.9,45.3 379.4,45.3 379.9,45.3 380.4,45.3 380.9,45.3 381.5,45.3 382,45.3 382.5,45.3 383.1,45.3 383.6,45.3 384.1,45.3 384.6,45.3 385.1,45.3 385.7,45.3 386.2,45.3 386.7,45.3 387.2,45.3 387.8,45.3 388.3,45.3 388.8,45.3 389.4,45.3 389.9,45.3 390.4,45.3 390.9,45.3 391.4,45.3 392,45.3 392.5,45.3 393,45.3 393.6,45.3 394.1,45.3 394.6,45.3 395.1,45.3 395.6,45.3 396.2,45.3 396.7,45.3 397.2,45.3 397.8,45.3 398.3,45.3 398.8,45.3 399.3,45.3 399.9,45.3 400.4,45.3 400.9,45.3 401.4,45.3 401.9,45.3 402.5,45.3 403,45.3 403.5,45.3 404.1,45.3 404.6,45.3 405.1,45.3 405.6,45.3 406.1,45.3 406.7,45.3 407.2,45.3 407.7,45.3 408.2,45.3 408.8,45.3 409.3,45.3 409.8,45.3 410.4,45.3 410.9,45.3 411.4,45.3 411.9,45.3 412.4,45.3 413,45.3 413.5,45.3 414,45.3 414.6,45.3 415.1,45.3 415.6,45.3 416.1,45.3 416.6,45.3 417.2,45.3 417.7,45.3 418.2,45.3 418.8,45.3 419.3,45.3 419.8,45.3 420.3,45.3 420.9,45.3 421.4,45.3 421.9,45.4 422.4,45.4 422.9,45.4 423.5,45.4 424,45.4 424.5,45.4 425.1,45.4 425.6,45.4 426.1,45.4 426.6,45.4 427.1,45.4 427.7,45.5 428.2,45.5 428.7,45.5 429.2,45.5 429.8,45.6 430.3,45.6 430.8,45.6 431.4,45.7 431.9,45.7 432.4,45.8 432.9,45.9 433.4,46 434,46.1 434.5,46.2 435,46.4 435.6,46.5 436.1,46.7 436.6,47 437.1,47.2 437.6,47.6 438.2,47.9 438.7,48.4 439.2,48.8 439.8,49.4 440.3,50.1 440.8,50.9 441.3,51.8 441.9,52.8 442.4,54.1 442.9,55.5 443.4,57.2 443.9,59.1 444.5,61.3 445,64 445.5,61.3 446.1,59.1 446.6,57.2 447.1,55.5 447.6,54.1 448.1,52.8 448.7,51.8 449.2,50.9 449.7,50.1 450.2,49.4 450.8,48.8 451.3,48.4 451.8,47.9 452.4,47.6 452.9,47.2 453.4,47 453.9,46.7 454.4,46.5 455,46.4 455.5,46.2 456,46.1 456.6,46 457.1,45.9 457.6,45.8 458.1,45.7 458.6,45.7 459.2,45.6 459.7,45.6 460.2,45.6 460.8,45.5 461.3,45.5 461.8,45.5 462.3,45.5 462.9,45.4 463.4,45.4 463.9,45.4 464.4,45.4 464.9,45.4 465.5,45.4 466,45.4 466.5,45.4 467.1,45.4 467.6,45.4 468.1,45.4 468.6,45.3 469.1,45.3 469.7,45.3 470.2,45.3 470.7,45.3 471.2,45.3 471.8,45.3 472.3,45.3 472.8,45.3 473.4,45.3 473.9,45.3 474.4,45.3 474.9,45.3 475.4,45.3 476,45.3 476.5,45.3 477,45.3 477.6,45.3 478.1,45.3 478.6,45.3 479.1,45.3 479.6,45.3 480.2,45.3 480.7,45.3 481.2,45.3 481.8,45.3 482.3,45.3 482.8,45.3 483.3,45.3 483.9,45.3 484.4,45.3 484.9,45.3 485.4,45.3 485.9,45.3 486.5,45.3 487,45.3 487.5,45.3 488.1,45.3 488.6,45.3 489.1,45.3 489.6,45.3 490.1,45.3 490.7,45.3 491.2,45.3 491.7,45.3 492.2,45.3 492.8,45.3 493.3,45.3 493.8,45.3 494.4,45.3 494.9,45.3 495.4,45.3 495.9,45.3 496.4,45.3 497,45.3 497.5,45.3 498,45.3 498.6,45.3 499.1,45.3 499.6,45.3 500.1,45.3 500.6,45.3 501.2,45.3 501.7,45.3 502.2,45.3 502.8,45.3 503.3,45.3 503.8,45.3 504.3,45.3 504.9,45.3 505.4,45.3 505.9,45.3 506.4,45.3 506.9,45.3 507.5,45.3 508,45.3 508.5,45.3 509.1,45.3 509.6,45.3 510.1,45.3 510.6,45.3 511.1,45.3 511.7,45.3 512.2,45.3 512.7,45.3 513.2,45.3 513.8,45.3 514.3,45.3 514.8,45.3 515.4,45.3 515.9,45.3 516.4,45.3 516.9,45.3 517.5,45.3 518,45.3 518.5,45.3 519,45.3 519.5,45.3 520.1,45.3 520.6,45.3 521.1,45.3 521.6,45.3 522.2,45.3 522.7,45.3 523.2,45.3 523.8,45.3 524.3,45.3 524.8,45.3 525.3,45.3 525.9,45.3" fill="none" stroke="#84e898" stroke-width="1.05"/>
<path transform="scale(0.5)" d="M729 42h3m-3 0h3m-3 1h3m-3 3h3m-3 4h3m-2 -12h3m-3 3h3m-3 0h3m-3 6h3m-3 1h3m-2 0h3m-3 0h3m-3 1h3m-2 -5h3m-3 1h3m-3 1h3m-2 -14h3m-3 14h3m-3 0h3m-3 8h3m-2 -17h3m-3 1h3m-3 10h3m-2 -16h3m-3 9h3m-3 2h3m-3 17h3m-2 -26h3m-3 1h3m-3 2h3m-3 4h3m-3 1h3m-3 1h3m-3 3h3m-3 4h3m-3 1h3m-3 2h3m-2 -25h3m-3 13h3m-3 3h3m-3 4h3m-3 13h3m-2 -19h3m-3 6h3m-2 -10h3m-3 4h3m-3 1h3m-3 1h3m-3 2h3m-3 3h3m-3 15h3m-2 -30h3m-3 6h3m-3 1h3m-3 1h3m-3 2h3m-3 2h3m-3 2h3m-3 1h3m-3 4h3m-2 -5h3m-3 1h3m-3 0h3m-2 -6h3m-3 5h3m-3 2h3m-2 -17h3m-3 5h3m-3 6h3m-3 1h3m-3 4h3m-3 4h3m-3 3h3m-3 2h3m-2 -24h3m-3 7h3m-3 0h3m-3 6h3m-3 1h3m-3 0h3m-3 6h3m-2 -8h3m-3 4h3m-3 0h3m-3 1h3m-2 -30h3m-3 37h3m-2 -16h3m-2 -4h3m-3 4h3m-3 1h3m-3 4h3m-3 4h3m-3 2h3m-3 1h3m-2 -17h3m-3 1h3m-3 8h3m-3 4h3m-3 4h3m-3 0h3m-3 6h3m-3 0h3m-2 -17h3m-3 6h3m-3 7h3m-2 -15h3m-3 0h3m-2 0h3m-3 1h3m-3 1h3m-3 6h3m-3 4h3m-3 1h3m-2 -14h3m-3 6h3m-3 4h3m-2 -7h3m-3 5h3m-3 4h3m-3 2h3m-3 3h3m-2 -20h3m-3 10h3m-3 0h3m-3 4h3m-3 6h3m-2 -24h3m-3 6h3m-3 4h3m-3 8h3m-3 1h3m-2 -8h3m-3 1h3m-3 9h3m-2 -17h3m-3 2h3m-3 3h3m-3 0h3m-3 2h3m-3 0h3m-3 11h3m-2 -19h3m-3 6h3m-3 1h3m-3 2h3m-3 2h3m-3 1h3m-2 -5h3m-3 11h3m-3 0h3m-2 -18h3m-3 10h3m-3 7h3m-2 -12h3m-3 1h3m-3 0h3m-3 11h3m-2 -23h3m-3 10h3m-3 8h3m-3 10h3m-2 -13h3m-3 1h3m-3 2h3m-3 0h3m-3 1h3m-2 -19h3m-3 8h3m-3 5h3m-3 2h3m-3 3h3m-3 1h3m-3 2h3m-3 2h3m-2 -15h3m-3 3h3m-3 4h3m-3 4h3m-2 -19h3m-3 25h3m-2 -17h3m-3 2h3m-3 5h3m-3 1h3m-3 1h3m-3 2h3m-3 1h3m-3 2h3m-3 6h3m-2 -20h3m-3 4h3m-3 2h3m-3 1h3m-3 13h3m-2 -18h3m-3 7h3m-3 1h3m-3 9h3m-2 -15h3m-3 4h3m-3 9h3m-3 4h3m-2 -32h3m-3 14h3m-3 1h3m-3 0h3m-3 13h3m-2 -15h3m-3 0h3m-3 3h3m-3 1h3m-3 0h3m-3 4h3m-3 8h3m-2 -10h3m-3 6h3m-3 4h3m-2 -13h3m-3 4h3m-3 0h3m-3 1h3m-3 2h3m-3 4h3m-2 -4h3m-2 -13h3m-3 9h3m-3 3h3m-3 0h3m-3 15h3m-2 -35h3m-3 4h3m-3 9h3m-2 -1h3m-3 2h3m-3 0h3m-3 2h3m-3 1h3m-3 9h3m-3 2h3m-2 -17h3m-3 2h3m-3 3h3m-3 3h3m-3 0h3m-3 7h3m-1 -19h3m-3 3h3m-3 8h3m-3 1h3m-3 10h3m-2 -13h3m-3 4h3m-2 -10h3m-3 2h3m-3 3h3m-3 1h3m-3 0h3m-3 1h3m-3 2h3m-3 1h3m-3 2h3m-3 5h3m-2 -26h3m-3 8h3m-3 3h3m-3 3h3m-3 0h3m-3 4h3m-3 0h3m-3 1h3m-3 1h3m-3 7h3m-2 -15h3m-3 5h3m-2 -13h3m-3 7h3m-3 3h3m-3 4h3m-3 1h3m-2 -12h3m-3 4h3m-3 1h3m-3 2h3m-3 8h3m-3 2h3m-3 1h3m-3 0h3m-2 -11h3m-3 1h3m-3 14h3m-2 -22h3m-3 3h3m-3 2h3m-3 2h3m-3 1h3m-3 2h3m-3 0h3m-3 1h3m-3 0h3m-2 -18h3m-3 9h3m-3 1h3m-3 1h3m-3 2h3m-3 3h3m-3 1h3m-3 4h3m-3 3h3m-3 2h3m-2 -12h3m-3 0h3m-3 1h3m-3 1h3m-3 3h3m-3 2h3m-2 -13h3m-3 5h3m-3 1h3m-3 1h3m-3 5h3m-3 5h3m-3 3h3m-2 -14h3m-3 7h3m-2 -11h3m-3 18h3m-2 -18h3m-3 4h3m-3 1h3m-3 3h3m-3 9h3m-2 -11h3m-3 1h3m-3 10h3m-2 -16h3m-3 4h3m-2 -4h3m-3 1h3m-3 5h3m-2 -7h3m-3 3h3m-3 1h3m-3 2h3m-3 2h3m-3 0h3m-3 6h3m-2 -18h3m-3 1h3m-3 6h3m-3 0h3m-3 4h3m-3 3h3m-3 0h3m-3 1h3m-3 10h3m-2 -23h3m-3 1h3m-3 4h3m-3 8h3m-3 2h3m-3 0h3m-3 1h3m-3 5h3m-1 -28h3m-3 9h3m-3 5h3m-3 2h3m-3 7h3m-3 3h3m-2 -23h3m-3 4h3m-3 12h3m-3 7h3m-2 -17h3m-3 1h3m-3 0h3m-3 5h3m-3 6h3m-2 -15h3m-2 1h3m-3 0h3m-3 2h3m-3 5h3m-3 4h3m-3 1h3m-3 1h3m-2 -8h3m-3 4h3m-3 8h3m-3 8h3m-2 -19h3m-2 -8h3m-3 7h3m-3 2h3m-3 10h3m-3 5h3m-2 -16h3m-3 4h3m-2 1h3m-2 -9h3m-3 2h3m-3 2h3m-3 4h3m-3 6h3m-2 -22h3m-3 11h3m-3 3h3m-3 5h3m-2 -22h3m-3 8h3m-3 2h3m-3 3h3m-3 12h3m-3 3h3m-2 -18h3m-3 3h3m-3 2h3m-3 2h3m-3 3h3m-3 1h3m-3 1h3m-3 1h3m-3 6h3m-2 -23h3m-3 2h3m-3 4h3m-3 8h3m-3 2h3m-3 7h3m-2 -21h3m-2 6h3m-3 2h3m-3 0h3m-3 3h3m-2 -7h3m-3 6h3m-3 3h3m-3 6h3m-2 -26h3m-3 11h3m-3 2h3m-3 4h3m-2 -7h3m-3 2h3m-3 5h3m-3 2h3m-3 6h3m-2 -18h3m-3 2h3m-3 12h3m-2 -1h3m-2 -9h3m-3 7h3m-3 1h3m-3 2h3m-3 5h3m-2 -7h3m-3 0h3m-2 -13h3m-3 1h3m-3 4h3m-3 4h3m-3 12h3m-2 -26h3m-3 14h3m-2 -12h3m-3 3h3m-3 13h3m-3 7h3m-2 -27h3m-3 16h3m-3 6h3m-3 1h3m-3 0h3m-3 2h3m-2 -15h3m-3 4h3m-3 4h3m-3 2h3m-3 12h3m-2 -20h3m-3 5h3m-3 6h3m-2 -12h3m-3 9h3m-3 0h3m-3 7h3m-2 -23h3m-3 13h3m-3 7h3m-3 3h3m-3 2h3m-2 -19h3m-3 6h3m-3 6h3m-2 -22h3m-3 5h3m-3 4h3m-3 1h3m-3 3h3m-3 2h3m-3 12h3m-2 -20h3m-3 10h3m-2 -13h3m-3 6h3m-3 1h3m-3 2h3m-3 4h3m-3 1h3m-3 4h3m-2 -10h3m-3 6h3m-2 -12h3m-3 2h3m-3 0h3m-3 8h3m-2 -1h3m-3 6h3m-2 -10h3m-3 3h3m-3 7h3m-3 4h3m-3 4h3m-2 -12h3m-3 3h3m-2 -10h3m-3 3h3m-3 1h3m-3 1h3m-3 6h3m-2 -11h3m-3 2h3m-3 8h3m-3 0h3m-2 -8h3m-3 4h3m-3 0h3m-3 2h3m-3 2h3m-2 -15h3m-3 4h3m-3 1h3m-3 0h3m-3 5h3m-3 3h3m-2 -13h3m-3 3h3m-3 7h3m-3 1h3m-3 0h3m-3 2h3m-3 0h3m-3 10h3m-3 7h3m-2 -16h3m-2 -4h3m-3 1h3m-3 6h3m-3 0h3m-2 -2h3m-3 5h3m-2 -14h3m-3 2h3m-3 7h3m-3 1h3m-3 2h3m-2 -19h3m-3 6h3m-3 2h3m-3 11h3m-2 -18h3m-3 5h3m-3 1h3m-3 11h3m-2 -15h3m-3 2h3m-3 0h3m-3 14h3m-3 6h3m-2 -21h3m-3 4h3m-3 1h3m-2 -4h3m-3 1h3m-3 3h3m-3 1h3m-3 5h3m-3 0h3m-3 1h3m-2 -7h3m-3 2h3m-2 1h3m-3 0h3m-3 4h3m-1 -9h3m-3 5h3m-3 4h3m-3 0h3m-3 2h3m-3 3h3m-2 -6h3m-3 1h3m-3 1h3m-2 -6h3m-3 6h3m-2 -19h3m-3 11h3m-3 4h3m-3 2h3m-2 -14h3m-3 1h3m-3 4h3m-3 1h3m-3 9h3m-3 9h3m-2 -15h3m-3 0h3m-3 2h3m-3 4h3m-2 -10h3m-3 0h3m-3 6h3m-3 5h3m-3 9h3m-2 -14h3m-3 8h3m-2 -10h3m-3 3h3m-3 2h3m-2 -6h3m-3 5h3m-2 -21h3m-3 22h3m-3 6h3m-2 -12h3m-3 7h3m-3 5h3m-3 5h3m-2 -4h3m-3 4h3m-2 -11h3m-3 6h3m-2 -11h3m-3 7h3m-2 -6h3m-3 0h3m-3 6h3m-3 4h3m-2 -7h3m-3 10h3m-3 7h3m-2 -12h3m-3 1h3m-3 7h3m-2 -12h3m-3 2h3m-3 4h3m-3 17h3m-2 -22h3m-3 7h3m-2 -12h3m-3 10h3m-2 -8h3m-3 13h3m-2 7h3m-2 -16h3m-2 24h3m-2 -16h3m-2 7h3m-3 5h3m-2 7h3m-3 5h3m-2 -14h3m-3 8h3m-3 7h3m-3 3h3m-2 -17h3m-3 2h3m-1 -5h3m-1 -24h3m-3 11h3m-3 3h3m-2 5h3m-3 3h3m-3 5h3m-2 -12h3m-2 -9h3m-3 1h3m-3 6h3m-3 7h3m-3 0h3m-2 -15h3m-3 1h3m-3 7h3m-3 0h3m-3 5h3m-2 -9h3m-3 1h3m-3 11h3m-2 -19h3m-3 2h3m-3 5h3m-3 1h3m-3 4h3m-2 -13h3m-3 7h3m-3 2h3m-3 1h3m-2 -11h3m-3 1h3m-3 5h3m-3 0h3m-3 9h3m-3 4h3m-3 2h3m-2 -17h3m-3 1h3m-3 0h3m-3 1h3m-3 4h3m-2 -18h3m-3 8h3m-3 9h3m-3 5h3m-2 -16h3m-3 1h3m-3 2h3m-3 2h3m-3 3h3m-3 5h3m-3 8h3m-2 -18h3m-3 11h3m-3 1h3m-2 -24h3m-3 9h3m-3 1h3m-3 2h3m-3 4h3m-3 2h3m-3 1h3m-3 1h3m-2 -15h3m-3 10h3m-3 6h3m-3 2h3m-2 -10h3m-3 9h3m-2 -9h3m-3 4h3m-3 0h3m-3 0h3m-3 1h3m-3 2h3m-3 1h3m-2 -17h3m-3 9h3m-3 8h3m-3 2h3m-2 -7h3m-3 2h3m-3 2h3m-3 1h3m-2 -9h3m-3 4h3m-3 5h3m-2 -12h3m-3 0h3m-3 1h3m-3 3h3m-3 18h3m-2 -25h3m-3 6h3m-3 6h3m-3 2h3m-3 6h3m-2 -9h3m-3 1h3m-3 2h3m-3 5h3m-3 3h3m-2 -22h3m-3 2h3m-3 1h3m-3 2h3m-3 7h3m-3 9h3m-2 -19h3m-3 3h3m-3 2h3m-3 2h3m-2 1h3m-3 3h3m-2 -10h3m-3 4h3m-3 1h3m-3 4h3m-2 -16h3m-3 5h3m-3 1h3m-3 4h3m-3 1h3m-3 1h3m-3 4h3m-3 0h3m-3 10h3m-2 -27h3m-3 1h3m-3 1h3m-3 6h3m-3 3h3m-3 0h3m-3 4h3m-3 4h3m-3 17h3m-2 -27h3m-3 3h3m-3 5h3m-3 3h3m-2 -16h3m-3 3h3m-3 6h3m-3 2h3m-3 2h3m-3 1h3m-2 -15h3m-3 9h3m-3 2h3m-3 3h3m-2 -18h3m-3 13h3m-3 5h3m-2 -12h3m-3 5h3m-3 0h3m-3 5h3m-3 1h3m-3 4h3m-2 -15h3m-3 2h3m-3 10h3m-3 1h3m-2 -7h3m-3 9h3m-2 -17h3m-3 3h3m-3 12h3m-3 5h3m-3 2h3m-2 -19h3m-3 1h3m-3 2h3m-3 0h3m-3 2h3m-3 17h3m-2 -15h3m-3 0h3m-3 2h3m-2 0h3m-2 -3h3m-3 5h3m-3 7h3m-2 -22h3m-3 4h3m-3 1h3m-3 2h3m-3 2h3m-3 1h3m-3 2h3m-3 1h3m-3 0h3m-3 2h3m-3 9h3m-2 -6h3m-3 1h3m-2 -17h3m-3 8h3m-3 1h3m-3 7h3m-3 3h3m-2 -22h3m-3 8h3m-3 3h3m-3 2h3m-2 -9h3m-3 3h3m-3 0h3m-3 4h3m-3 0h3m-3 2h3m-3 2h3m-3 2h3m-3 2h3m-3 1h3m-2 -24h3m-3 13h3m-3 6h3m-3 1h3m-3 8h3m-3 1h3m-2 -17h3m-3 4h3m-2 -12h3m-3 1h3m-3 1h3m-3 3h3m-3 1h3m-3 1h3m-3 5h3m-3 0h3m-3 2h3m-3 3h3m-2 -14h3m-3 6h3m-3 1h3m-3 1h3m-3 7h3m-3 4h3m-2 -2h3m-2 -15h3m-3 15h3m-2 -23h3m-3 2h3m-3 1h3m-3 2h3m-3 5h3m-3 13h3m-2 -16h3m-3 3h3m-3 1h3m-3 3h3m-3 4h3m-2 -18h3m-3 10h3m-3 1h3m-3 1h3m-3 6h3m-3 2h3m-3 1h3m-3 4h3m-2 -26h3m-3 6h3m-3 12h3m-2 -9h3m-3 1h3m-3 15h3m-3 1h3m-2 -15h3m-3 0h3m-3 2h3m-3 11h3m-3 0h3m-3 8h3m-2 -23h3m-3 4h3m-3 1h3m-2 -15h3m-3 11h3m-3 3h3m-3 1h3m-3 1h3m-3 6h3m-2 -15h3m-3 11h3m-3 1h3m-3 5h3m-2 -14h3m-3 4h3m-3 3h3m-3 10h3m-2 -18h3m-3 3h3m-3 9h3m-3 3h3m-2 -11h3m-3 7h3m-3 4h3m-2 -8h3m-3 4h3m-3 2h3m-3 2h3m-3 10h3m-2 -14h3m-3 2h3m-2 -17h3m-3 5h3m-3 2h3m-3 7h3m-3 5h3m-3 9h3m-2 -21h3m-3 0h3m-3 3h3m-3 8h3m-3 0h3m-3 4h3m-2 -14h3m-3 7h3m-2 -15h3m-3 5h3m-3 3h3m-3 0h3m-3 4h3m-3 7h3m-2 -17h3m-3 12h3m-2 -6h3m-3 2h3m-2 -9h3m-3 2h3m-3 1h3m-3 7h3m-3 7h3m-3 3h3m-3 0h3m-2 -22h3m-3 9h3m-3 3h3m-3 2h3m-3 5h3m-3 8h3m-2 -29h3m-3 12h3m-3 4h3m-3 1h3m-3 2h3m-3 8h3m-3 2h3m-2 -20h3m-3 6h3m-3 1h3m-3 5h3m-3 2h3m-2 -14h3m-3 2h3m-3 2h3m-3 4h3m-3 6h3m-2 -9h3m-3 2h3m-3 5h3m-2 0h3m-3 1h3m-3 1h3m-3 0h3m-3 8h3m-2 -28h3m-3 8h3m-3 4h3m-3 3h3m-3 4h3m-2 -13h3m-3 7h3m-3 2h3m-2 -12h3m-3 7h3m-3 3h3m-3 1h3m-3 3h3m-3 1h3m-3 0h3m-3 3h3m-3 0h3m-2 -10h3m-3 0h3m-3 4h3m-3 15h3m-2 -25h3m-3 3h3m-3 7h3m-2 -17h3m-3 8h3m-3 3h3m-3 8h3m-3 5h3m-2 -20h3m-3 2h3m-3 9h3m-2 -13h3m-3 4h3m-3 5h3m-3 5h3m-3 3h3m-2 -7h3m-3 1h3m-2 -7h3m-3 10h3m-3 4h3m-3 4h3m-3 1h3m-3 3h3m-2 -25h3m-3 4h3m-3 2h3m-3 1h3m-3 6h3m-3 2h3m-2 -8h3m-2 2h3m-3 14h3m-2 -18h3m-3 4h3m-3 6h3m-3 1h3m-2 -8h3m-3 11h3m-3 3h3m-2 -14h3m-3 3h3m-3 10h3m-2 -9h3m-3 3h3m-3 1h3m-3 14h3m-2 -23h3m-3 3h3m-3 10h3m-2 -17h3m-3 5h3m-3 2h3m-3 17h3m-2 -24h3m-3 0h3m-3 4h3m-3 2h3m-3 5h3m-3 0h3m-3 1h3m-2 -13h3m-3 8h3m-3 2h3m-3 2h3m-3 10h3m-2 -12h3m-3 7h3m-3 1h3m-3 3h3m-2 -15h3m-3 0h3m-3 2h3m-3 2h3m-3 2h3m-2 -15h3m-3 13h3m-3 1h3m-3 1h3m-3 0h3m-3 3h3m-2 -11h3m-3 3h3m-3 4h3m-3 5h3m-3 4h3m-2 -28h3m-3 8h3m-3 2h3m-3 4h3m-2 2h3m-3 3h3m-3 2h3m-3 5h3m-2 -8h3m-3 0h3m-3 5h3m-3 4h3m-2 -20h3m-3 2h3m-3 11h3m-3 3h3m-2 -17h3m-3 13h3m-3 4h3m-2 -7h3m-3 6h3m-2 -15h3m-3 8h3m-3 4h3m-3 0h3m-3 1h3m-3 0h3m-3 8h3m-2 -21h3m-3 2h3m-3 2h3m-3 3h3m-3 7h3m-3 0h3m-3 2h3m-3 1h3m-2 -13h3m-3 1h3m-3 3h3m-3 2h3m-3 3h3m-3 7h3m-2 -6h3m-3 1h3m-3 10h3m-2 -16h3m-3 1h3m-3 3h3m-2 -11h3m-3 0h3m-3 5h3m-3 3h3m-3 2h3m-3 4h3m-2 -19h3m-3 12h3m-3 1h3m-3 1h3m-3 3h3m-3 3h3m-3 2h3m-3 1h3m-2 -20h3m-3 1h3m-3 0h3m-3 2h3m-3 9h3m-3 1h3m-3 1h3m-3 2h3m-2 -4h3m-3 1h3m-3 0h3m-2 -9h3m-3 2h3m-3 12h3m-2 -14h3m-3 3h3m-3 3h3m-3 2h3m-3 8h3m-2 -17h3m-3 2h3m-3 3h3m-3 0h3m-3 1h3m-3 2h3m-3 2h3m-3 0h3m-2 -8h3m-3 5h3m-3 1h3m-3 0h3m-3 3h3m-2 -15h3m-3 12h3m-3 5h3m-2 -13h3m-3 1h3m-3 19h3m-2 -21h3m-3 2h3m-2 0h3m-3 0h3m-3 1h3m-3 2h3m-3 6h3m-3 8h3m-3 4h3m-2 -26h3m-3 2h3m-3 7h3m-3 3h3m-3 14h3m-2 -32h3m-3 10h3m-3 2h3m-3 6h3m-3 5h3m-3 2h3m-2 -17h3m-3 2h3m-3 6h3m-3 5h3m-3 1h3m-3 7h3m-2 -12h3m-3 6h3m-2 -12h3m-3 6h3m-3 6h3m-3 0h3m-3 1h3m-3 2h3m-2 -17h3m-3 1h3m-3 7h3m-3 4h3m-3 0h3m-3 1h3m-3 4h3m-2 -19h3m-2 -1h3m-3 2h3m-3 2h3m-3 5h3m-3 2h3m-3 3h3m-3 9h3m-2 -20h3m-2 -4h3m-3 8h3m-3 1h3m-3 4h3m-3 4h3m-3 0h3m-3 7h3m-2 -16h3m-3 4h3m-2 -15h3m-3 22h3m-2 -14h3m-3 4h3m-3 5h3m-2 -8h3m-3 2h3m-3 3h3m-3 1h3m-3 0h3m-3 4h3m-2 -12h3m-3 3h3m-3 1h3m-3 2h3m-3 5h3m-3 2h3m-3 9h3m-2 -14h3m-3 0h3m-3 1h3m-3 9h3m-2 -14h3m-3 1h3m-3 1h3m-3 9h3m-3 14h3m-2 -23h3m-3 3h3m-3 5h3m-1 -8h3m-3 2h3m-3 9h3m-2 -11h3m-3 2h3m-3 3h3m-3 2h3m-3 3h3m-2 -16h3m-3 7h3m-3 2h3m-3 6h3m-2 -22h3m-3 7h3m-3 6h3m-3 0h3m-2 -6h3m-3 5h3m-3 2h3m-3 0h3m-3 1h3m-3 4h3m-3 13h3m-2 -25h3m-3 11h3m-3 1h3m-2 -6h3m-3 3h3m-3 0h3m-3 1h3m-3 7h3m-3 4h3m-2 -13h3m-2 -8h3m-3 7h3m-3 1h3m-3 1h3m-3 5h3m-2 -14h3m-3 6h3m-3 4h3m-3 4h3m-3 7h3m-2 -32h3m-3 9h3m-3 2h3m-3 7h3m-3 2h3m-3 0h3m-2 -3h3m-3 1h3m-3 0h3" stroke="#9494ea" stroke-width="2.6" fill="none"/>
<polyline points="364.1,22.6 364.7,22.6 365.2,22.6 365.7,22.6 366.2,22.6 366.8,22.6 367.3,22.6 367.8,22.6 368.4,22.6 368.9,22.6 369.4,22.6 369.9,22.6 370.4,22.6 371,22.6 371.5,22.6 372,22.6 372.6,22.6 373.1,22.6 373.6,22.6 374.1,22.6 374.6,22.6 375.2,22.6 375.7,22.6 376.2,22.6 376.8,22.6 377.3,22.6 377.8,22.6 378.3,22.6 378.9,22.6 379.4,22.6 379.9,22.6 380.4,22.6 380.9,22.6 381.5,22.6 382,22.6 382.5,22.6 383.1,22.6 383.6,22.6 384.1,22.6 384.6,22.6 385.1,22.6 385.7,22.6 386.2,22.6 386.7,22.6 387.2,22.6 387.8,22.6 388.3,22.6 388.8,22.6 389.4,22.6 389.9,22.6 390.4,22.6 390.9,22.6 391.4,22.6 392,22.6 392.5,22.6 393,22.6 393.6,22.6 394.1,22.6 394.6,22.6 395.1,22.6 395.6,22.6 396.2,22.6 396.7,22.6 397.2,22.6 397.8,22.6 398.3,22.6 398.8,22.6 399.3,22.6 399.9,22.6 400.4,22.6 400.9,22.6 401.4,22.6 401.9,22.6 402.5,22.6 403,22.6 403.5,22.6 404.1,22.6 404.6,22.6 405.1,22.6 405.6,22.6 406.1,22.6 406.7,22.6 407.2,22.6 407.7,22.6 408.2,22.6 408.8,22.6 409.3,22.6 409.8,22.6 410.4,22.6 410.9,22.6 411.4,22.6 411.9,22.6 412.4,22.6 413,22.6 413.5,22.6 414,22.6 414.6,22.6 415.1,22.6 415.6,22.6 416.1,22.6 416.6,22.6 417.2,22.6 417.7,22.6 418.2,22.6 418.8,22.6 419.3,22.6 419.8,22.6 420.3,22.6 420.9,22.6 421.4,22.6 421.9,22.6 422.4,22.6 422.9,22.6 423.5,22.7 424,22.7 424.5,22.7 425.1,22.7 425.6,22.7 426.1,22.7 426.6,22.7 427.1,22.7 427.7,22.7 428.2,22.7 428.7,22.8 429.2,22.8 429.8,22.8 430.3,22.8 430.8,22.9 431.4,22.9 431.9,23 432.4,23 432.9,23.1 433.4,23.2 434,23.3 434.5,23.4 435,23.5 435.6,23.7 436.1,23.8 436.6,24 437.1,24.2 437.6,24.5 438.2,24.8 438.7,25.2 439.2,25.6 439.8,26.1 440.3,26.7 440.8,27.3 441.3,28.1 441.9,29 442.4,30 442.9,31.2 443.4,32.6 443.9,34.3 444.5,36.2 445,38.4 445.5,36.2 446.1,34.3 446.6,32.6 447.1,31.2 447.6,30 448.1,29 448.7,28.1 449.2,27.3 449.7,26.7 450.2,26.1 450.8,25.6 451.3,25.2 451.8,24.8 452.4,24.5 452.9,24.2 453.4,24 453.9,23.8 454.4,23.7 455,23.5 455.5,23.4 456,23.3 456.6,23.2 457.1,23.1 457.6,23 458.1,23 458.6,22.9 459.2,22.9 459.7,22.8 460.2,22.8 460.8,22.8 461.3,22.8 461.8,22.7 462.3,22.7 462.9,22.7 463.4,22.7 463.9,22.7 464.4,22.7 464.9,22.7 465.5,22.7 466,22.7 466.5,22.7 467.1,22.6 467.6,22.6 468.1,22.6 468.6,22.6 469.1,22.6 469.7,22.6 470.2,22.6 470.7,22.6 471.2,22.6 471.8,22.6 472.3,22.6 472.8,22.6 473.4,22.6 473.9,22.6 474.4,22.6 474.9,22.6 475.4,22.6 476,22.6 476.5,22.6 477,22.6 477.6,22.6 478.1,22.6 478.6,22.6 479.1,22.6 479.6,22.6 480.2,22.6 480.7,22.6 481.2,22.6 481.8,22.6 482.3,22.6 482.8,22.6 483.3,22.6 483.9,22.6 484.4,22.6 484.9,22.6 485.4,22.6 485.9,22.6 486.5,22.6 487,22.6 487.5,22.6 488.1,22.6 488.6,22.6 489.1,22.6 489.6,22.6 490.1,22.6 490.7,22.6 491.2,22.6 491.7,22.6 492.2,22.6 492.8,22.6 493.3,22.6 493.8,22.6 494.4,22.6 494.9,22.6 495.4,22.6 495.9,22.6 496.4,22.6 497,22.6 497.5,22.6 498,22.6 498.6,22.6 499.1,22.6 499.6,22.6 500.1,22.6 500.6,22.6 501.2,22.6 501.7,22.6 502.2,22.6 502.8,22.6 503.3,22.6 503.8,22.6 504.3,22.6 504.9,22.6 505.4,22.6 505.9,22.6 506.4,22.6 506.9,22.6 507.5,22.6 508,22.6 508.5,22.6 509.1,22.6 509.6,22.6 510.1,22.6 510.6,22.6 511.1,22.6 511.7,22.6 512.2,22.6 512.7,22.6 513.2,22.6 513.8,22.6 514.3,22.6 514.8,22.6 515.4,22.6 515.9,22.6 516.4,22.6 516.9,22.6 517.5,22.6 518,22.6 518.5,22.6 519,22.6 519.5,22.6 520.1,22.6 520.6,22.6 521.1,22.6 521.6,22.6 522.2,22.6 522.7,22.6 523.2,22.6 523.8,22.6 524.3,22.6 524.8,22.6 525.3,22.6 525.9,22.6" fill="none" stroke="#84e898" stroke-width="1.05"/>
<rect x="363.6" y="5.0" width="162.4" height="161.5" fill="none" stroke="#3a3a3a" stroke-width="1.3"/>
<text x="358.3" y="168.6" font-size="8.8" text-anchor="end" fill="#1a1a1a" style="color:#1a1a1a">0</text>
<text x="358.3" y="144.7" font-size="8.8" text-anchor="end" fill="#1a1a1a" style="color:#1a1a1a">1</text>
<text x="358.3" y="120.8" font-size="8.8" text-anchor="end" fill="#1a1a1a" style="color:#1a1a1a">2</text>
<text x="358.3" y="96.9" font-size="8.8" text-anchor="end" fill="#1a1a1a" style="color:#1a1a1a">3</text>
<text x="358.3" y="73" font-size="8.8" text-anchor="end" fill="#1a1a1a" style="color:#1a1a1a">4</text>
<text x="358.3" y="49.1" font-size="8.8" text-anchor="end" fill="#1a1a1a" style="color:#1a1a1a">5</text>
<text x="358.3" y="25.2" font-size="8.8" text-anchor="end" fill="#1a1a1a" style="color:#1a1a1a">6</text>
<text x="382" y="181.9" font-size="8.5" text-anchor="middle" fill="#1a1a1a" style="color:#1a1a1a">-60</text>
<text x="403" y="181.9" font-size="8.5" text-anchor="middle" fill="#1a1a1a" style="color:#1a1a1a">-40</text>
<text x="424" y="181.9" font-size="8.5" text-anchor="middle" fill="#1a1a1a" style="color:#1a1a1a">-20</text>
<text x="445" y="181.9" font-size="8.5" text-anchor="middle" fill="#1a1a1a" style="color:#1a1a1a">0</text>
<text x="466" y="181.9" font-size="8.5" text-anchor="middle" fill="#1a1a1a" style="color:#1a1a1a">20</text>
<text x="487" y="181.9" font-size="8.5" text-anchor="middle" fill="#1a1a1a" style="color:#1a1a1a">40</text>
<text x="508" y="181.9" font-size="8.5" text-anchor="middle" fill="#1a1a1a" style="color:#1a1a1a">60</text>
<path d="M359.8 166.5H363.6M359.8 142.6H363.6M359.8 118.7H363.6M359.8 94.8H363.6M359.8 70.9H363.6M359.8 47H363.6M359.8 23.1H363.6M382 166.5V170.2M403 166.5V170.2M424 166.5V170.2M445 166.5V170.2M466 166.5V170.2M487 166.5V170.2M508 166.5V170.2" stroke="#3a3a3a" stroke-width="1"/>
<text x="444.7" y="196.2" font-size="9.5" text-anchor="middle" fill="#1a1a1a" style="color:#1a1a1a">Delay time (ns)</text>
<text transform="translate(347.0 81.5) rotate(-90)" font-size="10.5" text-anchor="middle" fill="#1a1a1a" style="color:#1a1a1a">g<tspan font-size="7" dy="-5.5">2</tspan><tspan dy="5.5">(τ)</tspan></text>
<text x="300" y="11.8" font-size="12.2" text-anchor="start" fill="#000" style="color:#000">b)</text>
<defs><linearGradient id="cb" x1="0" y1="0" x2="0" y2="1"><stop offset="0" stop-color="#f4f4ff"/><stop offset="0.25" stop-color="#9a9af4"/><stop offset="0.55" stop-color="#0a0af0"/><stop offset="0.8" stop-color="#0c0c70"/><stop offset="1" stop-color="#000010"/></linearGradient></defs>
<rect x="530.8" y="34.3" width="16.9" height="106.4" fill="url(#cb)" stroke="#111" stroke-width="1"/>
<path d="M547.7 44.5H551M547.7 131.2H551" stroke="#111" stroke-width="1"/>
<text x="556.8" y="47.6" font-size="8.5" text-anchor="start" fill="#1a1a1a" style="color:#1a1a1a">800</text>
<text x="556.8" y="134.3" font-size="8.5" text-anchor="start" fill="#1a1a1a" style="color:#1a1a1a">300</text>
<path d="M563.6 118.5V64.5H560.3L565.1 54.3L569.9 64.5H566.6V118.5Z" fill="#000"/>
<polyline points="43,352.2 45.6,346.1 48.3,343.8 50.9,349.5 53.6,352.6 56.2,347.8 58.9,345.8 61.5,343.4 64.2,352.2 66.8,352.5 69.5,344.9 72.2,345.8 74.8,341.7 77.5,343.8 80.1,347.9 82.8,348.6 85.4,341 88.1,348.6 90.7,350.5 93.4,351.9 96,347.2 98.7,347 101.3,348.8 104,347.7 106.6,346.4 109.3,344.8 111.9,343.3 114.6,346.6 117.2,353.9 119.9,344.7 122.5,352.7 125.2,347.9 127.8,352.8 130.5,347 133.1,349.8 135.8,345.6 138.4,339.3 141.1,344.6 143.7,337.4 145.9,344.3 146.8,270.4 149.1,199.8 150.9,289.4 152.5,342.2 154.3,346.4 157,345.8 159.6,343.4 162.3,346.9 164.9,345.4 167.6,346.6 170.2,351 172.9,345.1 175.5,350.4 178.2,340.8 180.8,349.3 183.5,344.8 186.1,347.4 188.8,343.9 191.4,349.8 194.1,343.7 196.7,348 199.4,342.7 202,345.2 204.7,347 207.3,350.5 210,344.6 212.6,345.8 215.3,341.3 217.9,349 220.6,345.5 223.2,345.6 225.9,346.5 228.5,346.8 231.2,346.9 233.8,349.8 236.5,351.4 239.1,349.1 241.8,345.3 244.4,341.8 247.1,343.9 249.7,343.6 252.4,344.6 255,344.9 257.7,346.9 260.3,344.6" fill="none" stroke="#1f77b4" stroke-width="1.2"/>
<g fill="#1f77b4"><circle cx="43" cy="352.2" r="1.85"/><circle cx="45.6" cy="346.1" r="1.85"/><circle cx="48.3" cy="343.8" r="1.85"/><circle cx="50.9" cy="349.5" r="1.85"/><circle cx="53.6" cy="352.6" r="1.85"/><circle cx="56.2" cy="347.8" r="1.85"/><circle cx="58.9" cy="345.8" r="1.85"/><circle cx="61.5" cy="343.4" r="1.85"/><circle cx="64.2" cy="352.2" r="1.85"/><circle cx="66.8" cy="352.5" r="1.85"/><circle cx="69.5" cy="344.9" r="1.85"/><circle cx="72.2" cy="345.8" r="1.85"/><circle cx="74.8" cy="341.7" r="1.85"/><circle cx="77.5" cy="343.8" r="1.85"/><circle cx="80.1" cy="347.9" r="1.85"/><circle cx="82.8" cy="348.6" r="1.85"/><circle cx="85.4" cy="341" r="1.85"/><circle cx="88.1" cy="348.6" r="1.85"/><circle cx="90.7" cy="350.5" r="1.85"/><circle cx="93.4" cy="351.9" r="1.85"/><circle cx="96" cy="347.2" r="1.85"/><circle cx="98.7" cy="347" r="1.85"/><circle cx="101.3" cy="348.8" r="1.85"/><circle cx="104" cy="347.7" r="1.85"/><circle cx="106.6" cy="346.4" r="1.85"/><circle cx="109.3" cy="344.8" r="1.85"/><circle cx="111.9" cy="343.3" r="1.85"/><circle cx="114.6" cy="346.6" r="1.85"/><circle cx="117.2" cy="353.9" r="1.85"/><circle cx="119.9" cy="344.7" r="1.85"/><circle cx="122.5" cy="352.7" r="1.85"/><circle cx="125.2" cy="347.9" r="1.85"/><circle cx="127.8" cy="352.8" r="1.85"/><circle cx="130.5" cy="347" r="1.85"/><circle cx="133.1" cy="349.8" r="1.85"/><circle cx="135.8" cy="345.6" r="1.85"/><circle cx="138.4" cy="339.3" r="1.85"/><circle cx="141.1" cy="344.6" r="1.85"/><circle cx="143.7" cy="337.4" r="1.85"/><circle cx="145.9" cy="344.3" r="1.85"/><circle cx="146.8" cy="270.4" r="1.85"/><circle cx="149.1" cy="199.8" r="1.85"/><circle cx="150.9" cy="289.4" r="1.85"/><circle cx="152.5" cy="342.2" r="1.85"/><circle cx="154.3" cy="346.4" r="1.85"/><circle cx="157" cy="345.8" r="1.85"/><circle cx="159.6" cy="343.4" r="1.85"/><circle cx="162.3" cy="346.9" r="1.85"/><circle cx="164.9" cy="345.4" r="1.85"/><circle cx="167.6" cy="346.6" r="1.85"/><circle cx="170.2" cy="351" r="1.85"/><circle cx="172.9" cy="345.1" r="1.85"/><circle cx="175.5" cy="350.4" r="1.85"/><circle cx="178.2" cy="340.8" r="1.85"/><circle cx="180.8" cy="349.3" r="1.85"/><circle cx="183.5" cy="344.8" r="1.85"/><circle cx="186.1" cy="347.4" r="1.85"/><circle cx="188.8" cy="343.9" r="1.85"/><circle cx="191.4" cy="349.8" r="1.85"/><circle cx="194.1" cy="343.7" r="1.85"/><circle cx="196.7" cy="348" r="1.85"/><circle cx="199.4" cy="342.7" r="1.85"/><circle cx="202" cy="345.2" r="1.85"/><circle cx="204.7" cy="347" r="1.85"/><circle cx="207.3" cy="350.5" r="1.85"/><circle cx="210" cy="344.6" r="1.85"/><circle cx="212.6" cy="345.8" r="1.85"/><circle cx="215.3" cy="341.3" r="1.85"/><circle cx="217.9" cy="349" r="1.85"/><circle cx="220.6" cy="345.5" r="1.85"/><circle cx="223.2" cy="345.6" r="1.85"/><circle cx="225.9" cy="346.5" r="1.85"/><circle cx="228.5" cy="346.8" r="1.85"/><circle cx="231.2" cy="346.9" r="1.85"/><circle cx="233.8" cy="349.8" r="1.85"/><circle cx="236.5" cy="351.4" r="1.85"/><circle cx="239.1" cy="349.1" r="1.85"/><circle cx="241.8" cy="345.3" r="1.85"/><circle cx="244.4" cy="341.8" r="1.85"/><circle cx="247.1" cy="343.9" r="1.85"/><circle cx="249.7" cy="343.6" r="1.85"/><circle cx="252.4" cy="344.6" r="1.85"/><circle cx="255" cy="344.9" r="1.85"/><circle cx="257.7" cy="346.9" r="1.85"/><circle cx="260.3" cy="344.6" r="1.85"/></g>
<polyline points="42,347.6 43,347.6 44,347.6 45,347.6 46,347.6 47,347.6 48,347.6 49,347.6 50,347.6 51,347.6 52,347.6 53,347.6 54,347.6 55,347.6 56,347.6 57,347.6 58,347.6 59,347.6 60,347.6 61,347.6 62,347.6 63,347.6 64,347.6 65,347.6 66,347.6 67,347.6 68,347.5 69,347.5 70,347.5 71,347.5 72,347.5 73,347.5 74,347.5 75,347.5 76,347.5 77,347.5 78,347.5 79,347.5 80,347.5 81,347.5 82,347.5 83,347.5 84,347.5 85,347.5 86,347.5 87,347.5 88,347.5 89,347.5 90,347.5 91,347.5 92,347.5 93,347.5 94,347.5 95,347.5 96,347.5 97,347.5 98,347.5 99,347.5 100,347.5 101,347.5 102,347.4 103,347.4 104,347.4 105,347.4 106,347.4 107,347.4 108,347.4 109,347.4 110,347.4 111,347.4 112,347.4 113,347.3 114,347.3 115,347.3 116,347.3 117,347.3 118,347.3 119,347.2 120,347.2 121,347.2 122,347.1 123,347.1 124,347.1 125,347 126,347 127,346.9 128,346.8 129,346.8 130,346.7 131,346.6 132,346.4 133,346.3 134,346.1 135,345.9 136,345.6 137,345.3 138,344.8 139,344.3 140,343.5 141,342.4 141.1,342.3 141.2,342.1 141.3,342 141.4,341.8 141.5,341.7 141.6,341.5 141.7,341.4 141.8,341.2 141.9,341 142,340.8 142.1,340.6 142.2,340.4 142.3,340.2 142.4,340 142.5,339.8 142.6,339.5 142.7,339.3 142.8,339 142.9,338.8 143,338.5 143.1,338.2 143.2,337.9 143.3,337.5 143.4,337.2 143.5,336.8 143.6,336.4 143.7,336 143.8,335.6 143.9,335.1 144,334.7 144.1,334.2 144.2,333.6 144.3,333.1 144.4,332.5 144.5,331.8 144.6,331.2 144.7,330.5 144.8,329.7 144.9,328.9 145,328 145.1,327.1 145.2,326.1 145.3,325.1 145.4,323.9 145.5,322.7 145.6,321.4 145.7,320 145.8,318.5 145.9,316.9 146,315.2 146.1,313.3 146.2,311.3 146.3,309.1 146.4,306.7 146.5,304.1 146.6,301.3 146.7,298.3 146.8,295 146.9,291.5 147,287.6 147.1,283.4 147.2,278.9 147.3,274 147.4,268.8 147.5,263.2 147.6,257.2 147.7,250.8 147.8,244.2 147.9,237.3 148,230.3 148.1,223.3 148.2,216.4 148.3,209.8 148.4,203.8 148.5,198.7 148.6,194.5 148.7,191.7 148.8,190.2 148.9,190.2 149,191.7 149.1,194.5 149.2,198.7 149.3,203.8 149.4,209.8 149.5,216.4 149.6,223.3 149.7,230.3 149.8,237.3 149.9,244.2 150,250.8 150.1,257.2 150.2,263.2 150.3,268.8 150.4,274 150.5,278.9 150.6,283.4 150.7,287.6 150.8,291.5 150.9,295 151,298.3 151.1,301.3 151.2,304.1 151.3,306.7 151.4,309.1 151.5,311.3 151.6,313.3 151.7,315.2 151.8,316.9 151.9,318.5 152,320 152.1,321.4 152.2,322.7 152.3,323.9 152.4,325.1 152.5,326.1 152.6,327.1 152.7,328 152.8,328.9 152.9,329.7 153,330.5 153.1,331.2 153.2,331.8 153.3,332.5 153.4,333.1 153.5,333.6 153.6,334.2 153.7,334.7 153.8,335.1 153.9,335.6 154,336 154.1,336.4 154.2,336.8 154.3,337.2 154.4,337.5 154.5,337.9 154.6,338.2 154.7,338.5 154.8,338.8 154.9,339 155,339.3 155.1,339.5 155.2,339.8 155.3,340 155.4,340.2 155.5,340.4 155.6,340.6 155.7,340.8 155.8,341 155.9,341.2 156,341.4 156.1,341.5 156.2,341.7 156.3,341.8 156.4,342 156.5,342.1 156.6,342.3 156.7,342.4 156.8,342.5 156.9,342.6 157.9,343.7 158.9,344.4 159.9,344.9 160.9,345.4 161.9,345.7 162.9,345.9 163.9,346.2 164.9,346.3 165.9,346.5 166.9,346.6 167.9,346.7 168.9,346.8 169.9,346.9 170.9,346.9 171.9,347 172.9,347 173.9,347.1 174.9,347.1 175.9,347.1 176.9,347.2 177.9,347.2 178.9,347.2 179.9,347.3 180.9,347.3 181.9,347.3 182.9,347.3 183.9,347.3 184.9,347.3 185.9,347.4 186.9,347.4 187.9,347.4 188.9,347.4 189.9,347.4 190.9,347.4 191.9,347.4 192.9,347.4 193.9,347.4 194.9,347.4 195.9,347.5 196.9,347.5 197.9,347.5 198.9,347.5 199.9,347.5 200.9,347.5 201.9,347.5 202.9,347.5 203.9,347.5 204.9,347.5 205.9,347.5 206.9,347.5 207.9,347.5 208.9,347.5 209.9,347.5 210.9,347.5 211.9,347.5 212.9,347.5 213.9,347.5 214.9,347.5 215.9,347.5 216.9,347.5 217.9,347.5 218.9,347.5 219.9,347.5 220.9,347.5 221.9,347.5 222.9,347.5 223.9,347.5 224.9,347.5 225.9,347.5 226.9,347.5 227.9,347.5 228.9,347.5 229.9,347.5 230.9,347.6 231.9,347.6 232.9,347.6 233.9,347.6 234.9,347.6 235.9,347.6 236.9,347.6 237.9,347.6 238.9,347.6 239.9,347.6 240.9,347.6 241.9,347.6 242.9,347.6 243.9,347.6 244.9,347.6 245.9,347.6 246.9,347.6 247.9,347.6 248.9,347.6 249.9,347.6 250.9,347.6 251.9,347.6 252.9,347.6 253.9,347.6 254.9,347.6 255.9,347.6 256.9,347.6 257.9,347.6 258.9,347.6 259.9,347.6 260.9,347.6 261.9,347.6" fill="none" stroke="#ff7f0e" stroke-width="1.5" stroke-linejoin="round"/>
<path d="M42.0 181.6H262.8V366.6H42.0Z" fill="none" stroke="#333" stroke-width="1"/>
<text x="36" y="350.6" font-size="8.6" text-anchor="end" fill="#1a1a1a" style="color:#1a1a1a">0</text>
<text x="36" y="328.9" font-size="8.6" text-anchor="end" fill="#1a1a1a" style="color:#1a1a1a">20</text>
<text x="36" y="307.1" font-size="8.6" text-anchor="end" fill="#1a1a1a" style="color:#1a1a1a">40</text>
<text x="36" y="285.4" font-size="8.6" text-anchor="end" fill="#1a1a1a" style="color:#1a1a1a">60</text>
<text x="36" y="263.6" font-size="8.6" text-anchor="end" fill="#1a1a1a" style="color:#1a1a1a">80</text>
<text x="36" y="241.9" font-size="8.6" text-anchor="end" fill="#1a1a1a" style="color:#1a1a1a">100</text>
<text x="36" y="220.2" font-size="8.6" text-anchor="end" fill="#1a1a1a" style="color:#1a1a1a">120</text>
<text x="36" y="198.4" font-size="8.6" text-anchor="end" fill="#1a1a1a" style="color:#1a1a1a">140</text>
<text x="71.4" y="379.2" font-size="8.6" text-anchor="middle" fill="#1a1a1a" style="color:#1a1a1a">435.2</text>
<text x="130.3" y="379.2" font-size="8.6" text-anchor="middle" fill="#1a1a1a" style="color:#1a1a1a">435.6</text>
<text x="189.2" y="379.2" font-size="8.6" text-anchor="middle" fill="#1a1a1a" style="color:#1a1a1a">436.0</text>
<text x="248.1" y="379.2" font-size="8.6" text-anchor="middle" fill="#1a1a1a" style="color:#1a1a1a">436.4</text>
<path d="M38.5 347.6H42.0M38.5 325.9H42.0M38.5 304.1H42.0M38.5 282.4H42.0M38.5 260.6H42.0M38.5 238.9H42.0M38.5 217.2H42.0M38.5 195.4H42.0M71.4 366.6V370M130.3 366.6V370M189.2 366.6V370M248.1 366.6V370" stroke="#333" stroke-width="1"/>
<text x="152" y="390" font-size="9.2" text-anchor="middle" fill="#1a1a1a" style="color:#1a1a1a">Wavelength (nm)</text>
<text transform="translate(15.0 274.6) rotate(-90)" font-size="9.1" text-anchor="middle" fill="#1a1a1a" style="color:#1a1a1a">Counts (arb. u.)</text>
<text x="174" y="282" font-size="9.0" text-anchor="start" fill="#1a1a1a" style="color:#1a1a1a"><tspan font-style="italic">h</tspan>Δω = 126 μeV</text>
<path d="M174.6 277.6L179.0 276.0" stroke="#1a1a1a" stroke-width="0.8"/>
<rect x="208.7" y="185.2" width="49.6" height="27" rx="2" fill="#fff" fill-opacity="0.8" stroke="#d8d8d8" stroke-width="0.8"/>
<path d="M211.3 192.1H229.2" stroke="#1f77b4" stroke-width="1.2"/><circle cx="220.3" cy="192.1" r="1.4" fill="#1f77b4"/>
<path d="M211.3 204.1H229.2" stroke="#ff7f0e" stroke-width="1.7"/>
<text x="235.4" y="195.3" font-size="8.6" text-anchor="start" fill="#1a1a1a" style="color:#1a1a1a">Data</text>
<text x="235.4" y="207.2" font-size="8.6" text-anchor="start" fill="#1a1a1a" style="color:#1a1a1a">Fit</text>
<text x="-0.3" y="194.4" font-size="12.2" text-anchor="start" fill="#000" style="color:#000">c)</text>
<text x="300" y="194.6" font-size="12.2" text-anchor="start" fill="#000" style="color:#000">d)</text>
<text x="319.4" y="232.6" font-size="9.6" text-anchor="start" fill="#e31e2c" style="color:#e31e2c;stroke-width:0.08px">CVD 1200 ºC</text>
<defs><linearGradient id="topf" x1="0" y1="0" x2="1" y2="1"><stop offset="0" stop-color="#c63658"/><stop offset="1" stop-color="#b62c4c"/></linearGradient><linearGradient id="frontf" x1="0" y1="0" x2="1" y2="0"><stop offset="0" stop-color="#6c1626"/><stop offset="1" stop-color="#5c101e"/></linearGradient><linearGradient id="pill" x1="0" y1="0" x2="1" y2="0"><stop offset="0" stop-color="#9c6a78"/><stop offset="0.4" stop-color="#b48a96"/><stop offset="1" stop-color="#5e2c3a"/></linearGradient><radialGradient id="sr" cx="0.35" cy="0.35" r="0.7"><stop offset="0" stop-color="#f04050"/><stop offset="0.45" stop-color="#b80818"/><stop offset="1" stop-color="#500008"/></radialGradient><radialGradient id="sb" cx="0.35" cy="0.35" r="0.7"><stop offset="0" stop-color="#5a5af0"/><stop offset="0.45" stop-color="#1c1ca8"/><stop offset="1" stop-color="#050550"/></radialGradient><radialGradient id="so" cx="0.35" cy="0.35" r="0.7"><stop offset="0" stop-color="#ffc070"/><stop offset="0.5" stop-color="#f89030"/><stop offset="1" stop-color="#c86010"/></radialGradient><radialGradient id="sp" cx="0.35" cy="0.35" r="0.7"><stop offset="0" stop-color="#d070e0"/><stop offset="0.45" stop-color="#8a2a9e"/><stop offset="1" stop-color="#401050"/></radialGradient><radialGradient id="spot" cx="0.5" cy="0.5" r="0.5"><stop offset="0" stop-color="#40e0ff"/><stop offset="0.3" stop-color="#18a0ff" stop-opacity="0.9"/><stop offset="0.65" stop-color="#1060f0" stop-opacity="0.4"/><stop offset="1" stop-color="#0a30e0" stop-opacity="0"/></radialGradient><radialGradient id="wfbg" cx="0.6" cy="0.64" r="0.75"><stop offset="0" stop-color="#0e28d2"/><stop offset="0.55" stop-color="#0a1cbc"/><stop offset="1" stop-color="#060e9c"/></radialGradient></defs>
<polygon points="317.5,303.9 406.7,299.2 436.6,329.9 325.5,338.9 326.6,357.2" fill="url(#topf)"/>
<polygon points="325.5,338.9 436.6,329.9 436.6,348.2 326.6,357.2" fill="url(#frontf)"/>
<g fill="#8a1a32" opacity="0.75"><path d="M335.6 308.5l5 2.2l-1 1.2l-5.2 -2z"/><path d="M337.4 313.6l5 2.2l-1 1.2l-5.2 -2z"/><path d="M339.2 318.8l5 2.2l-1 1.2l-5.2 -2z"/><path d="M341 323.9l5 2.2l-1 1.2l-5.2 -2z"/><path d="M342.8 329.1l5 2.2l-1 1.2l-5.2 -2z"/><path d="M350.8 307.7l5 2.2l-1 1.2l-5.2 -2z"/><path d="M353.2 312.8l5 2.2l-1 1.2l-5.2 -2z"/><path d="M355.6 317.9l5 2.2l-1 1.2l-5.2 -2z"/><path d="M358 323l5 2.2l-1 1.2l-5.2 -2z"/><path d="M360.4 328.1l5 2.2l-1 1.2l-5.2 -2z"/><path d="M366 306.9l5 2.2l-1 1.2l-5.2 -2z"/><path d="M369 311.9l5 2.2l-1 1.2l-5.2 -2z"/><path d="M372 317l5 2.2l-1 1.2l-5.2 -2z"/><path d="M375 322l5 2.2l-1 1.2l-5.2 -2z"/><path d="M378 327.1l5 2.2l-1 1.2l-5.2 -2z"/><path d="M381.2 306.1l5 2.2l-1 1.2l-5.2 -2z"/><path d="M384.8 311.1l5 2.2l-1 1.2l-5.2 -2z"/><path d="M388.4 316.1l5 2.2l-1 1.2l-5.2 -2z"/><path d="M392 321.1l5 2.2l-1 1.2l-5.2 -2z"/><path d="M395.6 326.1l5 2.2l-1 1.2l-5.2 -2z"/><path d="M396.4 305.3l5 2.2l-1 1.2l-5.2 -2z"/><path d="M400.6 310.2l5 2.2l-1 1.2l-5.2 -2z"/><path d="M404.8 315.2l5 2.2l-1 1.2l-5.2 -2z"/><path d="M409 320.2l5 2.2l-1 1.2l-5.2 -2z"/><path d="M413.2 325.1l5 2.2l-1 1.2l-5.2 -2z"/></g>
<g><rect x="332.5" y="301" width="3.1" height="8" fill="url(#pill)"/><ellipse cx="334.1" cy="301.4" rx="1.55" ry="0.7" fill="#c8a6ae"/><rect x="334.3" y="306.1" width="3.1" height="8" fill="url(#pill)"/><ellipse cx="335.9" cy="306.5" rx="1.55" ry="0.7" fill="#c8a6ae"/><rect x="336.1" y="311.3" width="3.1" height="8" fill="url(#pill)"/><ellipse cx="337.7" cy="311.7" rx="1.55" ry="0.7" fill="#c8a6ae"/><rect x="337.9" y="316.4" width="3.1" height="8" fill="url(#pill)"/><ellipse cx="339.4" cy="316.8" rx="1.55" ry="0.7" fill="#c8a6ae"/><rect x="339.7" y="321.6" width="3.1" height="8" fill="url(#pill)"/><ellipse cx="341.2" cy="322" rx="1.55" ry="0.7" fill="#c8a6ae"/><rect x="347.7" y="300.2" width="3.1" height="8" fill="url(#pill)"/><ellipse cx="349.2" cy="300.6" rx="1.55" ry="0.7" fill="#c8a6ae"/><rect x="350.1" y="305.3" width="3.1" height="8" fill="url(#pill)"/><ellipse cx="351.6" cy="305.7" rx="1.55" ry="0.7" fill="#c8a6ae"/><rect x="352.5" y="310.4" width="3.1" height="8" fill="url(#pill)"/><ellipse cx="354.1" cy="310.8" rx="1.55" ry="0.7" fill="#c8a6ae"/><rect x="354.9" y="315.5" width="3.1" height="8" fill="url(#pill)"/><ellipse cx="356.4" cy="315.9" rx="1.55" ry="0.7" fill="#c8a6ae"/><rect x="357.3" y="320.6" width="3.1" height="8" fill="url(#pill)"/><ellipse cx="358.9" cy="321" rx="1.55" ry="0.7" fill="#c8a6ae"/><rect x="362.9" y="299.4" width="3.1" height="8" fill="url(#pill)"/><ellipse cx="364.4" cy="299.8" rx="1.55" ry="0.7" fill="#c8a6ae"/><rect x="365.9" y="304.4" width="3.1" height="8" fill="url(#pill)"/><ellipse cx="367.4" cy="304.8" rx="1.55" ry="0.7" fill="#c8a6ae"/><rect x="368.9" y="309.5" width="3.1" height="8" fill="url(#pill)"/><ellipse cx="370.4" cy="309.9" rx="1.55" ry="0.7" fill="#c8a6ae"/><rect x="371.9" y="314.5" width="3.1" height="8" fill="url(#pill)"/><ellipse cx="373.4" cy="314.9" rx="1.55" ry="0.7" fill="#c8a6ae"/><rect x="374.9" y="319.6" width="3.1" height="8" fill="url(#pill)"/><ellipse cx="376.4" cy="320" rx="1.55" ry="0.7" fill="#c8a6ae"/><rect x="378.1" y="298.6" width="3.1" height="8" fill="url(#pill)"/><ellipse cx="379.7" cy="299" rx="1.55" ry="0.7" fill="#c8a6ae"/><rect x="381.7" y="303.6" width="3.1" height="8" fill="url(#pill)"/><ellipse cx="383.3" cy="304" rx="1.55" ry="0.7" fill="#c8a6ae"/><rect x="385.3" y="308.6" width="3.1" height="8" fill="url(#pill)"/><ellipse cx="386.9" cy="309" rx="1.55" ry="0.7" fill="#c8a6ae"/><rect x="388.9" y="313.6" width="3.1" height="8" fill="url(#pill)"/><ellipse cx="390.5" cy="314" rx="1.55" ry="0.7" fill="#c8a6ae"/><rect x="392.5" y="318.6" width="3.1" height="8" fill="url(#pill)"/><ellipse cx="394.1" cy="319" rx="1.55" ry="0.7" fill="#c8a6ae"/><rect x="393.3" y="297.8" width="3.1" height="8" fill="url(#pill)"/><ellipse cx="394.9" cy="298.2" rx="1.55" ry="0.7" fill="#c8a6ae"/><rect x="397.5" y="302.8" width="3.1" height="8" fill="url(#pill)"/><ellipse cx="399.1" cy="303.1" rx="1.55" ry="0.7" fill="#c8a6ae"/><rect x="401.7" y="307.7" width="3.1" height="8" fill="url(#pill)"/><ellipse cx="403.2" cy="308.1" rx="1.55" ry="0.7" fill="#c8a6ae"/><rect x="405.9" y="312.7" width="3.1" height="8" fill="url(#pill)"/><ellipse cx="407.5" cy="313.1" rx="1.55" ry="0.7" fill="#c8a6ae"/><rect x="410.1" y="317.6" width="3.1" height="8" fill="url(#pill)"/><ellipse cx="411.7" cy="318" rx="1.55" ry="0.7" fill="#c8a6ae"/></g>
<text x="371.6" y="348" font-size="10.2" text-anchor="start" fill="#f4e0e4" style="color:#f4e0e4">SiO<tspan font-size="7" dy="2">2</tspan></text>
<path d="M337.4 258.9L344.4 257" stroke="#3a3a3a" stroke-width="1.2"/>
<circle cx="337.4" cy="258.9" r="2.4" fill="url(#so)"/>
<circle cx="344.4" cy="257" r="2.4" fill="url(#so)"/>
<path d="M372.8 260.2L384 260.2" stroke="#555" stroke-width="1.3"/>
<path d="M372.8 260.2L368.7 254.6" stroke="#3a3a3a" stroke-width="1.0"/>
<path d="M384 260.2L386.6 267.9" stroke="#555" stroke-width="1.3"/>
<path d="M384 260.2L387.6 254.6" stroke="#3a3a3a" stroke-width="1.0"/>
<path d="M386.6 267.9L382.5 276" stroke="#555" stroke-width="1.3"/>
<path d="M386.6 267.9L393.5 267.9" stroke="#3a3a3a" stroke-width="1.0"/>
<path d="M382.5 276L372.8 276" stroke="#555" stroke-width="1.3"/>
<path d="M382.5 276L388.1 281.6" stroke="#3a3a3a" stroke-width="1.0"/>
<path d="M372.8 276L369.3 267.9" stroke="#555" stroke-width="1.3"/>
<path d="M372.8 276L368.7 282.1" stroke="#3a3a3a" stroke-width="1.0"/>
<path d="M369.3 267.9L372.8 260.2" stroke="#555" stroke-width="1.3"/>
<path d="M369.3 267.9L361.6 268.4" stroke="#3a3a3a" stroke-width="1.0"/>
<circle cx="368.7" cy="254.6" r="2.5" fill="url(#so)"/>
<circle cx="387.6" cy="254.6" r="2.5" fill="url(#so)"/>
<circle cx="393.5" cy="267.9" r="2.5" fill="url(#so)"/>
<circle cx="388.1" cy="281.6" r="2.5" fill="url(#so)"/>
<circle cx="368.7" cy="282.1" r="2.5" fill="url(#so)"/>
<circle cx="361.6" cy="268.4" r="2.5" fill="url(#so)"/>
<circle cx="372.8" cy="260.2" r="3.5" fill="url(#sr)"/>
<circle cx="384" cy="260.2" r="3.5" fill="url(#sb)"/>
<circle cx="386.6" cy="267.9" r="3.5" fill="url(#sr)"/>
<circle cx="382.5" cy="276" r="3.5" fill="url(#sb)"/>
<circle cx="372.8" cy="276" r="3.5" fill="url(#sr)"/>
<circle cx="369.3" cy="267.9" r="3.5" fill="url(#sb)"/>
<circle cx="410.4" cy="261.2" r="3.5" fill="url(#sp)"/>
<circle cx="326.3" cy="275.6" r="3.5" fill="url(#sp)"/>
<circle cx="405.6" cy="295.6" r="3.5" fill="url(#sp)"/>
<path d="M345.8 288L355.3 294.9" stroke="#333" stroke-width="1.3"/>
<circle cx="345.8" cy="288" r="3.5" fill="url(#sr)"/>
<circle cx="355.3" cy="294.9" r="3.5" fill="url(#sr)"/>
<text x="328.6" y="250" font-size="7.5" text-anchor="start" fill="#222" style="color:#222">H<tspan font-size="5" dy="1.5">2</tspan></text>
<text x="365" y="249.2" font-size="7.3" text-anchor="start" fill="#222" style="color:#222">Borazine</text>
<text x="328.5" y="293.6" font-size="7.5" text-anchor="start" fill="#333" style="color:#333">B-B</text>
<text x="407.5" y="290.2" font-size="7.5" text-anchor="start" fill="#333" style="color:#333">Ar</text>
<path d="M435 308.1H466" stroke="#000" stroke-width="1.2"/><path d="M465 305.2L471.6 308.1L465 311Z" fill="#000"/>
<text x="444" y="320.5" font-size="9.0" text-anchor="start" fill="#111" style="color:#111">hBN</text>
<path d="M447.5 267.5L443.3 270.1M447.5 267.5L451.3 270.1M455.1 267.5L451.3 270.1M455.1 267.5L459.3 270.1M443.3 270.1L443.3 274.8M451.3 270.1L451.3 274.8M459.3 270.1L459.3 274.8M443.3 274.8L439.5 277.1M443.3 274.8L447.5 277.1M451.3 274.8L447.5 277.1M451.3 274.8L455.1 277.1M459.3 274.8L455.1 277.1M459.3 274.8L463.1 277.1M439.5 277.1L439.5 280.9M447.5 277.1L447.5 280.9M455.1 277.1L455.1 280.9M463.1 277.1L463.1 280.9M439.5 280.9L435.8 283.5M439.5 280.9L443.3 283.5M447.5 280.9L443.3 283.5M447.5 280.9L451.3 283.5M455.1 280.9L451.3 283.5M455.1 280.9L459.3 283.5M463.1 280.9L459.3 283.5M463.1 280.9L467.3 283.5M435.8 283.5L435.8 288.2M443.3 283.5L443.3 288.2M451.3 283.5L451.3 288.2M459.3 283.5L459.3 288.2M467.3 283.5L467.3 288.2M435.8 288.2L439.5 290.8M443.3 288.2L439.5 290.8M443.3 288.2L447.5 290.8M451.3 288.2L447.5 290.8M451.3 288.2L455.1 290.8M459.3 288.2L455.1 290.8M459.3 288.2L463.1 290.8M467.3 288.2L463.1 290.8M439.5 290.8L439.5 295M447.5 290.8L447.5 295M455.1 290.8L455.1 295M463.1 290.8L463.1 295M439.5 295L443.3 297.4M447.5 295L443.3 297.4M447.5 295L451.3 297.4M455.1 295L451.3 297.4M455.1 295L459.3 297.4M463.1 295L459.3 297.4" stroke="#8a8a9a" stroke-width="0.7"/>
<g fill="#c01020"><circle cx="447.5" cy="267.5" r="1.5"/><circle cx="455.1" cy="267.5" r="1.5"/><circle cx="443.3" cy="274.8" r="1.5"/><circle cx="451.3" cy="274.8" r="1.5"/><circle cx="459.3" cy="274.8" r="1.5"/><circle cx="439.5" cy="280.9" r="1.5"/><circle cx="447.5" cy="280.9" r="1.5"/><circle cx="455.1" cy="280.9" r="1.5"/><circle cx="463.1" cy="280.9" r="1.5"/><circle cx="435.8" cy="288.2" r="1.5"/><circle cx="443.3" cy="288.2" r="1.5"/><circle cx="451.3" cy="288.2" r="1.5"/><circle cx="459.3" cy="288.2" r="1.5"/><circle cx="467.3" cy="288.2" r="1.5"/><circle cx="439.5" cy="295" r="1.5"/><circle cx="447.5" cy="295" r="1.5"/><circle cx="455.1" cy="295" r="1.5"/><circle cx="463.1" cy="295" r="1.5"/></g>
<g fill="#2828b0"><circle cx="443.3" cy="270.1" r="1.25"/><circle cx="451.3" cy="270.1" r="1.25"/><circle cx="459.3" cy="270.1" r="1.25"/><circle cx="439.5" cy="277.1" r="1.25"/><circle cx="447.5" cy="277.1" r="1.25"/><circle cx="455.1" cy="277.1" r="1.25"/><circle cx="463.1" cy="277.1" r="1.25"/><circle cx="435.8" cy="283.5" r="1.25"/><circle cx="443.3" cy="283.5" r="1.25"/><circle cx="451.3" cy="283.5" r="1.25"/><circle cx="459.3" cy="283.5" r="1.25"/><circle cx="467.3" cy="283.5" r="1.25"/><circle cx="439.5" cy="290.8" r="1.25"/><circle cx="447.5" cy="290.8" r="1.25"/><circle cx="455.1" cy="290.8" r="1.25"/><circle cx="463.1" cy="290.8" r="1.25"/><circle cx="443.3" cy="297.4" r="1.25"/><circle cx="451.3" cy="297.4" r="1.25"/><circle cx="459.3" cy="297.4" r="1.25"/></g>
<text x="490.2" y="249.3" font-size="9.6" text-anchor="start" fill="#111" style="color:#111">Wide-field image</text>
<rect x="478.5" y="257.0" width="95.3" height="95.0" fill="url(#wfbg)"/>
<g><circle cx="506.2" cy="260.1" r="5" fill="url(#spot)" opacity="0.4"/><circle cx="538.4" cy="260.1" r="5" fill="url(#spot)" opacity="0.3"/><circle cx="484.8" cy="271" r="5.2" fill="url(#spot)" opacity="0.4"/><circle cx="506.2" cy="271" r="6.2" fill="url(#spot)" opacity="0.8"/><circle cx="517" cy="271" r="5.6" fill="url(#spot)" opacity="0.6"/><circle cx="549.1" cy="271" r="4.8" fill="url(#spot)" opacity="0.3"/><circle cx="559.8" cy="271" r="4.8" fill="url(#spot)" opacity="0.3"/><circle cx="484.8" cy="281.9" r="5.1" fill="url(#spot)" opacity="0.4"/><circle cx="527.7" cy="281.9" r="5" fill="url(#spot)" opacity="0.4"/><circle cx="538.4" cy="281.9" r="5" fill="url(#spot)" opacity="0.4"/><circle cx="559.8" cy="281.9" r="5" fill="url(#spot)" opacity="0.3"/><circle cx="570.6" cy="281.9" r="5" fill="url(#spot)" opacity="0.4"/><circle cx="506.2" cy="292.8" r="7" fill="url(#spot)" opacity="1"/><circle cx="527.7" cy="292.8" r="5.1" fill="url(#spot)" opacity="0.4"/><circle cx="538.4" cy="292.8" r="5.8" fill="url(#spot)" opacity="0.6"/><circle cx="549.1" cy="292.8" r="5.6" fill="url(#spot)" opacity="0.6"/><circle cx="559.8" cy="292.8" r="5.6" fill="url(#spot)" opacity="0.6"/><circle cx="570.6" cy="292.8" r="5.1" fill="url(#spot)" opacity="0.4"/><circle cx="495.5" cy="303.7" r="5" fill="url(#spot)" opacity="0.4"/><circle cx="506.2" cy="303.7" r="5.6" fill="url(#spot)" opacity="0.6"/><circle cx="517" cy="303.7" r="5.6" fill="url(#spot)" opacity="0.6"/><circle cx="527.7" cy="303.7" r="5.1" fill="url(#spot)" opacity="0.4"/><circle cx="538.4" cy="303.7" r="5.6" fill="url(#spot)" opacity="0.6"/><circle cx="549.1" cy="303.7" r="5.6" fill="url(#spot)" opacity="0.6"/><circle cx="559.8" cy="303.7" r="5" fill="url(#spot)" opacity="0.4"/><circle cx="570.6" cy="303.7" r="5" fill="url(#spot)" opacity="0.4"/><circle cx="495.5" cy="314.6" r="6.2" fill="url(#spot)" opacity="0.8"/><circle cx="506.2" cy="314.6" r="6.4" fill="url(#spot)" opacity="0.8"/><circle cx="517" cy="314.6" r="6.2" fill="url(#spot)" opacity="0.8"/><circle cx="527.7" cy="314.6" r="6.4" fill="url(#spot)" opacity="0.8"/><circle cx="538.4" cy="314.6" r="5.8" fill="url(#spot)" opacity="0.6"/><circle cx="549.1" cy="314.6" r="5.8" fill="url(#spot)" opacity="0.6"/><circle cx="559.8" cy="314.6" r="5.1" fill="url(#spot)" opacity="0.4"/><circle cx="570.6" cy="314.6" r="5.1" fill="url(#spot)" opacity="0.4"/><circle cx="484.8" cy="325.5" r="5.1" fill="url(#spot)" opacity="0.4"/><circle cx="495.5" cy="325.5" r="4.9" fill="url(#spot)" opacity="0.3"/><circle cx="506.2" cy="325.5" r="6.4" fill="url(#spot)" opacity="0.8"/><circle cx="517" cy="325.5" r="5.9" fill="url(#spot)" opacity="0.6"/><circle cx="527.7" cy="325.5" r="5.6" fill="url(#spot)" opacity="0.6"/><circle cx="538.4" cy="325.5" r="5.6" fill="url(#spot)" opacity="0.6"/><circle cx="549.1" cy="325.5" r="5.2" fill="url(#spot)" opacity="0.4"/><circle cx="559.8" cy="325.5" r="5.6" fill="url(#spot)" opacity="0.6"/><circle cx="570.6" cy="325.5" r="6.5" fill="url(#spot)" opacity="0.8"/><circle cx="484.8" cy="336.4" r="4.9" fill="url(#spot)" opacity="0.3"/><circle cx="495.5" cy="336.4" r="5.5" fill="url(#spot)" opacity="0.5"/><circle cx="506.2" cy="336.4" r="6.2" fill="url(#spot)" opacity="0.8"/><circle cx="517" cy="336.4" r="6" fill="url(#spot)" opacity="0.7"/><circle cx="538.4" cy="336.4" r="5.8" fill="url(#spot)" opacity="0.6"/><circle cx="549.1" cy="336.4" r="5.2" fill="url(#spot)" opacity="0.4"/><circle cx="559.8" cy="336.4" r="5.6" fill="url(#spot)" opacity="0.6"/><circle cx="570.6" cy="336.4" r="5.4" fill="url(#spot)" opacity="0.5"/><circle cx="484.8" cy="347.3" r="5.1" fill="url(#spot)" opacity="0.4"/><circle cx="495.5" cy="347.3" r="5.1" fill="url(#spot)" opacity="0.4"/><circle cx="506.2" cy="347.3" r="5.5" fill="url(#spot)" opacity="0.5"/><circle cx="517" cy="347.3" r="5.4" fill="url(#spot)" opacity="0.5"/><circle cx="527.7" cy="347.3" r="5.1" fill="url(#spot)" opacity="0.4"/><circle cx="538.4" cy="347.3" r="5.1" fill="url(#spot)" opacity="0.4"/><circle cx="549.1" cy="347.3" r="4.9" fill="url(#spot)" opacity="0.3"/></g>
</svg></body></html>
